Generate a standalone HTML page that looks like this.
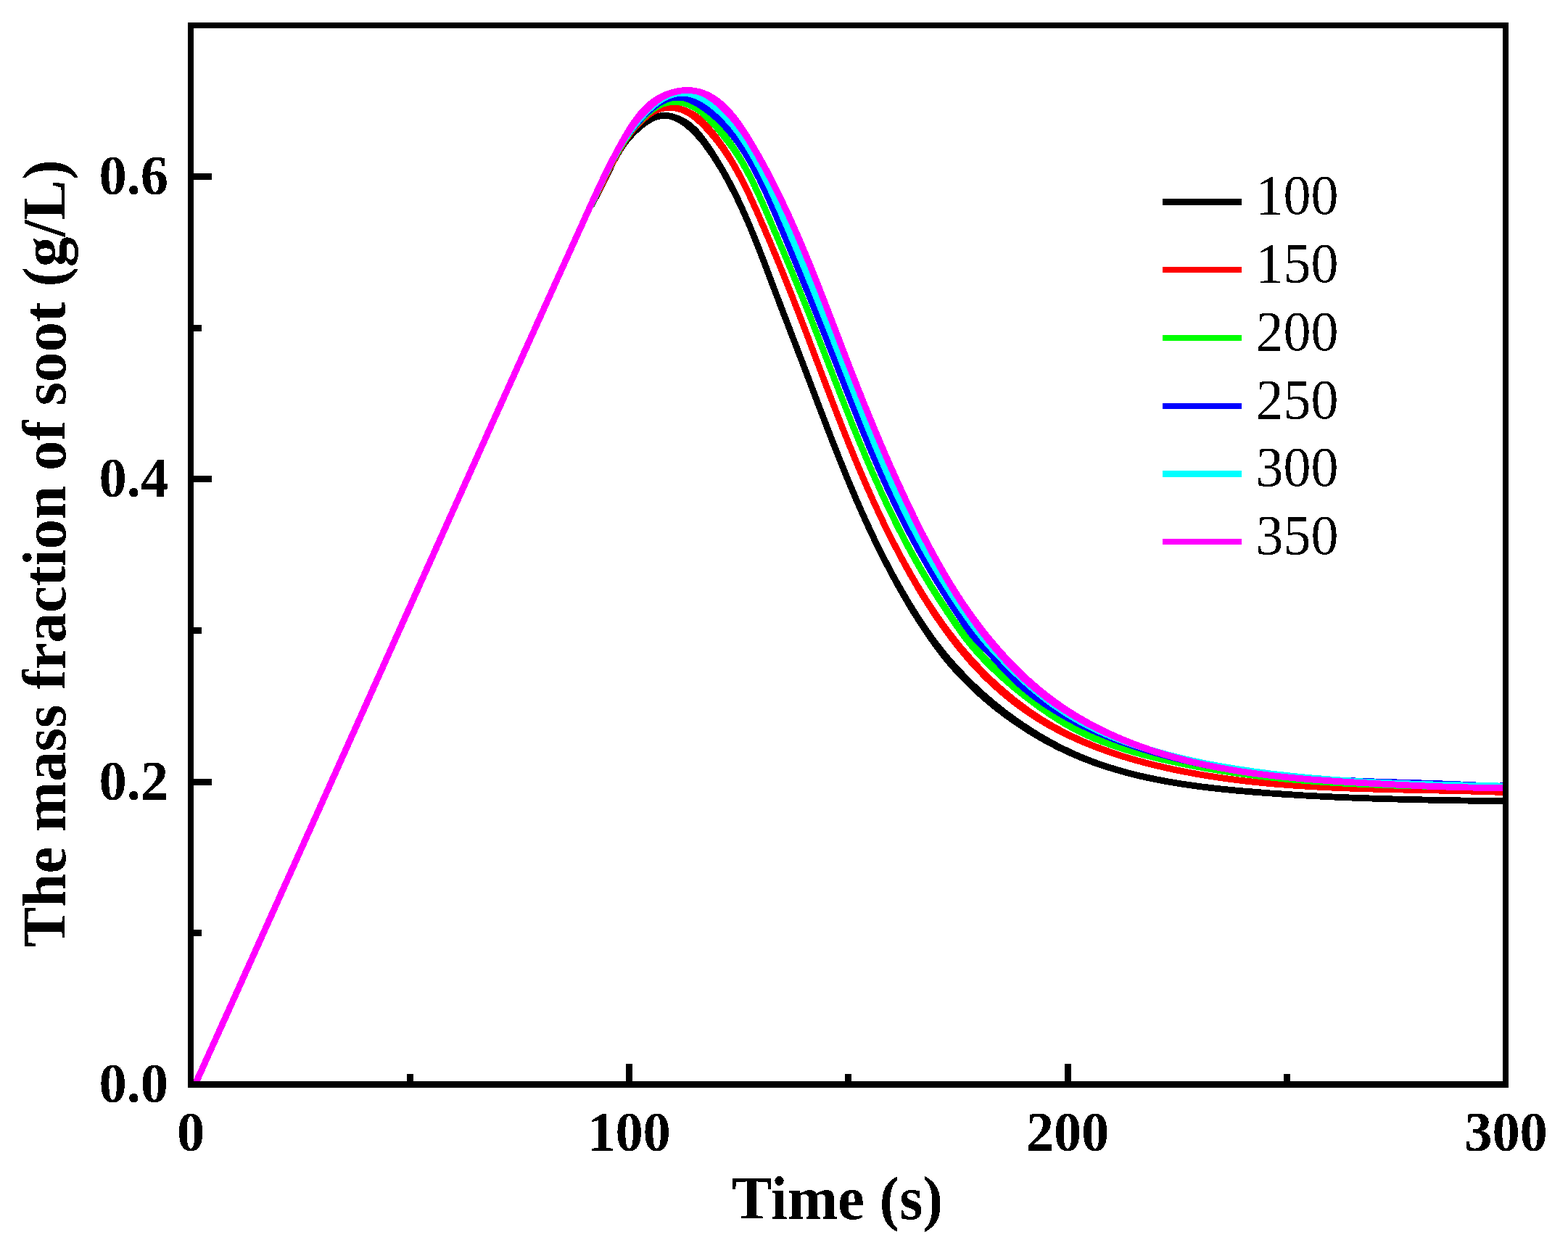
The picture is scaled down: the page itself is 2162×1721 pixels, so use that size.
<!DOCTYPE html>
<html><head><meta charset="utf-8"><title>The mass fraction of soot</title>
<style>
html,body{margin:0;padding:0;background:#fff;}
body{width:2162px;height:1721px;overflow:hidden;}
svg{display:block;}
.b{font-family:"Liberation Serif","Times New Roman",serif;font-weight:bold;fill:#000;}
.r{font-family:"Liberation Serif","Times New Roman",serif;font-weight:normal;fill:#000;}
</style></head>
<body>
<svg width="2162" height="1721" viewBox="0 0 2162 1721">
<rect x="0" y="0" width="2162" height="1721" fill="#fff"/>
<g fill="none" stroke-width="8.80" stroke-linejoin="round" stroke-linecap="butt" shape-rendering="crispEdges">
<path d="M819.4,285.2L820.1,283.9L820.8,282.5L821.5,281.2L822.2,279.8L823.0,278.5L823.7,277.1L824.4,275.7L825.1,274.4L825.8,273.0L826.5,271.7L827.2,270.3L828.0,268.9L828.7,267.6L829.4,266.2L830.1,264.8L830.8,263.4L831.5,262.0L832.2,260.7L832.9,259.3L833.6,257.9L834.3,256.5L835.0,255.1L835.7,253.7L836.4,252.3L837.1,250.9L837.8,249.5L838.4,248.1L839.1,246.7L839.8,245.2L840.5,243.8L841.2,242.4L841.8,241.0L842.5,239.6L843.2,238.2L843.9,236.8L844.6,235.4L845.3,234.0L845.9,232.6L846.6,231.2L847.3,229.8L848.0,228.4L848.7,227.0L849.4,225.6L850.1,224.2L850.8,222.9L851.6,221.5L852.3,220.2L853.0,218.8L853.7,217.5L854.5,216.1L855.2,214.8L856.0,213.5L856.8,212.2L857.6,210.9L858.3,209.6L859.1,208.3L859.9,207.0L860.8,205.8L861.6,204.5L862.4,203.3L863.3,202.1L864.2,200.9L865.0,199.7L865.9,198.5L866.8,197.3L867.7,196.2L868.7,195.1L869.6,193.9L870.6,192.8L871.5,191.7L872.5,190.7L873.5,189.6L874.4,188.6L875.4,187.5L876.4,186.5L877.4,185.5L878.5,184.4L879.5,183.4L880.5,182.5L881.6,181.5L882.6,180.5L883.7,179.6L884.8,178.6L885.9,177.7L887.0,176.8L888.2,175.9L889.3,175.0L890.5,174.1L891.7,173.3L892.9,172.4L894.1,171.6L895.4,170.8L896.6,170.1L897.9,169.3L899.1,168.6L900.4,168.0L901.7,167.3L903.0,166.7L904.3,166.2L905.6,165.7L907.0,165.3L908.3,164.9L909.6,164.6L910.9,164.3L912.3,164.1L913.6,163.9L914.9,163.8L916.2,163.8L917.5,163.8L918.9,163.9L920.2,164.1L921.5,164.3L922.8,164.5L924.2,164.8L925.5,165.2L926.8,165.6L928.1,166.1L929.4,166.6L930.7,167.2L932.0,167.8L933.3,168.5L934.6,169.2L935.9,169.9L937.1,170.7L938.3,171.5L939.6,172.3L940.8,173.2L942.0,174.1L943.2,175.0L944.3,175.9L945.5,176.8L946.6,177.8L947.8,178.8L948.9,179.7L949.9,180.7L951.0,181.7L952.1,182.8L953.1,183.8L954.2,184.8L955.2,185.9L956.2,186.9L957.2,188.0L958.2,189.1L959.2,190.2L960.2,191.3L961.2,192.4L962.2,193.5L963.2,194.6L964.1,195.8L965.1,197.0L966.0,198.1L966.9,199.3L967.8,200.5L968.7,201.7L969.6,202.9L970.5,204.2L971.4,205.4L972.3,206.6L973.2,207.8L974.1,209.1L974.9,210.3L975.8,211.6L976.7,212.8L977.5,214.1L978.4,215.3L979.2,216.6L980.1,217.8L980.9,219.1L981.7,220.4L982.5,221.7L983.4,222.9L984.2,224.2L985.0,225.5L985.8,226.8L986.6,228.1L987.4,229.4L988.2,230.6L989.0,231.9L989.8,233.2L990.6,234.5L991.3,235.8L992.1,237.2L992.9,238.5L993.7,239.8L994.4,241.1L995.2,242.4L995.9,243.7L996.7,245.1L997.4,246.4L998.2,247.7L998.9,249.1L999.6,250.4L1000.4,251.7L1001.1,253.1L1001.8,254.4L1002.5,255.8L1003.2,257.1L1003.9,258.4L1004.6,259.8L1005.3,261.2L1006.0,262.5L1006.7,263.9L1007.4,265.2L1008.1,266.6L1008.8,268.0L1009.5,269.3L1010.2,270.7L1010.9,272.1L1011.5,273.4L1012.2,274.8L1012.9,276.2L1013.5,277.6L1014.2,278.9L1014.8,280.3L1015.5,281.7L1016.2,283.1L1016.8,284.5L1017.5,285.9L1018.1,287.3L1018.7,288.7L1019.4,290.1L1020.0,291.5L1020.6,292.9L1021.3,294.3L1021.9,295.7L1022.5,297.1L1023.2,298.5L1023.8,299.9L1024.4,301.3L1025.0,302.7L1025.6,304.1L1026.2,305.5L1026.8,306.9L1027.5,308.3L1028.1,309.8L1028.7,311.2L1029.3,312.6L1029.9,314.0L1030.5,315.4L1031.1,316.9L1031.6,318.3L1032.2,319.7L1032.8,321.1L1033.4,322.5L1034.0,324.0L1034.6,325.4L1035.2,326.8L1035.7,328.3L1036.3,329.7L1036.9,331.1L1037.5,332.6L1038.1,334.0L1038.6,335.4L1039.2,336.9L1039.8,338.3L1040.3,339.7L1040.9,341.2L1041.5,342.6L1042.0,344.1L1042.6,345.5L1043.2,346.9L1043.7,348.4L1044.3,349.8L1044.8,351.3L1045.4,352.7L1046.0,354.1L1046.5,355.6L1047.1,357.0L1047.6,358.5L1048.2,359.9L1048.7,361.4L1049.3,362.8L1049.8,364.3L1050.4,365.7L1050.9,367.2L1051.5,368.6L1052.0,370.0L1052.6,371.5L1053.1,372.9L1053.7,374.4L1054.2,375.8L1054.8,377.3L1055.3,378.7L1055.9,380.2L1056.4,381.6L1057.0,383.1L1057.5,384.5L1058.1,386.0L1058.6,387.4L1059.2,388.9L1059.7,390.3L1060.2,391.8L1060.8,393.2L1061.3,394.6L1061.9,396.1L1062.4,397.5L1063.0,399.0L1063.5,400.4L1064.1,401.9L1064.6,403.3L1065.2,404.8L1065.7,406.2L1066.3,407.6L1066.8,409.1L1067.4,410.5L1067.9,412.0L1068.5,413.4L1069.0,414.9L1069.6,416.3L1070.1,417.7L1070.6,419.2L1071.2,420.6L1071.7,422.1L1072.3,423.5L1072.8,424.9L1073.4,426.4L1073.9,427.8L1074.5,429.2L1075.0,430.7L1075.6,432.1L1076.1,433.5L1076.7,435.0L1077.3,436.4L1077.8,437.9L1078.4,439.3L1078.9,440.7L1079.5,442.2L1080.0,443.6L1080.6,445.0L1081.1,446.5L1081.7,447.9L1082.2,449.3L1082.8,450.8L1083.3,452.2L1083.9,453.6L1084.4,455.1L1085.0,456.5L1085.5,457.9L1086.1,459.4L1086.6,460.8L1087.2,462.2L1087.7,463.6L1088.3,465.1L1088.8,466.5L1089.4,467.9L1089.9,469.4L1090.5,470.8L1091.0,472.2L1091.6,473.7L1092.1,475.1L1092.7,476.5L1093.2,478.0L1093.8,479.4L1094.3,480.8L1094.9,482.3L1095.4,483.7L1096.0,485.1L1096.5,486.6L1097.1,488.0L1097.6,489.4L1098.2,490.9L1098.7,492.3L1099.3,493.7L1099.8,495.2L1100.4,496.6L1100.9,498.0L1101.5,499.5L1102.0,500.9L1102.6,502.3L1103.1,503.8L1103.7,505.2L1104.2,506.6L1104.8,508.1L1105.3,509.5L1105.9,510.9L1106.4,512.4L1106.9,513.8L1107.5,515.3L1108.0,516.7L1108.6,518.1L1109.1,519.6L1109.7,521.0L1110.2,522.4L1110.8,523.9L1111.3,525.3L1111.9,526.8L1112.4,528.2L1112.9,529.6L1113.5,531.1L1114.0,532.5L1114.6,534.0L1115.1,535.4L1115.7,536.8L1116.2,538.3L1116.8,539.7L1117.3,541.2L1117.9,542.6L1118.4,544.0L1119.0,545.5L1119.5,546.9L1120.0,548.4L1120.6,549.8L1121.1,551.3L1121.7,552.7L1122.2,554.1L1122.8,555.6L1123.3,557.0L1123.9,558.5L1124.4,559.9L1125.0,561.3L1125.5,562.8L1126.1,564.2L1126.6,565.7L1127.2,567.1L1127.7,568.6L1128.3,570.0L1128.8,571.4L1129.4,572.9L1129.9,574.3L1130.5,575.8L1131.0,577.2L1131.6,578.6L1132.1,580.1L1132.7,581.5L1133.2,583.0L1133.8,584.4L1134.3,585.9L1134.9,587.3L1135.4,588.7L1136.0,590.2L1136.5,591.6L1137.1,593.1L1137.7,594.5L1138.2,595.9L1138.8,597.4L1139.3,598.8L1139.9,600.3L1140.4,601.7L1141.0,603.1L1141.6,604.6L1142.1,606.0L1142.7,607.5L1143.2,608.9L1143.8,610.3L1144.4,611.8L1144.9,613.2L1145.5,614.7L1146.1,616.1L1146.6,617.5L1147.2,619.0L1147.8,620.4L1148.3,621.9L1148.9,623.3L1149.5,624.7L1150.0,626.2L1150.6,627.6L1151.2,629.0L1151.7,630.5L1152.3,631.9L1152.9,633.4L1153.5,634.8L1154.0,636.2L1154.6,637.7L1155.2,639.1L1155.8,640.5L1156.3,642.0L1156.9,643.4L1157.5,644.8L1158.1,646.3L1158.7,647.7L1159.2,649.1L1159.8,650.6L1160.4,652.0L1161.0,653.4L1161.6,654.9L1162.2,656.3L1162.8,657.7L1163.3,659.1L1163.9,660.6L1164.5,662.0L1165.1,663.4L1165.7,664.9L1166.3,666.3L1166.9,667.7L1167.5,669.1L1168.1,670.6L1168.7,672.0L1169.3,673.4L1169.9,674.8L1170.5,676.3L1171.1,677.7L1171.7,679.1L1172.3,680.5L1172.9,682.0L1173.5,683.4L1174.1,684.8L1174.7,686.2L1175.3,687.7L1175.9,689.1L1176.5,690.5L1177.2,691.9L1177.8,693.3L1178.4,694.7L1179.0,696.2L1179.6,697.6L1180.2,699.0L1180.9,700.4L1181.5,701.8L1182.1,703.2L1182.7,704.7L1183.4,706.1L1184.0,707.5L1184.6,708.9L1185.2,710.3L1185.9,711.7L1186.5,713.1L1187.1,714.5L1187.8,715.9L1188.4,717.4L1189.0,718.8L1189.7,720.2L1190.3,721.6L1191.0,723.0L1191.6,724.4L1192.3,725.8L1192.9,727.2L1193.5,728.6L1194.2,730.0L1194.8,731.4L1195.5,732.8L1196.2,734.2L1196.8,735.6L1197.5,737.0L1198.1,738.4L1198.8,739.8L1199.4,741.2L1200.1,742.6L1200.8,744.0L1201.4,745.4L1202.1,746.8L1202.8,748.2L1203.4,749.6L1204.1,750.9L1204.8,752.3L1205.5,753.7L1206.1,755.1L1206.8,756.5L1207.5,757.9L1208.2,759.3L1208.9,760.7L1209.6,762.0L1210.2,763.4L1210.9,764.8L1211.6,766.2L1212.3,767.6L1213.0,769.0L1213.7,770.3L1214.4,771.7L1215.1,773.1L1215.8,774.5L1216.5,775.8L1217.2,777.2L1217.9,778.6L1218.6,780.0L1219.3,781.3L1220.1,782.7L1220.8,784.1L1221.5,785.4L1222.2,786.8L1222.9,788.2L1223.6,789.5L1224.4,790.9L1225.1,792.3L1225.8,793.6L1226.6,795.0L1227.3,796.4L1228.0,797.7L1228.8,799.1L1229.5,800.4L1230.2,801.8L1231.0,803.1L1231.7,804.5L1232.5,805.9L1233.2,807.2L1234.0,808.6L1234.7,809.9L1235.5,811.3L1236.2,812.6L1237.0,814.0L1237.7,815.3L1238.5,816.7L1239.3,818.0L1240.0,819.3L1240.8,820.7L1241.6,822.0L1242.4,823.4L1243.1,824.7L1243.9,826.0L1244.7,827.4L1245.5,828.7L1246.3,830.0L1247.0,831.4L1247.8,832.7L1248.6,834.0L1249.4,835.4L1250.2,836.7L1251.0,838.0L1251.8,839.4L1252.6,840.7L1253.4,842.0L1254.2,843.3L1255.0,844.7L1255.8,846.0L1256.7,847.3L1257.5,848.6L1258.3,849.9L1259.1,851.2L1259.9,852.6L1260.8,853.9L1261.6,855.2L1262.4,856.5L1263.3,857.8L1264.1,859.1L1264.9,860.4L1265.8,861.7L1266.6,863.0L1267.5,864.3L1268.3,865.6L1269.2,866.9L1270.0,868.2L1270.9,869.5L1271.7,870.8L1272.6,872.1L1273.5,873.4L1274.3,874.7L1275.2,876.0L1276.1,877.3L1277.0,878.6L1277.8,879.8L1278.7,881.1L1279.6,882.4L1280.5,883.7L1281.4,884.9L1282.3,886.2L1283.2,887.5L1284.1,888.8L1285.0,890.0L1285.9,891.3L1286.9,892.5L1287.8,893.8L1288.7,895.0L1289.6,896.3L1290.6,897.5L1291.5,898.8L1292.5,900.0L1293.4,901.3L1294.4,902.5L1295.3,903.7L1296.3,905.0L1297.2,906.2L1298.2,907.4L1299.2,908.6L1300.1,909.9L1301.1,911.1L1302.1,912.3L1303.1,913.5L1304.1,914.7L1305.1,915.9L1306.1,917.1L1307.1,918.3L1308.1,919.4L1309.1,920.6L1310.2,921.8L1311.2,923.0L1312.2,924.1L1313.3,925.3L1314.3,926.5L1315.3,927.6L1316.4,928.8L1317.4,929.9L1318.5,931.1L1319.5,932.2L1320.6,933.4L1321.7,934.5L1322.8,935.6L1323.8,936.8L1324.9,937.9L1326.0,939.0L1327.1,940.1L1328.2,941.2L1329.3,942.3L1330.4,943.4L1331.5,944.5L1332.6,945.6L1333.7,946.7L1334.8,947.8L1335.9,948.9L1337.1,950.0L1338.2,951.0L1339.3,952.1L1340.5,953.2L1341.6,954.3L1342.7,955.3L1343.9,956.4L1345.0,957.4L1346.2,958.5L1347.3,959.5L1348.5,960.6L1349.7,961.6L1350.8,962.6L1352.0,963.7L1353.2,964.7L1354.4,965.7L1355.5,966.7L1356.7,967.8L1357.9,968.8L1359.1,969.8L1360.3,970.8L1361.5,971.8L1362.7,972.8L1363.9,973.8L1365.1,974.8L1366.3,975.7L1367.5,976.7L1368.7,977.7L1370.0,978.7L1371.2,979.6L1372.4,980.6L1373.6,981.6L1374.9,982.5L1376.1,983.5L1377.4,984.4L1378.6,985.4L1379.8,986.3L1381.1,987.3L1382.3,988.2L1383.6,989.1L1384.9,990.1L1386.1,991.0L1387.4,991.9L1388.6,992.8L1389.9,993.7L1391.2,994.6L1392.5,995.5L1393.7,996.4L1395.0,997.3L1396.3,998.2L1397.6,999.1L1398.9,1000.0L1400.2,1000.9L1401.5,1001.8L1402.8,1002.6L1404.1,1003.5L1405.4,1004.4L1406.7,1005.2L1408.0,1006.1L1409.3,1007.0L1410.6,1007.8L1411.9,1008.7L1413.2,1009.5L1414.6,1010.3L1415.9,1011.2L1417.2,1012.0L1418.5,1012.8L1419.9,1013.6L1421.2,1014.5L1422.5,1015.3L1423.9,1016.1L1425.2,1016.9L1426.6,1017.7L1427.9,1018.5L1429.3,1019.3L1430.6,1020.1L1432.0,1020.8L1433.3,1021.6L1434.7,1022.4L1436.0,1023.2L1437.4,1023.9L1438.8,1024.7L1440.1,1025.4L1441.5,1026.2L1442.9,1026.9L1444.3,1027.7L1445.6,1028.4L1447.0,1029.2L1448.4,1029.9L1449.8,1030.6L1451.2,1031.3L1452.6,1032.0L1453.9,1032.8L1455.3,1033.5L1456.7,1034.2L1458.1,1034.9L1459.5,1035.5L1460.9,1036.2L1462.3,1036.9L1463.7,1037.6L1465.1,1038.3L1466.6,1038.9L1468.0,1039.6L1469.4,1040.2L1470.8,1040.9L1472.2,1041.5L1473.6,1042.2L1475.1,1042.8L1476.5,1043.5L1477.9,1044.1L1479.3,1044.7L1480.8,1045.3L1482.2,1045.9L1483.6,1046.5L1485.0,1047.1L1486.5,1047.7L1487.9,1048.3L1489.4,1048.9L1490.8,1049.5L1492.2,1050.1L1493.7,1050.6L1495.1,1051.2L1496.6,1051.8L1498.0,1052.3L1499.5,1052.9L1500.9,1053.4L1502.4,1054.0L1503.8,1054.5L1505.3,1055.0L1506.7,1055.6L1508.2,1056.1L1509.6,1056.6L1511.1,1057.1L1512.6,1057.6L1514.0,1058.1L1515.5,1058.6L1517.0,1059.1L1518.4,1059.6L1519.9,1060.1L1521.4,1060.6L1522.8,1061.1L1524.3,1061.6L1525.8,1062.0L1527.3,1062.5L1528.7,1063.0L1530.2,1063.4L1531.7,1063.9L1533.2,1064.3L1534.7,1064.8L1536.1,1065.2L1537.6,1065.7L1539.1,1066.1L1540.6,1066.5L1542.1,1066.9L1543.6,1067.4L1545.1,1067.8L1546.6,1068.2L1548.0,1068.6L1549.5,1069.0L1551.0,1069.4L1552.5,1069.8L1554.0,1070.2L1555.5,1070.6L1557.0,1071.0L1558.5,1071.4L1560.0,1071.8L1561.5,1072.1L1563.0,1072.5L1564.5,1072.9L1566.0,1073.2L1567.6,1073.6L1569.1,1074.0L1570.6,1074.3L1572.1,1074.7L1573.6,1075.0L1575.1,1075.4L1576.6,1075.7L1578.1,1076.0L1579.6,1076.4L1581.2,1076.7L1582.7,1077.0L1584.2,1077.3L1585.7,1077.7L1587.2,1078.0L1588.7,1078.3L1590.3,1078.6L1591.8,1078.9L1593.3,1079.2L1594.8,1079.5L1596.4,1079.8L1597.9,1080.1L1599.4,1080.4L1600.9,1080.7L1602.5,1081.0L1604.0,1081.3L1605.5,1081.5L1607.0,1081.8L1608.6,1082.1L1610.1,1082.4L1611.6,1082.6L1613.2,1082.9L1614.7,1083.2L1616.2,1083.4L1617.8,1083.7L1619.3,1083.9L1620.8,1084.2L1622.4,1084.4L1623.9,1084.7L1625.4,1084.9L1627.0,1085.2L1628.5,1085.4L1630.1,1085.6L1631.6,1085.9L1633.1,1086.1L1634.7,1086.3L1636.2,1086.6L1637.7,1086.8L1639.3,1087.0L1640.8,1087.2L1642.4,1087.4L1643.9,1087.7L1645.5,1087.9L1647.0,1088.1L1648.5,1088.3L1650.1,1088.5L1651.6,1088.7L1653.2,1088.9L1654.7,1089.1L1656.3,1089.3L1657.8,1089.5L1659.3,1089.7L1660.9,1089.9L1662.4,1090.1L1664.0,1090.2L1665.5,1090.4L1667.1,1090.6L1668.6,1090.8L1670.2,1091.0L1671.7,1091.1L1673.3,1091.3L1674.8,1091.5L1676.4,1091.7L1677.9,1091.8L1679.5,1092.0L1681.0,1092.2L1682.5,1092.3L1684.1,1092.5L1685.6,1092.7L1687.2,1092.8L1688.7,1093.0L1690.3,1093.1L1691.8,1093.3L1693.4,1093.4L1694.9,1093.6L1696.5,1093.7L1698.0,1093.9L1699.6,1094.0L1701.1,1094.2L1702.7,1094.3L1704.2,1094.5L1705.8,1094.6L1707.3,1094.8L1708.9,1094.9L1710.4,1095.0L1712.0,1095.2L1713.5,1095.3L1715.0,1095.4L1716.6,1095.6L1718.1,1095.7L1719.7,1095.8L1721.2,1096.0L1722.8,1096.1L1724.3,1096.2L1725.9,1096.4L1727.4,1096.5L1729.0,1096.6L1730.5,1096.7L1732.0,1096.9L1733.6,1097.0L1735.1,1097.1L1736.7,1097.2L1738.2,1097.3L1739.8,1097.5L1741.3,1097.6L1742.9,1097.7L1744.4,1097.8L1745.9,1097.9L1747.5,1098.0L1749.0,1098.2L1750.6,1098.3L1752.1,1098.4L1753.7,1098.5L1755.2,1098.6L1756.7,1098.7L1758.3,1098.8L1759.8,1098.9L1761.4,1099.0L1762.9,1099.1L1764.4,1099.2L1766.0,1099.4L1767.5,1099.5L1769.1,1099.6L1770.6,1099.7L1772.1,1099.8L1773.7,1099.9L1775.2,1100.0L1776.8,1100.1L1778.3,1100.2L1779.8,1100.3L1781.4,1100.3L1782.9,1100.4L1784.5,1100.5L1786.0,1100.6L1787.5,1100.7L1789.1,1100.8L1790.6,1100.9L1792.2,1101.0L1793.7,1101.1L1795.2,1101.2L1796.8,1101.3L1798.3,1101.4L1799.9,1101.4L1801.4,1101.5L1802.9,1101.6L1804.5,1101.7L1806.0,1101.8L1807.5,1101.9L1809.1,1101.9L1810.6,1102.0L1812.2,1102.1L1813.7,1102.2L1815.2,1102.3L1816.8,1102.3L1818.3,1102.4L1819.8,1102.5L1821.4,1102.6L1822.9,1102.7L1824.5,1102.7L1826.0,1102.8L1827.5,1102.9L1829.1,1103.0L1830.6,1103.0L1832.1,1103.1L1833.7,1103.2L1835.2,1103.2L1836.7,1103.3L1838.3,1103.4L1839.8,1103.5L1841.4,1103.5L1842.9,1103.6L1844.4,1103.7L1846.0,1103.7L1847.5,1103.8L1849.0,1103.9L1850.6,1103.9L1852.1,1104.0L1853.6,1104.0L1855.2,1104.1L1856.7,1104.2L1858.3,1104.2L1859.8,1104.3L1861.3,1104.4L1862.9,1104.4L1864.4,1104.5L1865.9,1104.5L1867.5,1104.6L1869.0,1104.7L1870.5,1104.7L1872.1,1104.8L1873.6,1104.8L1875.1,1104.9L1876.7,1104.9L1878.2,1105.0L1879.8,1105.0L1881.3,1105.1L1882.8,1105.1L1884.4,1105.2L1885.9,1105.3L1887.4,1105.3L1889.0,1105.4L1890.5,1105.4L1892.0,1105.5L1893.6,1105.5L1895.1,1105.6L1896.6,1105.6L1898.2,1105.7L1899.7,1105.7L1901.3,1105.7L1902.8,1105.8L1904.3,1105.8L1905.9,1105.9L1907.4,1105.9L1908.9,1106.0L1910.5,1106.0L1912.0,1106.1L1913.5,1106.1L1915.1,1106.2L1916.6,1106.2L1918.1,1106.2L1919.7,1106.3L1921.2,1106.3L1922.8,1106.4L1924.3,1106.4L1925.8,1106.4L1927.4,1106.5L1928.9,1106.5L1930.4,1106.6L1932.0,1106.6L1933.5,1106.6L1935.1,1106.7L1936.6,1106.7L1938.1,1106.8L1939.7,1106.8L1941.2,1106.8L1942.7,1106.9L1944.3,1106.9L1945.8,1106.9L1947.3,1107.0L1948.9,1107.0L1950.4,1107.1L1952.0,1107.1L1953.5,1107.1L1955.0,1107.2L1956.6,1107.2L1958.1,1107.2L1959.7,1107.3L1961.2,1107.3L1962.7,1107.3L1964.3,1107.4L1965.8,1107.4L1967.3,1107.4L1968.9,1107.5L1970.4,1107.5L1972.0,1107.5L1973.5,1107.5L1975.0,1107.6L1976.6,1107.6L1978.1,1107.6L1979.7,1107.7L1981.2,1107.7L1982.7,1107.7L1984.3,1107.8L1985.8,1107.8L1987.4,1107.8L1988.9,1107.8L1990.4,1107.9L1992.0,1107.9L1993.5,1107.9L1995.1,1108.0L1996.6,1108.0L1998.2,1108.0L1999.7,1108.0L2001.2,1108.1L2002.8,1108.1L2004.3,1108.1L2005.9,1108.1L2007.4,1108.2L2008.9,1108.2L2010.5,1108.2L2012.0,1108.3L2013.6,1108.3L2015.1,1108.3L2016.7,1108.3L2018.2,1108.4L2019.7,1108.4L2021.3,1108.4L2022.8,1108.4L2024.4,1108.5L2025.9,1108.5L2027.5,1108.5L2029.0,1108.5L2030.6,1108.6L2032.1,1108.6L2033.7,1108.6L2035.2,1108.6L2036.7,1108.7L2038.3,1108.7L2039.8,1108.7L2041.4,1108.7L2042.9,1108.8L2044.5,1108.8L2046.0,1108.8L2047.6,1108.8L2049.1,1108.9L2050.7,1108.9L2052.2,1108.9L2053.8,1108.9L2055.3,1109.0L2056.9,1109.0L2058.4,1109.0L2060.0,1109.0L2061.5,1109.1L2063.1,1109.1L2064.6,1109.1L2066.2,1109.1L2067.7,1109.2L2069.3,1109.2L2070.8,1109.2L2072.4,1109.2L2073.9,1109.3L2075.5,1109.3L2077.0,1109.3L2077.2,1100.5L2075.6,1100.5L2074.1,1100.4L2072.5,1100.4L2070.9,1100.4L2069.4,1100.4L2067.8,1100.3L2066.3,1100.3L2064.7,1100.3L2063.2,1100.3L2061.6,1100.2L2060.1,1100.2L2058.5,1100.2L2057.0,1100.2L2055.5,1100.1L2053.9,1100.1L2052.4,1100.1L2050.8,1100.1L2049.3,1100.0L2047.7,1100.0L2046.2,1100.0L2044.6,1100.0L2043.1,1099.9L2041.5,1099.9L2040.0,1099.9L2038.4,1099.9L2036.9,1099.8L2035.3,1099.8L2033.8,1099.8L2032.2,1099.8L2030.7,1099.7L2029.2,1099.7L2027.6,1099.7L2026.1,1099.7L2024.5,1099.6L2023.0,1099.6L2021.4,1099.6L2019.9,1099.6L2018.4,1099.5L2016.8,1099.5L2015.3,1099.5L2013.7,1099.5L2012.2,1099.4L2010.6,1099.4L2009.1,1099.4L2007.6,1099.4L2006.0,1099.3L2004.5,1099.3L2002.9,1099.3L2001.4,1099.3L1999.8,1099.2L1998.3,1099.2L1996.8,1099.2L1995.2,1099.1L1993.7,1099.1L1992.1,1099.1L1990.6,1099.1L1989.1,1099.0L1987.5,1099.0L1986.0,1099.0L1984.5,1098.9L1982.9,1098.9L1981.4,1098.9L1979.8,1098.8L1978.3,1098.8L1976.8,1098.8L1975.2,1098.8L1973.7,1098.7L1972.1,1098.7L1970.6,1098.7L1969.1,1098.6L1967.5,1098.6L1966.0,1098.6L1964.5,1098.5L1962.9,1098.5L1961.4,1098.5L1959.8,1098.4L1958.3,1098.4L1956.8,1098.4L1955.2,1098.3L1953.7,1098.3L1952.2,1098.3L1950.6,1098.2L1949.1,1098.2L1947.6,1098.2L1946.0,1098.1L1944.5,1098.1L1942.9,1098.1L1941.4,1098.0L1939.9,1098.0L1938.3,1097.9L1936.8,1097.9L1935.3,1097.9L1933.7,1097.8L1932.2,1097.8L1930.7,1097.7L1929.1,1097.7L1927.6,1097.7L1926.1,1097.6L1924.5,1097.6L1923.0,1097.5L1921.5,1097.5L1919.9,1097.5L1918.4,1097.4L1916.9,1097.4L1915.3,1097.3L1913.8,1097.3L1912.3,1097.2L1910.7,1097.2L1909.2,1097.2L1907.7,1097.1L1906.1,1097.1L1904.6,1097.0L1903.1,1097.0L1901.5,1096.9L1900.0,1096.9L1898.5,1096.8L1896.9,1096.8L1895.4,1096.7L1893.9,1096.7L1892.3,1096.6L1890.8,1096.6L1889.3,1096.5L1887.7,1096.5L1886.2,1096.4L1884.7,1096.4L1883.1,1096.3L1881.6,1096.3L1880.1,1096.2L1878.5,1096.2L1877.0,1096.1L1875.5,1096.1L1873.9,1096.0L1872.4,1095.9L1870.9,1095.9L1869.3,1095.8L1867.8,1095.8L1866.3,1095.7L1864.7,1095.7L1863.2,1095.6L1861.7,1095.5L1860.1,1095.5L1858.6,1095.4L1857.1,1095.4L1855.5,1095.3L1854.0,1095.2L1852.5,1095.2L1850.9,1095.1L1849.4,1095.0L1847.9,1095.0L1846.3,1094.9L1844.8,1094.8L1843.3,1094.8L1841.7,1094.7L1840.2,1094.6L1838.7,1094.6L1837.1,1094.5L1835.6,1094.4L1834.1,1094.4L1832.5,1094.3L1831.0,1094.2L1829.5,1094.1L1828.0,1094.1L1826.4,1094.0L1824.9,1093.9L1823.4,1093.8L1821.8,1093.8L1820.3,1093.7L1818.8,1093.6L1817.2,1093.5L1815.7,1093.5L1814.2,1093.4L1812.6,1093.3L1811.1,1093.2L1809.6,1093.1L1808.0,1093.0L1806.5,1093.0L1805.0,1092.9L1803.4,1092.8L1801.9,1092.7L1800.4,1092.6L1798.8,1092.5L1797.3,1092.5L1795.7,1092.4L1794.2,1092.3L1792.7,1092.2L1791.1,1092.1L1789.6,1092.0L1788.1,1091.9L1786.5,1091.8L1785.0,1091.7L1783.5,1091.6L1781.9,1091.5L1780.4,1091.4L1778.9,1091.3L1777.3,1091.2L1775.8,1091.1L1774.3,1091.0L1772.7,1090.9L1771.2,1090.8L1769.7,1090.7L1768.1,1090.6L1766.6,1090.5L1765.0,1090.4L1763.5,1090.3L1762.0,1090.2L1760.4,1090.1L1758.9,1090.0L1757.4,1089.9L1755.8,1089.8L1754.3,1089.7L1752.8,1089.6L1751.2,1089.5L1749.7,1089.3L1748.1,1089.2L1746.6,1089.1L1745.1,1089.0L1743.5,1088.9L1742.0,1088.8L1740.4,1088.6L1738.9,1088.5L1737.4,1088.4L1735.8,1088.3L1734.3,1088.2L1732.8,1088.0L1731.2,1087.9L1729.7,1087.8L1728.1,1087.7L1726.6,1087.5L1725.1,1087.4L1723.5,1087.3L1722.0,1087.2L1720.4,1087.0L1718.9,1086.9L1717.4,1086.8L1715.8,1086.6L1714.3,1086.5L1712.7,1086.4L1711.2,1086.2L1709.7,1086.1L1708.1,1085.9L1706.6,1085.8L1705.0,1085.7L1703.5,1085.5L1702.0,1085.4L1700.4,1085.2L1698.9,1085.1L1697.3,1084.9L1695.8,1084.8L1694.3,1084.6L1692.7,1084.5L1691.2,1084.3L1689.6,1084.2L1688.1,1084.0L1686.6,1083.8L1685.0,1083.7L1683.5,1083.5L1681.9,1083.4L1680.4,1083.2L1678.9,1083.0L1677.3,1082.9L1675.8,1082.7L1674.3,1082.5L1672.7,1082.3L1671.2,1082.2L1669.6,1082.0L1668.1,1081.8L1666.6,1081.6L1665.0,1081.4L1663.5,1081.3L1662.0,1081.1L1660.4,1080.9L1658.9,1080.7L1657.4,1080.5L1655.8,1080.3L1654.3,1080.1L1652.8,1079.9L1651.2,1079.7L1649.7,1079.5L1648.2,1079.3L1646.7,1079.1L1645.1,1078.9L1643.6,1078.6L1642.1,1078.4L1640.5,1078.2L1639.0,1078.0L1637.5,1077.8L1636.0,1077.5L1634.4,1077.3L1632.9,1077.1L1631.4,1076.9L1629.9,1076.6L1628.4,1076.4L1626.8,1076.1L1625.3,1075.9L1623.8,1075.7L1622.3,1075.4L1620.8,1075.2L1619.2,1074.9L1617.7,1074.6L1616.2,1074.4L1614.7,1074.1L1613.2,1073.9L1611.7,1073.6L1610.1,1073.3L1608.6,1073.0L1607.1,1072.8L1605.6,1072.5L1604.1,1072.2L1602.6,1071.9L1601.1,1071.6L1599.6,1071.3L1598.1,1071.0L1596.6,1070.8L1595.1,1070.5L1593.6,1070.1L1592.1,1069.8L1590.6,1069.5L1589.1,1069.2L1587.6,1068.9L1586.1,1068.6L1584.6,1068.3L1583.1,1067.9L1581.6,1067.6L1580.1,1067.3L1578.6,1066.9L1577.1,1066.6L1575.6,1066.3L1574.1,1065.9L1572.6,1065.6L1571.1,1065.2L1569.7,1064.8L1568.2,1064.5L1566.7,1064.1L1565.2,1063.8L1563.7,1063.4L1562.2,1063.0L1560.8,1062.6L1559.3,1062.2L1557.8,1061.9L1556.3,1061.5L1554.9,1061.1L1553.4,1060.7L1551.9,1060.3L1550.5,1059.9L1549.0,1059.5L1547.5,1059.0L1546.1,1058.6L1544.6,1058.2L1543.1,1057.8L1541.7,1057.4L1540.2,1056.9L1538.8,1056.5L1537.3,1056.0L1535.8,1055.6L1534.4,1055.1L1532.9,1054.7L1531.5,1054.2L1530.0,1053.8L1528.6,1053.3L1527.1,1052.8L1525.7,1052.4L1524.3,1051.9L1522.8,1051.4L1521.4,1050.9L1519.9,1050.4L1518.5,1049.9L1517.1,1049.4L1515.6,1048.9L1514.2,1048.4L1512.8,1047.9L1511.4,1047.3L1509.9,1046.8L1508.5,1046.3L1507.1,1045.8L1505.7,1045.2L1504.2,1044.7L1502.8,1044.1L1501.4,1043.6L1500.0,1043.0L1498.6,1042.5L1497.2,1041.9L1495.8,1041.3L1494.4,1040.7L1493.0,1040.2L1491.6,1039.6L1490.2,1039.0L1488.8,1038.4L1487.4,1037.8L1486.0,1037.2L1484.6,1036.6L1483.2,1035.9L1481.8,1035.3L1480.4,1034.7L1479.0,1034.1L1477.6,1033.4L1476.3,1032.8L1474.9,1032.1L1473.5,1031.5L1472.1,1030.8L1470.8,1030.1L1469.4,1029.5L1468.0,1028.8L1466.6,1028.1L1465.3,1027.4L1463.9,1026.8L1462.6,1026.1L1461.2,1025.4L1459.8,1024.7L1458.5,1024.0L1457.1,1023.3L1455.8,1022.5L1454.4,1021.8L1453.1,1021.1L1451.7,1020.4L1450.4,1019.6L1449.1,1018.9L1447.7,1018.1L1446.4,1017.4L1445.1,1016.6L1443.7,1015.9L1442.4,1015.1L1441.1,1014.4L1439.7,1013.6L1438.4,1012.8L1437.1,1012.0L1435.8,1011.3L1434.5,1010.5L1433.2,1009.7L1431.9,1008.9L1430.5,1008.1L1429.2,1007.3L1427.9,1006.5L1426.6,1005.7L1425.3,1004.8L1424.0,1004.0L1422.8,1003.2L1421.5,1002.4L1420.2,1001.5L1418.9,1000.7L1417.6,999.9L1416.3,999.0L1415.1,998.2L1413.8,997.3L1412.5,996.5L1411.2,995.6L1410.0,994.8L1408.7,993.9L1407.4,993.0L1406.2,992.1L1404.9,991.3L1403.7,990.4L1402.4,989.5L1401.2,988.6L1399.9,987.7L1398.7,986.8L1397.5,985.9L1396.2,985.0L1395.0,984.1L1393.8,983.2L1392.5,982.3L1391.3,981.4L1390.1,980.5L1388.9,979.5L1387.6,978.6L1386.4,977.7L1385.2,976.7L1384.0,975.8L1382.8,974.9L1381.6,973.9L1380.4,973.0L1379.2,972.0L1378.0,971.1L1376.8,970.1L1375.6,969.2L1374.5,968.2L1373.3,967.2L1372.1,966.2L1370.9,965.3L1369.8,964.3L1368.6,963.3L1367.4,962.3L1366.3,961.3L1365.1,960.3L1364.0,959.3L1362.8,958.3L1361.7,957.3L1360.5,956.3L1359.4,955.3L1358.2,954.3L1357.1,953.3L1356.0,952.3L1354.8,951.3L1353.7,950.2L1352.6,949.2L1351.5,948.2L1350.3,947.1L1349.2,946.1L1348.1,945.0L1347.0,944.0L1345.9,942.9L1344.8,941.9L1343.7,940.8L1342.6,939.8L1341.5,938.7L1340.4,937.6L1339.4,936.6L1338.3,935.5L1337.2,934.4L1336.1,933.3L1335.1,932.3L1334.0,931.2L1332.9,930.1L1331.9,929.0L1330.8,927.9L1329.8,926.8L1328.7,925.7L1327.7,924.6L1326.6,923.5L1325.6,922.4L1324.6,921.3L1323.5,920.2L1322.5,919.0L1321.5,917.9L1320.4,916.8L1319.4,915.7L1318.4,914.5L1317.4,913.4L1316.4,912.3L1315.4,911.1L1314.4,910.0L1313.4,908.8L1312.4,907.7L1311.4,906.5L1310.4,905.4L1309.4,904.2L1308.4,903.0L1307.5,901.9L1306.5,900.7L1305.5,899.5L1304.6,898.3L1303.6,897.2L1302.6,896.0L1301.7,894.8L1300.7,893.6L1299.8,892.4L1298.8,891.2L1297.9,890.0L1297.0,888.8L1296.0,887.6L1295.1,886.4L1294.2,885.2L1293.3,883.9L1292.4,882.7L1291.4,881.5L1290.5,880.3L1289.6,879.0L1288.7,877.8L1287.8,876.6L1286.9,875.3L1286.0,874.1L1285.2,872.8L1284.3,871.6L1283.4,870.3L1282.5,869.1L1281.6,867.8L1280.8,866.6L1279.9,865.3L1279.0,864.0L1278.2,862.8L1277.3,861.5L1276.4,860.2L1275.6,859.0L1274.7,857.7L1273.9,856.4L1273.1,855.1L1272.2,853.9L1271.4,852.6L1270.5,851.3L1269.7,850.0L1268.9,848.7L1268.0,847.4L1267.2,846.1L1266.4,844.8L1265.6,843.5L1264.7,842.2L1263.9,840.9L1263.1,839.6L1262.3,838.3L1261.5,837.0L1260.7,835.7L1259.9,834.4L1259.1,833.1L1258.3,831.8L1257.5,830.5L1256.7,829.2L1255.9,827.9L1255.1,826.6L1254.3,825.3L1253.5,823.9L1252.7,822.6L1252.0,821.3L1251.2,820.0L1250.4,818.7L1249.6,817.3L1248.9,816.0L1248.1,814.7L1247.3,813.4L1246.6,812.0L1245.8,810.7L1245.0,809.4L1244.3,808.1L1243.5,806.7L1242.8,805.4L1242.0,804.1L1241.3,802.7L1240.5,801.4L1239.8,800.1L1239.0,798.7L1238.3,797.4L1237.5,796.0L1236.8,794.7L1236.1,793.3L1235.3,792.0L1234.6,790.7L1233.9,789.3L1233.2,788.0L1232.4,786.6L1231.7,785.3L1231.0,783.9L1230.3,782.6L1229.5,781.2L1228.8,779.8L1228.1,778.5L1227.4,777.1L1226.7,775.8L1226.0,774.4L1225.3,773.1L1224.6,771.7L1223.9,770.3L1223.2,769.0L1222.5,767.6L1221.8,766.2L1221.1,764.9L1220.4,763.5L1219.7,762.1L1219.0,760.8L1218.3,759.4L1217.6,758.0L1216.9,756.7L1216.3,755.3L1215.6,753.9L1214.9,752.5L1214.2,751.2L1213.6,749.8L1212.9,748.4L1212.2,747.0L1211.5,745.6L1210.9,744.3L1210.2,742.9L1209.5,741.5L1208.9,740.1L1208.2,738.7L1207.5,737.3L1206.9,736.0L1206.2,734.6L1205.6,733.2L1204.9,731.8L1204.3,730.4L1203.6,729.0L1203.0,727.6L1202.3,726.2L1201.7,724.8L1201.0,723.4L1200.4,722.1L1199.7,720.7L1199.1,719.3L1198.4,717.9L1197.8,716.5L1197.2,715.1L1196.5,713.7L1195.9,712.3L1195.3,710.9L1194.6,709.5L1194.0,708.1L1193.4,706.7L1192.7,705.3L1192.1,703.9L1191.5,702.5L1190.9,701.1L1190.3,699.6L1189.6,698.2L1189.0,696.8L1188.4,695.4L1187.8,694.0L1187.2,692.6L1186.5,691.2L1185.9,689.8L1185.3,688.4L1184.7,687.0L1184.1,685.6L1183.5,684.1L1182.9,682.7L1182.3,681.3L1181.7,679.9L1181.1,678.5L1180.5,677.1L1179.9,675.7L1179.3,674.2L1178.7,672.8L1178.1,671.4L1177.5,670.0L1176.9,668.6L1176.3,667.1L1175.7,665.7L1175.1,664.3L1174.5,662.9L1173.9,661.5L1173.3,660.0L1172.7,658.6L1172.1,657.2L1171.5,655.8L1171.0,654.3L1170.4,652.9L1169.8,651.5L1169.2,650.1L1168.6,648.6L1168.0,647.2L1167.5,645.8L1166.9,644.4L1166.3,642.9L1165.7,641.5L1165.1,640.1L1164.6,638.7L1164.0,637.2L1163.4,635.8L1162.8,634.4L1162.3,632.9L1161.7,631.5L1161.1,630.1L1160.5,628.6L1160.0,627.2L1159.4,625.8L1158.8,624.3L1158.3,622.9L1157.7,621.5L1157.1,620.0L1156.6,618.6L1156.0,617.2L1155.4,615.7L1154.9,614.3L1154.3,612.9L1153.7,611.4L1153.2,610.0L1152.6,608.6L1152.1,607.1L1151.5,605.7L1150.9,604.3L1150.4,602.8L1149.8,601.4L1149.3,599.9L1148.7,598.5L1148.1,597.1L1147.6,595.6L1147.0,594.2L1146.5,592.8L1145.9,591.3L1145.4,589.9L1144.8,588.4L1144.2,587.0L1143.7,585.6L1143.1,584.1L1142.6,582.7L1142.0,581.2L1141.5,579.8L1140.9,578.4L1140.4,576.9L1139.8,575.5L1139.3,574.0L1138.7,572.6L1138.2,571.2L1137.6,569.7L1137.1,568.3L1136.5,566.8L1136.0,565.4L1135.4,564.0L1134.9,562.5L1134.3,561.1L1133.8,559.6L1133.2,558.2L1132.7,556.8L1132.1,555.3L1131.6,553.9L1131.0,552.4L1130.5,551.0L1130.0,549.6L1129.4,548.1L1128.9,546.7L1128.3,545.2L1127.8,543.8L1127.2,542.4L1126.7,540.9L1126.1,539.5L1125.6,538.0L1125.0,536.6L1124.5,535.2L1123.9,533.7L1123.4,532.3L1122.9,530.8L1122.3,529.4L1121.8,527.9L1121.2,526.5L1120.7,525.1L1120.1,523.6L1119.6,522.2L1119.0,520.8L1118.5,519.3L1117.9,517.9L1117.4,516.4L1116.8,515.0L1116.3,513.6L1115.8,512.1L1115.2,510.7L1114.7,509.2L1114.1,507.8L1113.6,506.4L1113.0,504.9L1112.5,503.5L1111.9,502.1L1111.4,500.6L1110.8,499.2L1110.3,497.7L1109.7,496.3L1109.2,494.9L1108.6,493.4L1108.1,492.0L1107.5,490.6L1107.0,489.1L1106.4,487.7L1105.9,486.3L1105.3,484.8L1104.8,483.4L1104.2,482.0L1103.7,480.5L1103.1,479.1L1102.6,477.7L1102.0,476.2L1101.5,474.8L1100.9,473.4L1100.4,471.9L1099.8,470.5L1099.3,469.1L1098.7,467.6L1098.2,466.2L1097.6,464.8L1097.1,463.3L1096.5,461.9L1096.0,460.5L1095.4,459.0L1094.9,457.6L1094.3,456.2L1093.8,454.7L1093.2,453.3L1092.7,451.9L1092.1,450.4L1091.6,449.0L1091.0,447.6L1090.5,446.1L1089.9,444.7L1089.4,443.3L1088.8,441.8L1088.3,440.4L1087.7,439.0L1087.2,437.5L1086.6,436.1L1086.1,434.7L1085.5,433.2L1085.0,431.8L1084.4,430.4L1083.9,428.9L1083.3,427.5L1082.8,426.1L1082.2,424.6L1081.7,423.2L1081.1,421.8L1080.6,420.3L1080.0,418.9L1079.5,417.5L1078.9,416.0L1078.4,414.6L1077.8,413.1L1077.3,411.7L1076.7,410.3L1076.2,408.8L1075.6,407.4L1075.1,405.9L1074.5,404.5L1074.0,403.1L1073.4,401.6L1072.9,400.2L1072.3,398.7L1071.8,397.3L1071.2,395.9L1070.7,394.4L1070.2,393.0L1069.6,391.5L1069.1,390.1L1068.5,388.6L1068.0,387.2L1067.4,385.7L1066.9,384.3L1066.3,382.8L1065.8,381.4L1065.2,379.9L1064.7,378.5L1064.2,377.1L1063.6,375.6L1063.1,374.2L1062.5,372.7L1062.0,371.3L1061.4,369.8L1060.9,368.4L1060.3,366.9L1059.8,365.5L1059.2,364.0L1058.7,362.6L1058.1,361.1L1057.6,359.7L1057.0,358.2L1056.4,356.8L1055.9,355.3L1055.3,353.9L1054.8,352.4L1054.2,351.0L1053.7,349.5L1053.1,348.1L1052.5,346.6L1052.0,345.2L1051.4,343.7L1050.8,342.3L1050.3,340.8L1049.7,339.4L1049.1,337.9L1048.6,336.5L1048.0,335.0L1047.4,333.6L1046.9,332.2L1046.3,330.7L1045.7,329.3L1045.1,327.8L1044.5,326.4L1044.0,324.9L1043.4,323.5L1042.8,322.1L1042.2,320.6L1041.6,319.2L1041.0,317.7L1040.4,316.3L1039.8,314.9L1039.2,313.4L1038.6,312.0L1038.0,310.6L1037.4,309.1L1036.8,307.7L1036.2,306.3L1035.6,304.8L1035.0,303.4L1034.4,302.0L1033.8,300.6L1033.2,299.1L1032.5,297.7L1031.9,296.3L1031.3,294.9L1030.7,293.4L1030.0,292.0L1029.4,290.6L1028.8,289.2L1028.1,287.8L1027.5,286.4L1026.9,285.0L1026.2,283.5L1025.6,282.1L1024.9,280.7L1024.3,279.3L1023.6,277.9L1022.9,276.5L1022.3,275.1L1021.6,273.7L1021.0,272.3L1020.3,270.9L1019.6,269.5L1018.9,268.1L1018.3,266.7L1017.6,265.3L1016.9,263.9L1016.2,262.5L1015.5,261.2L1014.8,259.8L1014.1,258.4L1013.4,257.0L1012.7,255.6L1012.0,254.3L1011.3,252.9L1010.6,251.5L1009.9,250.1L1009.1,248.8L1008.4,247.4L1007.7,246.0L1006.9,244.7L1006.2,243.3L1005.5,241.9L1004.7,240.6L1004.0,239.2L1003.2,237.9L1002.5,236.5L1001.7,235.2L1000.9,233.8L1000.2,232.5L999.4,231.1L998.6,229.8L997.8,228.5L997.1,227.1L996.3,225.8L995.5,224.5L994.7,223.1L993.9,221.8L993.1,220.5L992.3,219.2L991.5,217.8L990.7,216.5L989.8,215.2L989.0,213.9L988.2,212.6L987.3,211.3L986.5,210.0L985.7,208.7L984.8,207.4L984.0,206.1L983.1,204.8L982.2,203.5L981.4,202.2L980.5,200.9L979.6,199.6L978.7,198.3L977.9,197.1L977.0,195.8L976.1,194.5L975.2,193.2L974.2,191.9L973.3,190.6L972.4,189.4L971.4,188.1L970.5,186.8L969.5,185.6L968.5,184.3L967.5,183.1L966.5,181.8L965.5,180.6L964.4,179.4L963.3,178.2L962.2,177.0L961.0,175.8L959.8,174.7L958.6,173.6L957.4,172.5L956.2,171.4L954.9,170.3L953.6,169.3L952.2,168.2L950.8,167.2L949.5,166.3L948.0,165.3L946.6,164.4L945.1,163.6L943.6,162.7L942.1,161.9L940.6,161.1L939.1,160.4L937.5,159.7L935.9,159.1L934.3,158.5L932.7,157.9L931.1,157.4L929.5,156.9L927.9,156.5L926.2,156.1L924.6,155.7L922.9,155.5L921.3,155.3L919.6,155.1L917.9,155.0L916.2,155.0L914.5,155.0L912.8,155.1L911.1,155.3L909.5,155.5L907.8,155.8L906.2,156.1L904.5,156.5L902.9,157.0L901.3,157.5L899.7,158.0L898.1,158.6L896.5,159.2L894.9,159.8L893.4,160.5L891.9,161.3L890.4,162.0L888.9,162.8L887.4,163.6L886.0,164.5L884.6,165.3L883.2,166.2L881.8,167.2L880.5,168.1L879.1,169.1L877.8,170.1L876.6,171.1L875.3,172.1L874.1,173.2L872.9,174.3L871.7,175.4L870.6,176.5L869.4,177.6L868.3,178.8L867.3,180.0L866.2,181.2L865.2,182.4L864.2,183.7L863.2,184.9L862.3,186.2L861.3,187.5L860.4,188.7L859.5,190.0L858.6,191.3L857.7,192.7L856.8,194.0L856.0,195.3L855.1,196.7L854.3,198.0L853.5,199.3L852.7,200.7L851.9,202.1L851.1,203.4L850.3,204.8L849.5,206.2L848.7,207.5L848.0,208.9L847.2,210.3L846.4,211.7L845.7,213.1L845.0,214.5L844.2,215.9L843.5,217.3L842.8,218.7L842.1,220.1L841.4,221.5L840.6,223.0L839.9,224.4L839.2,225.8L838.6,227.2L837.9,228.6L837.2,230.0L836.5,231.4L835.8,232.9L835.1,234.3L834.4,235.7L833.8,237.1L833.1,238.5L832.4,239.9L831.7,241.3L831.0,242.7L830.4,244.1L829.7,245.5L829.0,246.9L828.3,248.3L827.6,249.7L826.9,251.1L826.2,252.4L825.5,253.8L824.8,255.2L824.1,256.5L823.4,257.9L822.7,259.3L822.0,260.6L821.3,262.0L820.6,263.4L819.9,264.7L819.2,266.1L818.5,267.4L817.8,268.8L817.0,270.1L816.3,271.5L815.6,272.8L814.9,274.2L814.2,275.5L813.5,276.9L812.8,278.2L812.0,279.6L811.3,280.9Z" fill="#000000" stroke="none"/>
<path d="M818.0,287.0L818.7,285.7L819.4,284.3L820.2,282.9L820.9,281.5L821.6,280.2L822.3,278.8L823.0,277.4L823.7,276.0L824.4,274.7L825.1,273.3L825.8,271.9L826.5,270.5L827.2,269.1L827.9,267.8L828.6,266.4L829.3,265.0L830.0,263.6L830.7,262.3L831.4,260.9L832.1,259.5L832.7,258.1L833.4,256.8L834.1,255.4L834.8,254.0L835.5,252.6L836.2,251.2L836.9,249.9L837.6,248.5L838.2,247.1L838.9,245.7L839.6,244.3L840.3,243.0L841.0,241.6L841.6,240.2L842.3,238.8L843.0,237.5L843.7,236.1L844.4,234.7L845.0,233.4L845.7,232.0L846.4,230.6L847.1,229.3L847.8,227.9L848.5,226.6L849.2,225.2L849.9,223.8L850.6,222.5L851.3,221.1L852.0,219.8L852.7,218.4L853.4,217.1L854.2,215.8L854.9,214.4L855.6,213.1L856.4,211.7L857.1,210.4L857.9,209.1L858.6,207.7L859.4,206.4L860.2,205.1L861.0,203.8L861.8,202.4L862.6,201.1L863.4,199.8L864.2,198.5L865.0,197.2L865.8,195.9L866.7,194.6L867.5,193.4L868.4,192.1L869.3,190.8L870.2,189.6L871.1,188.4L872.0,187.1L872.9,185.9L873.9,184.7L874.8,183.6L875.8,182.4L876.7,181.2L877.7,180.1L878.7,179.0L879.7,177.9L880.7,176.8L881.7,175.7L882.8,174.6L883.8,173.6L884.8,172.5L885.9,171.5L886.9,170.5L888.0,169.5L889.0,168.5L890.1,167.5L891.2,166.6L892.3,165.7L893.4,164.7L894.5,163.8L895.7,163.0L896.8,162.1L898.0,161.3L899.2,160.5L900.3,159.7L901.6,159.0L902.8,158.3L904.0,157.6L905.3,157.0L906.5,156.4L907.8,155.8L909.1,155.3L910.4,154.9L911.8,154.4L913.1,154.1L914.4,153.7L915.8,153.5L917.2,153.2L918.5,153.1L919.9,152.9L921.3,152.8L922.7,152.8L924.0,152.8L925.4,152.9L926.8,153.0L928.2,153.1L929.6,153.3L931.0,153.5L932.4,153.8L933.8,154.1L935.1,154.4L936.5,154.8L937.9,155.2L939.2,155.7L940.5,156.2L941.8,156.8L943.1,157.4L944.4,158.0L945.7,158.7L946.9,159.4L948.1,160.1L949.3,160.9L950.5,161.7L951.7,162.5L952.9,163.4L954.0,164.3L955.2,165.2L956.3,166.1L957.4,167.0L958.6,168.0L959.7,168.9L960.8,169.9L961.9,170.9L963.0,172.0L964.0,173.0L965.1,174.0L966.2,175.1L967.2,176.2L968.3,177.3L969.3,178.3L970.4,179.4L971.4,180.5L972.4,181.7L973.4,182.8L974.5,183.9L975.5,185.0L976.5,186.2L977.4,187.3L978.4,188.5L979.4,189.7L980.4,190.8L981.3,192.0L982.3,193.1L983.3,194.3L984.2,195.5L985.1,196.7L986.1,197.9L987.0,199.1L987.9,200.3L988.8,201.5L989.7,202.7L990.6,203.9L991.5,205.1L992.4,206.3L993.3,207.5L994.1,208.8L995.0,210.0L995.9,211.2L996.7,212.5L997.6,213.7L998.4,215.0L999.3,216.2L1000.1,217.5L1000.9,218.8L1001.7,220.1L1002.5,221.3L1003.4,222.6L1004.2,223.9L1005.0,225.2L1005.7,226.5L1006.5,227.8L1007.3,229.1L1008.1,230.4L1008.9,231.7L1009.6,233.0L1010.4,234.4L1011.1,235.7L1011.9,237.0L1012.6,238.4L1013.4,239.7L1014.1,241.0L1014.9,242.4L1015.6,243.7L1016.3,245.1L1017.0,246.4L1017.7,247.8L1018.5,249.1L1019.2,250.5L1019.9,251.8L1020.6,253.2L1021.3,254.6L1022.0,256.0L1022.7,257.3L1023.3,258.7L1024.0,260.1L1024.7,261.5L1025.4,262.8L1026.1,264.2L1026.7,265.6L1027.4,267.0L1028.1,268.4L1028.7,269.8L1029.4,271.2L1030.0,272.6L1030.7,274.0L1031.3,275.4L1032.0,276.8L1032.6,278.2L1033.3,279.6L1033.9,281.0L1034.6,282.4L1035.2,283.8L1035.8,285.2L1036.5,286.6L1037.1,288.1L1037.7,289.5L1038.4,290.9L1039.0,292.3L1039.6,293.7L1040.3,295.1L1040.9,296.5L1041.5,298.0L1042.1,299.4L1042.7,300.8L1043.4,302.2L1044.0,303.6L1044.6,305.1L1045.2,306.5L1045.8,307.9L1046.4,309.3L1047.1,310.7L1047.7,312.2L1048.3,313.6L1048.9,315.0L1049.5,316.4L1050.1,317.8L1050.7,319.3L1051.3,320.7L1051.9,322.1L1052.5,323.5L1053.1,324.9L1053.8,326.4L1054.4,327.8L1055.0,329.2L1055.6,330.6L1056.2,332.0L1056.8,333.5L1057.4,334.9L1058.0,336.3L1058.6,337.7L1059.2,339.1L1059.8,340.6L1060.4,342.0L1061.0,343.4L1061.5,344.8L1062.1,346.2L1062.7,347.7L1063.3,349.1L1063.9,350.5L1064.5,351.9L1065.1,353.3L1065.7,354.8L1066.3,356.2L1066.9,357.6L1067.5,359.0L1068.0,360.4L1068.6,361.9L1069.2,363.3L1069.8,364.7L1070.4,366.1L1071.0,367.5L1071.5,369.0L1072.1,370.4L1072.7,371.8L1073.3,373.2L1073.9,374.7L1074.4,376.1L1075.0,377.5L1075.6,378.9L1076.2,380.4L1076.8,381.8L1077.3,383.2L1077.9,384.6L1078.5,386.1L1079.1,387.5L1079.6,388.9L1080.2,390.3L1080.8,391.8L1081.3,393.2L1081.9,394.6L1082.5,396.0L1083.0,397.5L1083.6,398.9L1084.2,400.3L1084.7,401.8L1085.3,403.2L1085.9,404.6L1086.4,406.0L1087.0,407.5L1087.6,408.9L1088.1,410.3L1088.7,411.8L1089.3,413.2L1089.8,414.6L1090.4,416.1L1090.9,417.5L1091.5,418.9L1092.1,420.4L1092.6,421.8L1093.2,423.2L1093.7,424.7L1094.3,426.1L1094.9,427.5L1095.4,429.0L1096.0,430.4L1096.5,431.9L1097.1,433.3L1097.6,434.7L1098.2,436.2L1098.7,437.6L1099.3,439.0L1099.8,440.5L1100.4,441.9L1100.9,443.4L1101.5,444.8L1102.1,446.2L1102.6,447.7L1103.2,449.1L1103.7,450.6L1104.3,452.0L1104.8,453.4L1105.4,454.9L1105.9,456.3L1106.5,457.8L1107.0,459.2L1107.6,460.6L1108.1,462.1L1108.6,463.5L1109.2,465.0L1109.7,466.4L1110.3,467.9L1110.8,469.3L1111.4,470.7L1111.9,472.2L1112.5,473.6L1113.0,475.1L1113.6,476.5L1114.1,478.0L1114.7,479.4L1115.2,480.9L1115.8,482.3L1116.3,483.7L1116.9,485.2L1117.4,486.6L1117.9,488.1L1118.5,489.5L1119.0,491.0L1119.6,492.4L1120.1,493.9L1120.7,495.3L1121.2,496.8L1121.8,498.2L1122.3,499.6L1122.9,501.1L1123.4,502.5L1123.9,504.0L1124.5,505.4L1125.0,506.9L1125.6,508.3L1126.1,509.8L1126.7,511.2L1127.2,512.7L1127.8,514.1L1128.3,515.6L1128.9,517.0L1129.4,518.4L1130.0,519.9L1130.5,521.3L1131.1,522.8L1131.6,524.2L1132.2,525.7L1132.7,527.1L1133.2,528.6L1133.8,530.0L1134.3,531.5L1134.9,532.9L1135.4,534.4L1136.0,535.8L1136.5,537.2L1137.1,538.7L1137.6,540.1L1138.2,541.6L1138.7,543.0L1139.3,544.5L1139.9,545.9L1140.4,547.4L1141.0,548.8L1141.5,550.3L1142.1,551.7L1142.6,553.1L1143.2,554.6L1143.7,556.0L1144.3,557.5L1144.8,558.9L1145.4,560.4L1145.9,561.8L1146.5,563.3L1147.1,564.7L1147.6,566.1L1148.2,567.6L1148.7,569.0L1149.3,570.5L1149.9,571.9L1150.4,573.4L1151.0,574.8L1151.5,576.2L1152.1,577.7L1152.7,579.1L1153.2,580.6L1153.8,582.0L1154.3,583.4L1154.9,584.9L1155.5,586.3L1156.0,587.8L1156.6,589.2L1157.2,590.6L1157.7,592.1L1158.3,593.5L1158.9,595.0L1159.5,596.4L1160.0,597.8L1160.6,599.3L1161.2,600.7L1161.7,602.2L1162.3,603.6L1162.9,605.0L1163.5,606.5L1164.0,607.9L1164.6,609.3L1165.2,610.8L1165.8,612.2L1166.3,613.6L1166.9,615.1L1167.5,616.5L1168.1,617.9L1168.7,619.4L1169.3,620.8L1169.8,622.2L1170.4,623.7L1171.0,625.1L1171.6,626.5L1172.2,628.0L1172.8,629.4L1173.4,630.8L1173.9,632.3L1174.5,633.7L1175.1,635.1L1175.7,636.5L1176.3,638.0L1176.9,639.4L1177.5,640.8L1178.1,642.3L1178.7,643.7L1179.3,645.1L1179.9,646.5L1180.5,648.0L1181.1,649.4L1181.7,650.8L1182.3,652.2L1182.9,653.7L1183.5,655.1L1184.1,656.5L1184.7,657.9L1185.3,659.3L1186.0,660.8L1186.6,662.2L1187.2,663.6L1187.8,665.0L1188.4,666.4L1189.0,667.9L1189.6,669.3L1190.3,670.7L1190.9,672.1L1191.5,673.5L1192.1,674.9L1192.8,676.4L1193.4,677.8L1194.0,679.2L1194.6,680.6L1195.3,682.0L1195.9,683.4L1196.5,684.8L1197.2,686.3L1197.8,687.7L1198.4,689.1L1199.1,690.5L1199.7,691.9L1200.3,693.3L1201.0,694.7L1201.6,696.1L1202.3,697.5L1202.9,698.9L1203.5,700.3L1204.2,701.7L1204.8,703.1L1205.5,704.5L1206.1,705.9L1206.8,707.3L1207.5,708.7L1208.1,710.1L1208.8,711.5L1209.4,712.9L1210.1,714.3L1210.7,715.7L1211.4,717.1L1212.1,718.5L1212.7,719.9L1213.4,721.3L1214.1,722.7L1214.7,724.1L1215.4,725.5L1216.1,726.9L1216.8,728.3L1217.4,729.7L1218.1,731.1L1218.8,732.4L1219.5,733.8L1220.2,735.2L1220.9,736.6L1221.5,738.0L1222.2,739.4L1222.9,740.8L1223.6,742.1L1224.3,743.5L1225.0,744.9L1225.7,746.3L1226.4,747.7L1227.1,749.0L1227.8,750.4L1228.5,751.8L1229.2,753.2L1229.9,754.5L1230.6,755.9L1231.3,757.3L1232.1,758.7L1232.8,760.0L1233.5,761.4L1234.2,762.8L1234.9,764.2L1235.6,765.5L1236.4,766.9L1237.1,768.3L1237.8,769.6L1238.5,771.0L1239.3,772.3L1240.0,773.7L1240.7,775.1L1241.5,776.4L1242.2,777.8L1243.0,779.2L1243.7,780.5L1244.5,781.9L1245.2,783.2L1245.9,784.6L1246.7,785.9L1247.4,787.3L1248.2,788.6L1249.0,790.0L1249.7,791.3L1250.5,792.7L1251.2,794.0L1252.0,795.4L1252.8,796.7L1253.5,798.1L1254.3,799.4L1255.1,800.8L1255.9,802.1L1256.6,803.5L1257.4,804.8L1258.2,806.1L1259.0,807.5L1259.8,808.8L1260.5,810.2L1261.3,811.5L1262.1,812.8L1262.9,814.2L1263.7,815.5L1264.5,816.8L1265.3,818.2L1266.1,819.5L1266.9,820.8L1267.7,822.1L1268.5,823.5L1269.4,824.8L1270.2,826.1L1271.0,827.4L1271.8,828.8L1272.6,830.1L1273.5,831.4L1274.3,832.7L1275.1,834.0L1275.9,835.3L1276.8,836.6L1277.6,838.0L1278.5,839.3L1279.3,840.6L1280.1,841.9L1281.0,843.2L1281.8,844.5L1282.7,845.8L1283.5,847.1L1284.4,848.4L1285.3,849.7L1286.1,851.0L1287.0,852.3L1287.9,853.6L1288.7,854.8L1289.6,856.1L1290.5,857.4L1291.4,858.7L1292.2,860.0L1293.1,861.3L1294.0,862.5L1294.9,863.8L1295.8,865.1L1296.7,866.4L1297.6,867.6L1298.5,868.9L1299.4,870.2L1300.3,871.4L1301.2,872.7L1302.1,873.9L1303.1,875.2L1304.0,876.4L1304.9,877.7L1305.8,878.9L1306.8,880.2L1307.7,881.4L1308.6,882.7L1309.6,883.9L1310.5,885.2L1311.5,886.4L1312.4,887.6L1313.4,888.9L1314.3,890.1L1315.3,891.3L1316.2,892.5L1317.2,893.8L1318.2,895.0L1319.2,896.2L1320.1,897.4L1321.1,898.6L1322.1,899.8L1323.1,901.0L1324.1,902.2L1325.1,903.4L1326.1,904.6L1327.1,905.8L1328.1,907.0L1329.1,908.2L1330.1,909.4L1331.1,910.6L1332.2,911.7L1333.2,912.9L1334.2,914.1L1335.2,915.2L1336.3,916.4L1337.3,917.6L1338.4,918.7L1339.4,919.9L1340.5,921.0L1341.5,922.2L1342.6,923.3L1343.7,924.5L1344.7,925.6L1345.8,926.7L1346.9,927.9L1348.0,929.0L1349.1,930.1L1350.2,931.2L1351.3,932.3L1352.4,933.5L1353.5,934.6L1354.6,935.7L1355.7,936.8L1356.8,937.9L1357.9,939.0L1359.1,940.0L1360.2,941.1L1361.3,942.2L1362.5,943.3L1363.6,944.4L1364.7,945.4L1365.9,946.5L1367.1,947.6L1368.2,948.6L1369.4,949.7L1370.5,950.7L1371.7,951.8L1372.9,952.8L1374.0,953.8L1375.2,954.9L1376.4,955.9L1377.6,956.9L1378.8,957.9L1380.0,959.0L1381.2,960.0L1382.4,961.0L1383.6,962.0L1384.8,963.0L1386.0,964.0L1387.2,965.0L1388.4,965.9L1389.7,966.9L1390.9,967.9L1392.1,968.9L1393.3,969.8L1394.6,970.8L1395.8,971.8L1397.1,972.7L1398.3,973.7L1399.6,974.6L1400.8,975.5L1402.1,976.5L1403.3,977.4L1404.6,978.3L1405.9,979.2L1407.1,980.2L1408.4,981.1L1409.7,982.0L1411.0,982.9L1412.2,983.8L1413.5,984.7L1414.8,985.6L1416.1,986.4L1417.4,987.3L1418.7,988.2L1420.0,989.0L1421.3,989.9L1422.6,990.8L1423.9,991.6L1425.3,992.5L1426.6,993.3L1427.9,994.1L1429.2,995.0L1430.5,995.8L1431.9,996.6L1433.2,997.4L1434.5,998.2L1435.9,999.0L1437.2,999.8L1438.6,1000.6L1439.9,1001.4L1441.3,1002.2L1442.6,1003.0L1444.0,1003.8L1445.3,1004.5L1446.7,1005.3L1448.1,1006.0L1449.4,1006.8L1450.8,1007.5L1452.2,1008.3L1453.5,1009.0L1454.9,1009.8L1456.3,1010.5L1457.7,1011.2L1459.0,1011.9L1460.4,1012.6L1461.8,1013.3L1463.2,1014.0L1464.6,1014.7L1466.0,1015.4L1467.4,1016.1L1468.8,1016.8L1470.2,1017.5L1471.6,1018.2L1473.0,1018.8L1474.4,1019.5L1475.8,1020.2L1477.2,1020.8L1478.6,1021.5L1480.1,1022.1L1481.5,1022.8L1482.9,1023.4L1484.3,1024.0L1485.7,1024.7L1487.2,1025.3L1488.6,1025.9L1490.0,1026.5L1491.5,1027.1L1492.9,1027.7L1494.3,1028.3L1495.8,1028.9L1497.2,1029.5L1498.7,1030.1L1500.1,1030.7L1501.5,1031.3L1503.0,1031.9L1504.4,1032.4L1505.9,1033.0L1507.3,1033.6L1508.8,1034.1L1510.2,1034.7L1511.7,1035.3L1513.2,1035.8L1514.6,1036.4L1516.1,1036.9L1517.5,1037.4L1519.0,1038.0L1520.5,1038.5L1521.9,1039.0L1523.4,1039.5L1524.9,1040.1L1526.3,1040.6L1527.8,1041.1L1529.3,1041.6L1530.8,1042.1L1532.2,1042.6L1533.7,1043.1L1535.2,1043.6L1536.7,1044.1L1538.2,1044.6L1539.6,1045.0L1541.1,1045.5L1542.6,1046.0L1544.1,1046.5L1545.6,1046.9L1547.1,1047.4L1548.6,1047.8L1550.1,1048.3L1551.5,1048.8L1553.0,1049.2L1554.5,1049.6L1556.0,1050.1L1557.5,1050.5L1559.0,1051.0L1560.5,1051.4L1562.0,1051.8L1563.5,1052.3L1565.0,1052.7L1566.5,1053.1L1568.0,1053.5L1569.5,1053.9L1571.0,1054.3L1572.5,1054.7L1574.0,1055.1L1575.5,1055.5L1577.0,1055.9L1578.5,1056.3L1580.1,1056.7L1581.6,1057.1L1583.1,1057.5L1584.6,1057.9L1586.1,1058.3L1587.6,1058.6L1589.1,1059.0L1590.6,1059.4L1592.1,1059.8L1593.6,1060.1L1595.2,1060.5L1596.7,1060.8L1598.2,1061.2L1599.7,1061.5L1601.2,1061.9L1602.7,1062.2L1604.2,1062.6L1605.7,1062.9L1607.3,1063.3L1608.8,1063.6L1610.3,1064.0L1611.8,1064.3L1613.3,1064.6L1614.8,1064.9L1616.4,1065.3L1617.9,1065.6L1619.4,1065.9L1620.9,1066.2L1622.4,1066.5L1624.0,1066.8L1625.5,1067.2L1627.0,1067.5L1628.5,1067.8L1630.0,1068.1L1631.6,1068.4L1633.1,1068.7L1634.6,1069.0L1636.1,1069.3L1637.6,1069.5L1639.2,1069.8L1640.7,1070.1L1642.2,1070.4L1643.7,1070.7L1645.3,1071.0L1646.8,1071.2L1648.3,1071.5L1649.8,1071.8L1651.4,1072.0L1652.9,1072.3L1654.4,1072.6L1655.9,1072.8L1657.5,1073.1L1659.0,1073.3L1660.5,1073.6L1662.0,1073.8L1663.6,1074.1L1665.1,1074.3L1666.6,1074.6L1668.2,1074.8L1669.7,1075.1L1671.2,1075.3L1672.7,1075.5L1674.3,1075.8L1675.8,1076.0L1677.3,1076.2L1678.9,1076.5L1680.4,1076.7L1681.9,1076.9L1683.5,1077.1L1685.0,1077.3L1686.5,1077.6L1688.1,1077.8L1689.6,1078.0L1691.1,1078.2L1692.7,1078.4L1694.2,1078.6L1695.7,1078.8L1697.3,1079.0L1698.8,1079.2L1700.3,1079.4L1701.9,1079.6L1703.4,1079.8L1704.9,1080.0L1706.5,1080.2L1708.0,1080.4L1709.5,1080.6L1711.1,1080.8L1712.6,1080.9L1714.1,1081.1L1715.7,1081.3L1717.2,1081.5L1718.7,1081.7L1720.3,1081.8L1721.8,1082.0L1723.4,1082.2L1724.9,1082.3L1726.4,1082.5L1728.0,1082.7L1729.5,1082.8L1731.1,1083.0L1732.6,1083.2L1734.1,1083.3L1735.7,1083.5L1737.2,1083.6L1738.7,1083.8L1740.3,1083.9L1741.8,1084.1L1743.4,1084.2L1744.9,1084.4L1746.4,1084.5L1748.0,1084.7L1749.5,1084.8L1751.1,1084.9L1752.6,1085.1L1754.2,1085.2L1755.7,1085.3L1757.2,1085.5L1758.8,1085.6L1760.3,1085.7L1761.9,1085.9L1763.4,1086.0L1764.9,1086.1L1766.5,1086.2L1768.0,1086.4L1769.6,1086.5L1771.1,1086.6L1772.7,1086.7L1774.2,1086.8L1775.7,1087.0L1777.3,1087.1L1778.8,1087.2L1780.4,1087.3L1781.9,1087.4L1783.5,1087.5L1785.0,1087.6L1786.6,1087.7L1788.1,1087.8L1789.6,1087.9L1791.2,1088.0L1792.7,1088.1L1794.3,1088.2L1795.8,1088.3L1797.4,1088.4L1798.9,1088.5L1800.5,1088.6L1802.0,1088.7L1803.6,1088.8L1805.1,1088.9L1806.6,1089.0L1808.2,1089.1L1809.7,1089.2L1811.3,1089.2L1812.8,1089.3L1814.4,1089.4L1815.9,1089.5L1817.5,1089.6L1819.0,1089.7L1820.6,1089.7L1822.1,1089.8L1823.7,1089.9L1825.2,1090.0L1826.7,1090.1L1828.3,1090.1L1829.8,1090.2L1831.4,1090.3L1832.9,1090.3L1834.5,1090.4L1836.0,1090.5L1837.6,1090.6L1839.1,1090.6L1840.7,1090.7L1842.2,1090.8L1843.8,1090.8L1845.3,1090.9L1846.9,1090.9L1848.4,1091.0L1850.0,1091.1L1851.5,1091.1L1853.1,1091.2L1854.6,1091.2L1856.2,1091.3L1857.7,1091.4L1859.2,1091.4L1860.8,1091.5L1862.3,1091.5L1863.9,1091.6L1865.4,1091.6L1867.0,1091.7L1868.5,1091.7L1870.1,1091.8L1871.6,1091.8L1873.2,1091.9L1874.7,1091.9L1876.3,1092.0L1877.8,1092.0L1879.4,1092.1L1880.9,1092.1L1882.5,1092.2L1884.0,1092.2L1885.6,1092.3L1887.1,1092.3L1888.7,1092.4L1890.2,1092.4L1891.8,1092.4L1893.3,1092.5L1894.9,1092.5L1896.4,1092.6L1897.9,1092.6L1899.5,1092.6L1901.0,1092.7L1902.6,1092.7L1904.1,1092.8L1905.7,1092.8L1907.2,1092.8L1908.8,1092.9L1910.3,1092.9L1911.9,1093.0L1913.4,1093.0L1915.0,1093.0L1916.5,1093.1L1918.1,1093.1L1919.6,1093.1L1921.2,1093.2L1922.7,1093.2L1924.3,1093.2L1925.8,1093.3L1927.3,1093.3L1928.9,1093.3L1930.4,1093.4L1932.0,1093.4L1933.5,1093.4L1935.1,1093.5L1936.6,1093.5L1938.2,1093.5L1939.7,1093.6L1941.3,1093.6L1942.8,1093.6L1944.4,1093.7L1945.9,1093.7L1947.5,1093.7L1949.0,1093.8L1950.5,1093.8L1952.1,1093.8L1953.6,1093.8L1955.2,1093.9L1956.7,1093.9L1958.3,1093.9L1959.8,1094.0L1961.4,1094.0L1962.9,1094.0L1964.5,1094.1L1966.0,1094.1L1967.5,1094.1L1969.1,1094.1L1970.6,1094.2L1972.2,1094.2L1973.7,1094.2L1975.3,1094.3L1976.8,1094.3L1978.3,1094.3L1979.9,1094.4L1981.4,1094.4L1983.0,1094.4L1984.5,1094.5L1986.1,1094.5L1987.6,1094.5L1989.1,1094.6L1990.7,1094.6L1992.2,1094.6L1993.8,1094.7L1995.3,1094.7L1996.9,1094.7L1998.4,1094.8L1999.9,1094.8L2001.5,1094.8L2003.0,1094.9L2004.6,1094.9L2006.1,1094.9L2007.6,1095.0L2009.2,1095.0L2010.7,1095.0L2012.3,1095.1L2013.8,1095.1L2015.3,1095.1L2016.9,1095.2L2018.4,1095.2L2020.0,1095.3L2021.5,1095.3L2023.0,1095.3L2024.6,1095.4L2026.1,1095.4L2027.6,1095.5L2029.2,1095.5L2030.7,1095.5L2032.3,1095.6L2033.8,1095.6L2035.3,1095.7L2036.9,1095.7L2038.4,1095.8L2039.9,1095.8L2041.5,1095.8L2043.0,1095.9L2044.6,1095.9L2046.1,1096.0L2047.6,1096.0L2049.2,1096.1L2050.7,1096.1L2052.2,1096.2L2053.8,1096.2L2055.3,1096.3L2056.8,1096.3L2058.4,1096.4L2059.9,1096.4L2061.4,1096.5L2063.0,1096.6L2064.5,1096.6L2066.0,1096.7L2067.6,1096.7L2069.1,1096.8L2070.6,1096.8L2072.1,1096.9L2073.7,1097.0L2075.2,1097.0L2076.7,1097.1L2077.1,1088.3L2075.6,1088.2L2074.0,1088.1L2072.5,1088.1L2071.0,1088.0L2069.4,1088.0L2067.9,1087.9L2066.3,1087.9L2064.8,1087.8L2063.3,1087.7L2061.7,1087.7L2060.2,1087.6L2058.7,1087.6L2057.1,1087.5L2055.6,1087.5L2054.1,1087.4L2052.5,1087.4L2051.0,1087.3L2049.4,1087.3L2047.9,1087.2L2046.4,1087.2L2044.8,1087.1L2043.3,1087.1L2041.7,1087.0L2040.2,1087.0L2038.7,1086.9L2037.1,1086.9L2035.6,1086.9L2034.0,1086.8L2032.5,1086.8L2031.0,1086.7L2029.4,1086.7L2027.9,1086.6L2026.3,1086.6L2024.8,1086.6L2023.3,1086.5L2021.7,1086.5L2020.2,1086.4L2018.6,1086.4L2017.1,1086.4L2015.6,1086.3L2014.0,1086.3L2012.5,1086.3L2010.9,1086.2L2009.4,1086.2L2007.8,1086.1L2006.3,1086.1L2004.8,1086.1L2003.2,1086.0L2001.7,1086.0L2000.1,1086.0L1998.6,1085.9L1997.0,1085.9L1995.5,1085.9L1994.0,1085.8L1992.4,1085.8L1990.9,1085.8L1989.3,1085.7L1987.8,1085.7L1986.2,1085.7L1984.7,1085.6L1983.2,1085.6L1981.6,1085.6L1980.1,1085.5L1978.5,1085.5L1977.0,1085.5L1975.4,1085.5L1973.9,1085.4L1972.3,1085.4L1970.8,1085.4L1969.3,1085.3L1967.7,1085.3L1966.2,1085.3L1964.6,1085.2L1963.1,1085.2L1961.5,1085.2L1960.0,1085.1L1958.4,1085.1L1956.9,1085.1L1955.4,1085.1L1953.8,1085.0L1952.3,1085.0L1950.7,1085.0L1949.2,1084.9L1947.6,1084.9L1946.1,1084.9L1944.5,1084.8L1943.0,1084.8L1941.4,1084.8L1939.9,1084.7L1938.4,1084.7L1936.8,1084.7L1935.3,1084.6L1933.7,1084.6L1932.2,1084.6L1930.6,1084.6L1929.1,1084.5L1927.5,1084.5L1926.0,1084.5L1924.4,1084.4L1922.9,1084.4L1921.4,1084.3L1919.8,1084.3L1918.3,1084.3L1916.7,1084.2L1915.2,1084.2L1913.6,1084.2L1912.1,1084.1L1910.5,1084.1L1909.0,1084.1L1907.5,1084.0L1905.9,1084.0L1904.4,1083.9L1902.8,1083.9L1901.3,1083.9L1899.7,1083.8L1898.2,1083.8L1896.6,1083.7L1895.1,1083.7L1893.5,1083.7L1892.0,1083.6L1890.5,1083.6L1888.9,1083.5L1887.4,1083.5L1885.8,1083.4L1884.3,1083.4L1882.7,1083.4L1881.2,1083.3L1879.6,1083.3L1878.1,1083.2L1876.6,1083.2L1875.0,1083.1L1873.5,1083.1L1871.9,1083.0L1870.4,1083.0L1868.8,1082.9L1867.3,1082.9L1865.7,1082.8L1864.2,1082.8L1862.7,1082.7L1861.1,1082.7L1859.6,1082.6L1858.0,1082.5L1856.5,1082.5L1854.9,1082.4L1853.4,1082.4L1851.9,1082.3L1850.3,1082.2L1848.8,1082.2L1847.2,1082.1L1845.7,1082.1L1844.1,1082.0L1842.6,1081.9L1841.1,1081.9L1839.5,1081.8L1838.0,1081.7L1836.4,1081.7L1834.9,1081.6L1833.3,1081.5L1831.8,1081.5L1830.3,1081.4L1828.7,1081.3L1827.2,1081.2L1825.6,1081.2L1824.1,1081.1L1822.6,1081.0L1821.0,1080.9L1819.5,1080.8L1817.9,1080.8L1816.4,1080.7L1814.9,1080.6L1813.3,1080.5L1811.8,1080.4L1810.2,1080.3L1808.7,1080.3L1807.2,1080.2L1805.6,1080.1L1804.1,1080.0L1802.5,1079.9L1801.0,1079.8L1799.5,1079.7L1797.9,1079.6L1796.4,1079.5L1794.8,1079.4L1793.3,1079.3L1791.8,1079.2L1790.2,1079.1L1788.7,1079.0L1787.2,1078.9L1785.6,1078.8L1784.1,1078.7L1782.5,1078.6L1781.0,1078.5L1779.5,1078.4L1777.9,1078.3L1776.4,1078.1L1774.9,1078.0L1773.3,1077.9L1771.8,1077.8L1770.3,1077.7L1768.7,1077.6L1767.2,1077.4L1765.7,1077.3L1764.1,1077.2L1762.6,1077.1L1761.1,1076.9L1759.5,1076.8L1758.0,1076.7L1756.5,1076.5L1754.9,1076.4L1753.4,1076.3L1751.9,1076.1L1750.3,1076.0L1748.8,1075.8L1747.3,1075.7L1745.7,1075.6L1744.2,1075.4L1742.7,1075.3L1741.1,1075.1L1739.6,1075.0L1738.1,1074.8L1736.6,1074.7L1735.0,1074.5L1733.5,1074.3L1732.0,1074.2L1730.4,1074.0L1728.9,1073.9L1727.4,1073.7L1725.9,1073.5L1724.3,1073.4L1722.8,1073.2L1721.3,1073.0L1719.7,1072.9L1718.2,1072.7L1716.7,1072.5L1715.2,1072.3L1713.6,1072.1L1712.1,1072.0L1710.6,1071.8L1709.1,1071.6L1707.5,1071.4L1706.0,1071.2L1704.5,1071.0L1703.0,1070.8L1701.5,1070.6L1699.9,1070.4L1698.4,1070.2L1696.9,1070.0L1695.4,1069.8L1693.8,1069.6L1692.3,1069.4L1690.8,1069.2L1689.3,1069.0L1687.8,1068.8L1686.2,1068.6L1684.7,1068.3L1683.2,1068.1L1681.7,1067.9L1680.2,1067.7L1678.6,1067.4L1677.1,1067.2L1675.6,1067.0L1674.1,1066.8L1672.6,1066.5L1671.1,1066.3L1669.5,1066.0L1668.0,1065.8L1666.5,1065.6L1665.0,1065.3L1663.5,1065.1L1662.0,1064.8L1660.5,1064.6L1658.9,1064.3L1657.4,1064.0L1655.9,1063.8L1654.4,1063.5L1652.9,1063.3L1651.4,1063.0L1649.9,1062.7L1648.4,1062.4L1646.9,1062.2L1645.3,1061.9L1643.8,1061.6L1642.3,1061.3L1640.8,1061.1L1639.3,1060.8L1637.8,1060.5L1636.3,1060.2L1634.8,1059.9L1633.3,1059.6L1631.8,1059.3L1630.3,1059.0L1628.8,1058.7L1627.3,1058.4L1625.8,1058.1L1624.2,1057.8L1622.7,1057.5L1621.2,1057.1L1619.7,1056.8L1618.2,1056.5L1616.7,1056.2L1615.2,1055.9L1613.7,1055.5L1612.2,1055.2L1610.7,1054.9L1609.2,1054.5L1607.7,1054.2L1606.2,1053.8L1604.7,1053.5L1603.2,1053.1L1601.7,1052.8L1600.2,1052.4L1598.7,1052.1L1597.3,1051.7L1595.8,1051.4L1594.3,1051.0L1592.8,1050.6L1591.3,1050.3L1589.8,1049.9L1588.3,1049.5L1586.8,1049.1L1585.3,1048.8L1583.8,1048.4L1582.3,1048.0L1580.8,1047.6L1579.3,1047.2L1577.9,1046.8L1576.4,1046.4L1574.9,1046.0L1573.4,1045.6L1571.9,1045.2L1570.4,1044.8L1569.0,1044.4L1567.5,1043.9L1566.0,1043.5L1564.5,1043.1L1563.0,1042.7L1561.6,1042.2L1560.1,1041.8L1558.6,1041.3L1557.1,1040.9L1555.7,1040.5L1554.2,1040.0L1552.7,1039.6L1551.3,1039.1L1549.8,1038.6L1548.3,1038.2L1546.9,1037.7L1545.4,1037.2L1543.9,1036.8L1542.5,1036.3L1541.0,1035.8L1539.6,1035.3L1538.1,1034.8L1536.7,1034.3L1535.2,1033.9L1533.8,1033.4L1532.3,1032.8L1530.9,1032.3L1529.4,1031.8L1528.0,1031.3L1526.5,1030.8L1525.1,1030.3L1523.6,1029.8L1522.2,1029.2L1520.8,1028.7L1519.3,1028.1L1517.9,1027.6L1516.5,1027.1L1515.0,1026.5L1513.6,1026.0L1512.2,1025.4L1510.8,1024.8L1509.3,1024.3L1507.9,1023.7L1506.5,1023.1L1505.1,1022.5L1503.7,1022.0L1502.3,1021.4L1500.9,1020.8L1499.4,1020.2L1498.0,1019.6L1496.6,1019.0L1495.2,1018.4L1493.8,1017.8L1492.4,1017.1L1491.0,1016.5L1489.7,1015.9L1488.3,1015.3L1486.9,1014.6L1485.5,1014.0L1484.1,1013.3L1482.7,1012.7L1481.4,1012.0L1480.0,1011.4L1478.6,1010.7L1477.2,1010.1L1475.9,1009.4L1474.5,1008.7L1473.1,1008.0L1471.8,1007.3L1470.4,1006.7L1469.1,1006.0L1467.7,1005.3L1466.4,1004.6L1465.0,1003.8L1463.7,1003.1L1462.3,1002.4L1461.0,1001.7L1459.6,1001.0L1458.3,1000.2L1457.0,999.5L1455.7,998.7L1454.3,998.0L1453.0,997.2L1451.7,996.5L1450.4,995.7L1449.1,995.0L1447.7,994.2L1446.4,993.4L1445.1,992.6L1443.8,991.8L1442.5,991.0L1441.2,990.2L1439.9,989.4L1438.6,988.6L1437.4,987.8L1436.1,987.0L1434.8,986.2L1433.5,985.3L1432.2,984.5L1431.0,983.7L1429.7,982.8L1428.4,982.0L1427.2,981.1L1425.9,980.3L1424.6,979.4L1423.4,978.5L1422.1,977.7L1420.9,976.8L1419.6,975.9L1418.4,975.0L1417.2,974.1L1415.9,973.3L1414.7,972.4L1413.5,971.5L1412.2,970.5L1411.0,969.6L1409.8,968.7L1408.6,967.8L1407.3,966.9L1406.1,965.9L1404.9,965.0L1403.7,964.1L1402.5,963.1L1401.3,962.2L1400.1,961.2L1398.9,960.3L1397.7,959.3L1396.6,958.4L1395.4,957.4L1394.2,956.4L1393.0,955.5L1391.8,954.5L1390.7,953.5L1389.5,952.5L1388.3,951.5L1387.2,950.5L1386.0,949.5L1384.9,948.5L1383.7,947.5L1382.6,946.5L1381.4,945.5L1380.3,944.5L1379.1,943.5L1378.0,942.4L1376.9,941.4L1375.7,940.4L1374.6,939.3L1373.5,938.3L1372.4,937.3L1371.3,936.2L1370.1,935.2L1369.0,934.1L1367.9,933.0L1366.8,932.0L1365.7,930.9L1364.6,929.9L1363.6,928.8L1362.5,927.7L1361.4,926.6L1360.3,925.6L1359.2,924.5L1358.1,923.4L1357.1,922.3L1356.0,921.2L1354.9,920.1L1353.9,919.0L1352.8,917.9L1351.8,916.8L1350.7,915.7L1349.7,914.6L1348.6,913.5L1347.6,912.4L1346.6,911.2L1345.5,910.1L1344.5,909.0L1343.5,907.9L1342.4,906.7L1341.4,905.6L1340.4,904.5L1339.4,903.3L1338.4,902.2L1337.4,901.0L1336.4,899.9L1335.4,898.7L1334.4,897.6L1333.4,896.4L1332.4,895.3L1331.4,894.1L1330.4,892.9L1329.4,891.8L1328.4,890.6L1327.4,889.4L1326.5,888.2L1325.5,887.1L1324.5,885.9L1323.6,884.7L1322.6,883.5L1321.6,882.3L1320.7,881.1L1319.7,879.9L1318.8,878.7L1317.8,877.5L1316.9,876.3L1316.0,875.1L1315.0,873.9L1314.1,872.7L1313.2,871.5L1312.2,870.3L1311.3,869.1L1310.4,867.8L1309.5,866.6L1308.5,865.4L1307.6,864.2L1306.7,862.9L1305.8,861.7L1304.9,860.5L1304.0,859.2L1303.1,858.0L1302.2,856.7L1301.3,855.5L1300.4,854.2L1299.5,853.0L1298.7,851.7L1297.8,850.5L1296.9,849.2L1296.0,848.0L1295.2,846.7L1294.3,845.4L1293.4,844.2L1292.6,842.9L1291.7,841.6L1290.8,840.4L1290.0,839.1L1289.1,837.8L1288.3,836.5L1287.4,835.3L1286.6,834.0L1285.7,832.7L1284.9,831.4L1284.1,830.1L1283.2,828.8L1282.4,827.5L1281.6,826.3L1280.7,825.0L1279.9,823.7L1279.1,822.4L1278.3,821.1L1277.4,819.8L1276.6,818.5L1275.8,817.2L1275.0,815.9L1274.2,814.6L1273.4,813.2L1272.6,811.9L1271.8,810.6L1271.0,809.3L1270.2,808.0L1269.4,806.7L1268.6,805.4L1267.8,804.0L1267.0,802.7L1266.3,801.4L1265.5,800.1L1264.7,798.8L1263.9,797.4L1263.1,796.1L1262.4,794.8L1261.6,793.5L1260.8,792.1L1260.1,790.8L1259.3,789.5L1258.5,788.1L1257.8,786.8L1257.0,785.5L1256.3,784.1L1255.5,782.8L1254.7,781.4L1254.0,780.1L1253.2,778.8L1252.5,777.4L1251.8,776.1L1251.0,774.7L1250.3,773.4L1249.5,772.0L1248.8,770.7L1248.1,769.4L1247.3,768.0L1246.6,766.7L1245.9,765.3L1245.1,764.0L1244.4,762.6L1243.7,761.2L1243.0,759.9L1242.3,758.5L1241.5,757.2L1240.8,755.8L1240.1,754.5L1239.4,753.1L1238.7,751.7L1238.0,750.4L1237.3,749.0L1236.6,747.7L1235.9,746.3L1235.2,744.9L1234.5,743.6L1233.8,742.2L1233.1,740.8L1232.4,739.4L1231.7,738.1L1231.0,736.7L1230.3,735.3L1229.6,734.0L1228.9,732.6L1228.3,731.2L1227.6,729.8L1226.9,728.5L1226.2,727.1L1225.5,725.7L1224.9,724.3L1224.2,722.9L1223.5,721.6L1222.8,720.2L1222.2,718.8L1221.5,717.4L1220.8,716.0L1220.2,714.7L1219.5,713.3L1218.8,711.9L1218.2,710.5L1217.5,709.1L1216.9,707.7L1216.2,706.3L1215.6,704.9L1214.9,703.5L1214.3,702.2L1213.6,700.8L1213.0,699.4L1212.3,698.0L1211.7,696.6L1211.0,695.2L1210.4,693.8L1209.7,692.4L1209.1,691.0L1208.5,689.6L1207.8,688.2L1207.2,686.8L1206.6,685.4L1205.9,684.0L1205.3,682.6L1204.7,681.2L1204.0,679.8L1203.4,678.4L1202.8,677.0L1202.1,675.6L1201.5,674.2L1200.9,672.8L1200.3,671.4L1199.7,670.0L1199.0,668.5L1198.4,667.1L1197.8,665.7L1197.2,664.3L1196.6,662.9L1196.0,661.5L1195.3,660.1L1194.7,658.7L1194.1,657.3L1193.5,655.8L1192.9,654.4L1192.3,653.0L1191.7,651.6L1191.1,650.2L1190.5,648.8L1189.9,647.3L1189.3,645.9L1188.7,644.5L1188.1,643.1L1187.5,641.7L1186.9,640.3L1186.3,638.8L1185.7,637.4L1185.1,636.0L1184.5,634.6L1183.9,633.1L1183.3,631.7L1182.7,630.3L1182.1,628.9L1181.6,627.4L1181.0,626.0L1180.4,624.6L1179.8,623.2L1179.2,621.7L1178.6,620.3L1178.0,618.9L1177.5,617.5L1176.9,616.0L1176.3,614.6L1175.7,613.2L1175.1,611.8L1174.6,610.3L1174.0,608.9L1173.4,607.5L1172.8,606.0L1172.3,604.6L1171.7,603.2L1171.1,601.7L1170.5,600.3L1170.0,598.9L1169.4,597.4L1168.8,596.0L1168.3,594.6L1167.7,593.1L1167.1,591.7L1166.5,590.3L1166.0,588.8L1165.4,587.4L1164.8,586.0L1164.3,584.5L1163.7,583.1L1163.2,581.7L1162.6,580.2L1162.0,578.8L1161.5,577.3L1160.9,575.9L1160.3,574.5L1159.8,573.0L1159.2,571.6L1158.7,570.1L1158.1,568.7L1157.5,567.3L1157.0,565.8L1156.4,564.4L1155.9,562.9L1155.3,561.5L1154.8,560.1L1154.2,558.6L1153.6,557.2L1153.1,555.7L1152.5,554.3L1152.0,552.9L1151.4,551.4L1150.9,550.0L1150.3,548.5L1149.8,547.1L1149.2,545.6L1148.7,544.2L1148.1,542.8L1147.6,541.3L1147.0,539.9L1146.5,538.4L1145.9,537.0L1145.4,535.5L1144.8,534.1L1144.3,532.7L1143.7,531.2L1143.2,529.8L1142.6,528.3L1142.1,526.9L1141.5,525.4L1141.0,524.0L1140.4,522.5L1139.9,521.1L1139.3,519.7L1138.8,518.2L1138.2,516.8L1137.7,515.3L1137.1,513.9L1136.6,512.4L1136.0,511.0L1135.5,509.5L1135.0,508.1L1134.4,506.6L1133.9,505.2L1133.3,503.8L1132.8,502.3L1132.2,500.9L1131.7,499.4L1131.1,498.0L1130.6,496.5L1130.0,495.1L1129.5,493.6L1128.9,492.2L1128.4,490.7L1127.9,489.3L1127.3,487.8L1126.8,486.4L1126.2,485.0L1125.7,483.5L1125.1,482.1L1124.6,480.6L1124.0,479.2L1123.5,477.7L1122.9,476.3L1122.4,474.8L1121.8,473.4L1121.3,471.9L1120.7,470.5L1120.2,469.1L1119.7,467.6L1119.1,466.2L1118.6,464.7L1118.0,463.3L1117.5,461.8L1116.9,460.4L1116.4,458.9L1115.8,457.5L1115.3,456.1L1114.7,454.6L1114.2,453.2L1113.6,451.7L1113.1,450.3L1112.5,448.8L1112.0,447.4L1111.4,446.0L1110.9,444.5L1110.3,443.1L1109.8,441.6L1109.2,440.2L1108.7,438.8L1108.1,437.3L1107.5,435.9L1107.0,434.4L1106.4,433.0L1105.9,431.5L1105.3,430.1L1104.8,428.7L1104.2,427.2L1103.7,425.8L1103.1,424.3L1102.5,422.9L1102.0,421.5L1101.4,420.0L1100.9,418.6L1100.3,417.2L1099.7,415.7L1099.2,414.3L1098.6,412.8L1098.1,411.4L1097.5,410.0L1096.9,408.5L1096.4,407.1L1095.8,405.7L1095.2,404.2L1094.7,402.8L1094.1,401.4L1093.5,399.9L1093.0,398.5L1092.4,397.1L1091.8,395.6L1091.3,394.2L1090.7,392.8L1090.1,391.3L1089.6,389.9L1089.0,388.5L1088.4,387.0L1087.8,385.6L1087.3,384.2L1086.7,382.7L1086.1,381.3L1085.5,379.9L1085.0,378.5L1084.4,377.0L1083.8,375.6L1083.2,374.2L1082.7,372.7L1082.1,371.3L1081.5,369.9L1080.9,368.5L1080.3,367.0L1079.8,365.6L1079.2,364.2L1078.6,362.8L1078.0,361.3L1077.4,359.9L1076.8,358.5L1076.2,357.1L1075.7,355.6L1075.1,354.2L1074.5,352.8L1073.9,351.4L1073.3,349.9L1072.7,348.5L1072.1,347.1L1071.5,345.7L1070.9,344.2L1070.3,342.8L1069.7,341.4L1069.1,340.0L1068.5,338.5L1067.9,337.1L1067.3,335.7L1066.7,334.3L1066.1,332.8L1065.5,331.4L1064.9,330.0L1064.3,328.6L1063.7,327.1L1063.1,325.7L1062.5,324.3L1061.9,322.9L1061.3,321.5L1060.7,320.0L1060.1,318.6L1059.5,317.2L1058.9,315.8L1058.3,314.3L1057.7,312.9L1057.1,311.5L1056.4,310.1L1055.8,308.6L1055.2,307.2L1054.6,305.8L1054.0,304.4L1053.4,302.9L1052.8,301.5L1052.1,300.1L1051.5,298.7L1050.9,297.2L1050.3,295.8L1049.7,294.4L1049.0,293.0L1048.4,291.5L1047.8,290.1L1047.1,288.7L1046.5,287.3L1045.9,285.8L1045.3,284.4L1044.6,283.0L1044.0,281.6L1043.3,280.2L1042.7,278.7L1042.1,277.3L1041.4,275.9L1040.8,274.5L1040.1,273.0L1039.5,271.6L1038.8,270.2L1038.1,268.8L1037.5,267.4L1036.8,266.0L1036.2,264.6L1035.5,263.1L1034.8,261.7L1034.1,260.3L1033.5,258.9L1032.8,257.5L1032.1,256.1L1031.4,254.7L1030.7,253.3L1030.0,251.9L1029.3,250.5L1028.6,249.1L1027.9,247.7L1027.2,246.3L1026.5,244.9L1025.8,243.6L1025.1,242.2L1024.4,240.8L1023.6,239.4L1022.9,238.0L1022.2,236.7L1021.4,235.3L1020.7,233.9L1019.9,232.5L1019.2,231.2L1018.4,229.8L1017.7,228.5L1016.9,227.1L1016.1,225.7L1015.4,224.4L1014.6,223.0L1013.8,221.7L1013.0,220.4L1012.2,219.0L1011.4,217.7L1010.6,216.3L1009.8,215.0L1009.0,213.7L1008.2,212.4L1007.4,211.0L1006.5,209.7L1005.7,208.4L1004.9,207.1L1004.0,205.8L1003.2,204.5L1002.3,203.2L1001.5,201.9L1000.6,200.6L999.7,199.3L998.8,198.0L997.9,196.7L997.0,195.5L996.1,194.2L995.2,192.9L994.3,191.7L993.4,190.4L992.5,189.1L991.5,187.9L990.6,186.6L989.6,185.4L988.7,184.1L987.7,182.9L986.7,181.7L985.7,180.4L984.7,179.2L983.7,178.0L982.7,176.8L981.7,175.6L980.7,174.4L979.6,173.1L978.5,171.9L977.5,170.7L976.4,169.6L975.3,168.4L974.1,167.2L973.0,166.1L971.8,164.9L970.6,163.8L969.4,162.7L968.1,161.6L966.9,160.5L965.6,159.5L964.3,158.5L963.0,157.5L961.6,156.5L960.3,155.5L958.9,154.6L957.4,153.8L956.0,152.9L954.5,152.1L953.0,151.3L951.5,150.6L950.0,149.9L948.5,149.2L946.9,148.6L945.3,148.0L943.8,147.5L942.2,147.0L940.6,146.5L939.0,146.1L937.3,145.7L935.7,145.3L934.1,145.0L932.5,144.7L930.8,144.5L929.2,144.3L927.5,144.1L925.9,144.0L924.2,144.0L922.5,144.0L920.9,144.0L919.2,144.1L917.6,144.3L915.9,144.5L914.3,144.7L912.6,145.0L911.0,145.3L909.4,145.7L907.8,146.1L906.2,146.6L904.6,147.1L903.1,147.6L901.5,148.2L899.9,148.8L898.4,149.5L896.9,150.2L895.4,150.9L893.9,151.7L892.5,152.5L891.0,153.3L889.6,154.2L888.2,155.1L886.9,156.1L885.5,157.1L884.2,158.1L882.9,159.1L881.7,160.2L880.4,161.3L879.2,162.4L878.0,163.5L876.9,164.7L875.7,165.8L874.6,167.1L873.5,168.3L872.5,169.5L871.4,170.8L870.4,172.1L869.4,173.4L868.5,174.7L867.5,176.0L866.6,177.3L865.6,178.6L864.7,180.0L863.8,181.3L862.9,182.7L862.0,184.0L861.1,185.4L860.3,186.7L859.4,188.1L858.6,189.5L857.7,190.8L856.9,192.2L856.1,193.6L855.3,194.9L854.5,196.3L853.7,197.7L852.9,199.1L852.1,200.4L851.4,201.8L850.6,203.2L849.8,204.6L849.1,205.9L848.3,207.3L847.6,208.7L846.8,210.1L846.1,211.4L845.4,212.8L844.7,214.2L843.9,215.6L843.2,216.9L842.5,218.3L841.8,219.7L841.1,221.1L840.4,222.5L839.7,223.8L839.0,225.2L838.3,226.6L837.6,228.0L837.0,229.3L836.3,230.7L835.6,232.1L834.9,233.5L834.2,234.9L833.6,236.2L832.9,237.6L832.2,239.0L831.5,240.4L830.8,241.7L830.2,243.1L829.5,244.5L828.8,245.8L828.1,247.2L827.4,248.6L826.7,250.0L826.1,251.3L825.4,252.7L824.7,254.1L824.0,255.4L823.3,256.8L822.6,258.2L821.9,259.6L821.2,260.9L820.5,262.3L819.8,263.7L819.1,265.0L818.4,266.4L817.7,267.8L817.0,269.2L816.3,270.5L815.6,271.9L814.9,273.3L814.2,274.7L813.5,276.0L812.8,277.4L812.1,278.8L811.4,280.2L810.7,281.5L810.0,282.9Z" fill="#ff0000" stroke="none"/>
<path d="M818.4,286.4L819.0,285.0L819.6,283.6L820.3,282.2L820.9,280.8L821.6,279.4L822.2,278.0L822.9,276.6L823.5,275.3L824.2,273.9L824.8,272.5L825.5,271.1L826.1,269.7L826.8,268.3L827.4,266.9L828.1,265.5L828.8,264.1L829.4,262.7L830.1,261.3L830.7,260.0L831.4,258.6L832.0,257.2L832.7,255.8L833.4,254.4L834.0,253.1L834.7,251.7L835.4,250.3L836.0,248.9L836.7,247.5L837.4,246.2L838.0,244.8L838.7,243.4L839.4,242.1L840.1,240.7L840.7,239.3L841.4,238.0L842.1,236.6L842.8,235.3L843.5,233.9L844.2,232.6L844.9,231.2L845.6,229.8L846.3,228.5L847.0,227.1L847.7,225.8L848.4,224.5L849.1,223.1L849.9,221.8L850.6,220.4L851.3,219.1L852.0,217.7L852.8,216.4L853.5,215.1L854.3,213.7L855.0,212.4L855.8,211.1L856.6,209.7L857.3,208.4L858.1,207.1L858.9,205.8L859.7,204.4L860.5,203.1L861.3,201.8L862.1,200.5L862.9,199.2L863.7,197.9L864.6,196.6L865.4,195.3L866.2,194.0L867.1,192.7L867.9,191.4L868.8,190.1L869.7,188.9L870.6,187.6L871.5,186.4L872.4,185.1L873.3,183.9L874.2,182.7L875.2,181.5L876.1,180.3L877.1,179.1L878.0,177.9L879.0,176.8L880.0,175.6L881.0,174.5L882.0,173.4L883.0,172.3L884.0,171.2L885.0,170.1L886.1,169.1L887.1,168.0L888.1,167.0L889.2,165.9L890.2,164.9L891.3,163.9L892.4,162.9L893.5,161.9L894.5,161.0L895.6,160.0L896.8,159.1L897.9,158.2L899.0,157.3L900.2,156.4L901.3,155.6L902.5,154.7L903.7,153.9L904.9,153.1L906.1,152.3L907.4,151.5L908.6,150.8L909.9,150.1L911.1,149.5L912.4,148.8L913.7,148.2L915.0,147.7L916.3,147.2L917.6,146.8L918.9,146.4L920.2,146.0L921.6,145.7L922.9,145.5L924.3,145.3L925.6,145.1L927.0,145.0L928.4,144.9L929.8,144.9L931.1,144.9L932.5,145.0L933.9,145.1L935.3,145.2L936.7,145.4L938.1,145.7L939.5,145.9L940.9,146.3L942.3,146.6L943.6,147.0L945.0,147.4L946.4,147.9L947.7,148.4L949.0,148.9L950.4,149.5L951.7,150.1L953.0,150.8L954.3,151.5L955.5,152.2L956.8,152.9L958.0,153.7L959.2,154.5L960.4,155.3L961.6,156.2L962.8,157.1L963.9,158.0L965.0,158.9L966.2,159.8L967.3,160.8L968.4,161.7L969.5,162.7L970.6,163.7L971.7,164.7L972.7,165.8L973.8,166.8L974.9,167.9L975.9,169.0L977.0,170.1L978.0,171.2L979.1,172.3L980.1,173.4L981.1,174.5L982.1,175.7L983.1,176.8L984.1,178.0L985.1,179.1L986.1,180.3L987.1,181.5L988.1,182.6L989.1,183.8L990.0,185.0L991.0,186.2L991.9,187.3L992.9,188.5L993.8,189.7L994.8,190.9L995.7,192.1L996.6,193.3L997.5,194.5L998.5,195.7L999.4,196.9L1000.3,198.1L1001.2,199.3L1002.1,200.6L1003.0,201.8L1003.9,203.0L1004.8,204.2L1005.7,205.4L1006.6,206.6L1007.4,207.8L1008.3,209.1L1009.1,210.3L1010.0,211.5L1010.8,212.8L1011.7,214.0L1012.5,215.3L1013.3,216.5L1014.1,217.8L1015.0,219.1L1015.8,220.3L1016.6,221.6L1017.4,222.9L1018.1,224.2L1018.9,225.5L1019.7,226.8L1020.5,228.1L1021.2,229.4L1022.0,230.7L1022.7,232.1L1023.5,233.4L1024.2,234.7L1025.0,236.0L1025.7,237.4L1026.4,238.7L1027.2,240.1L1027.9,241.4L1028.6,242.8L1029.3,244.1L1030.0,245.5L1030.7,246.8L1031.4,248.2L1032.1,249.6L1032.8,250.9L1033.5,252.3L1034.2,253.7L1034.9,255.1L1035.5,256.5L1036.2,257.8L1036.9,259.2L1037.5,260.6L1038.2,262.0L1038.9,263.4L1039.5,264.8L1040.2,266.2L1040.8,267.6L1041.5,269.0L1042.1,270.4L1042.8,271.8L1043.4,273.2L1044.0,274.6L1044.7,276.0L1045.3,277.5L1045.9,278.9L1046.6,280.3L1047.2,281.7L1047.8,283.1L1048.5,284.6L1049.1,286.0L1049.7,287.4L1050.3,288.8L1051.0,290.2L1051.6,291.7L1052.2,293.1L1052.8,294.5L1053.4,295.9L1054.0,297.4L1054.7,298.8L1055.3,300.2L1055.9,301.7L1056.5,303.1L1057.1,304.5L1057.7,305.9L1058.3,307.4L1058.9,308.8L1059.6,310.2L1060.2,311.6L1060.8,313.1L1061.4,314.5L1062.0,315.9L1062.6,317.4L1063.2,318.8L1063.8,320.2L1064.5,321.6L1065.1,323.0L1065.7,324.5L1066.3,325.9L1066.9,327.3L1067.5,328.7L1068.1,330.2L1068.7,331.6L1069.3,333.0L1069.9,334.4L1070.5,335.8L1071.1,337.3L1071.8,338.7L1072.4,340.1L1073.0,341.5L1073.6,342.9L1074.2,344.4L1074.8,345.8L1075.4,347.2L1076.0,348.6L1076.6,350.0L1077.2,351.5L1077.8,352.9L1078.4,354.3L1079.0,355.7L1079.6,357.1L1080.2,358.5L1080.8,360.0L1081.4,361.4L1082.0,362.8L1082.6,364.2L1083.2,365.6L1083.8,367.1L1084.4,368.5L1085.0,369.9L1085.6,371.3L1086.2,372.7L1086.8,374.1L1087.4,375.6L1088.0,377.0L1088.6,378.4L1089.2,379.8L1089.7,381.2L1090.3,382.7L1090.9,384.1L1091.5,385.5L1092.1,386.9L1092.7,388.3L1093.3,389.8L1093.9,391.2L1094.5,392.6L1095.0,394.0L1095.6,395.5L1096.2,396.9L1096.8,398.3L1097.4,399.7L1098.0,401.1L1098.5,402.6L1099.1,404.0L1099.7,405.4L1100.3,406.8L1100.9,408.3L1101.4,409.7L1102.0,411.1L1102.6,412.5L1103.2,414.0L1103.8,415.4L1104.3,416.8L1104.9,418.3L1105.5,419.7L1106.0,421.1L1106.6,422.5L1107.2,424.0L1107.8,425.4L1108.3,426.8L1108.9,428.3L1109.5,429.7L1110.0,431.1L1110.6,432.6L1111.2,434.0L1111.8,435.4L1112.3,436.8L1112.9,438.3L1113.5,439.7L1114.0,441.1L1114.6,442.6L1115.2,444.0L1115.7,445.4L1116.3,446.9L1116.9,448.3L1117.4,449.8L1118.0,451.2L1118.5,452.6L1119.1,454.1L1119.7,455.5L1120.2,456.9L1120.8,458.4L1121.4,459.8L1121.9,461.2L1122.5,462.7L1123.0,464.1L1123.6,465.6L1124.2,467.0L1124.7,468.4L1125.3,469.9L1125.8,471.3L1126.4,472.7L1127.0,474.2L1127.5,475.6L1128.1,477.1L1128.6,478.5L1129.2,479.9L1129.8,481.4L1130.3,482.8L1130.9,484.3L1131.4,485.7L1132.0,487.1L1132.6,488.6L1133.1,490.0L1133.7,491.5L1134.2,492.9L1134.8,494.3L1135.3,495.8L1135.9,497.2L1136.5,498.7L1137.0,500.1L1137.6,501.5L1138.1,503.0L1138.7,504.4L1139.2,505.9L1139.8,507.3L1140.4,508.7L1140.9,510.2L1141.5,511.6L1142.0,513.1L1142.6,514.5L1143.2,516.0L1143.7,517.4L1144.3,518.8L1144.8,520.3L1145.4,521.7L1146.0,523.2L1146.5,524.6L1147.1,526.0L1147.6,527.5L1148.2,528.9L1148.8,530.4L1149.3,531.8L1149.9,533.2L1150.4,534.7L1151.0,536.1L1151.6,537.6L1152.1,539.0L1152.7,540.4L1153.2,541.9L1153.8,543.3L1154.4,544.8L1154.9,546.2L1155.5,547.6L1156.1,549.1L1156.6,550.5L1157.2,552.0L1157.8,553.4L1158.3,554.8L1158.9,556.3L1159.5,557.7L1160.0,559.2L1160.6,560.6L1161.2,562.0L1161.7,563.5L1162.3,564.9L1162.9,566.4L1163.4,567.8L1164.0,569.2L1164.6,570.7L1165.2,572.1L1165.7,573.5L1166.3,575.0L1166.9,576.4L1167.4,577.9L1168.0,579.3L1168.6,580.7L1169.2,582.2L1169.7,583.6L1170.3,585.0L1170.9,586.5L1171.5,587.9L1172.1,589.3L1172.6,590.8L1173.2,592.2L1173.8,593.6L1174.4,595.1L1175.0,596.5L1175.5,597.9L1176.1,599.4L1176.7,600.8L1177.3,602.2L1177.9,603.7L1178.5,605.1L1179.1,606.5L1179.6,608.0L1180.2,609.4L1180.8,610.8L1181.4,612.3L1182.0,613.7L1182.6,615.1L1183.2,616.5L1183.8,618.0L1184.4,619.4L1185.0,620.8L1185.6,622.3L1186.2,623.7L1186.8,625.1L1187.4,626.5L1188.0,628.0L1188.6,629.4L1189.2,630.8L1189.8,632.2L1190.4,633.7L1191.0,635.1L1191.6,636.5L1192.2,637.9L1192.8,639.3L1193.4,640.8L1194.0,642.2L1194.6,643.6L1195.3,645.0L1195.9,646.5L1196.5,647.9L1197.1,649.3L1197.7,650.7L1198.3,652.1L1198.9,653.5L1199.6,655.0L1200.2,656.4L1200.8,657.8L1201.4,659.2L1202.1,660.6L1202.7,662.0L1203.3,663.5L1203.9,664.9L1204.6,666.3L1205.2,667.7L1205.8,669.1L1206.5,670.5L1207.1,671.9L1207.7,673.3L1208.4,674.7L1209.0,676.1L1209.7,677.6L1210.3,679.0L1210.9,680.4L1211.6,681.8L1212.2,683.2L1212.9,684.6L1213.5,686.0L1214.2,687.4L1214.8,688.8L1215.5,690.2L1216.1,691.6L1216.8,693.0L1217.4,694.4L1218.1,695.8L1218.8,697.2L1219.4,698.6L1220.1,700.0L1220.7,701.4L1221.4,702.8L1222.1,704.2L1222.7,705.6L1223.4,707.0L1224.1,708.4L1224.7,709.8L1225.4,711.2L1226.1,712.6L1226.8,713.9L1227.5,715.3L1228.1,716.7L1228.8,718.1L1229.5,719.5L1230.2,720.9L1230.9,722.3L1231.6,723.7L1232.2,725.0L1232.9,726.4L1233.6,727.8L1234.3,729.2L1235.0,730.6L1235.7,732.0L1236.4,733.3L1237.1,734.7L1237.8,736.1L1238.5,737.5L1239.2,738.9L1239.9,740.2L1240.7,741.6L1241.4,743.0L1242.1,744.4L1242.8,745.7L1243.5,747.1L1244.2,748.5L1245.0,749.8L1245.7,751.2L1246.4,752.6L1247.1,753.9L1247.9,755.3L1248.6,756.7L1249.3,758.0L1250.1,759.4L1250.8,760.8L1251.5,762.1L1252.3,763.5L1253.0,764.9L1253.8,766.2L1254.5,767.6L1255.3,768.9L1256.0,770.3L1256.8,771.6L1257.5,773.0L1258.3,774.4L1259.0,775.7L1259.8,777.1L1260.5,778.4L1261.3,779.8L1262.1,781.1L1262.8,782.5L1263.6,783.8L1264.4,785.2L1265.2,786.5L1265.9,787.8L1266.7,789.2L1267.5,790.5L1268.3,791.9L1269.1,793.2L1269.8,794.6L1270.6,795.9L1271.4,797.2L1272.2,798.6L1273.0,799.9L1273.8,801.2L1274.6,802.6L1275.4,803.9L1276.2,805.2L1277.0,806.6L1277.8,807.9L1278.6,809.2L1279.5,810.6L1280.3,811.9L1281.1,813.2L1281.9,814.5L1282.7,815.8L1283.6,817.2L1284.4,818.5L1285.2,819.8L1286.0,821.1L1286.9,822.4L1287.7,823.8L1288.5,825.1L1289.4,826.4L1290.2,827.7L1291.0,829.0L1291.9,830.3L1292.7,831.6L1293.6,832.9L1294.4,834.2L1295.3,835.5L1296.1,836.8L1297.0,838.1L1297.8,839.4L1298.7,840.7L1299.5,842.0L1300.4,843.3L1301.2,844.6L1302.1,845.9L1302.9,847.2L1303.8,848.5L1304.7,849.7L1305.5,851.0L1306.4,852.3L1307.2,853.6L1308.1,854.9L1309.0,856.2L1309.8,857.4L1310.7,858.7L1311.6,860.0L1312.5,861.3L1313.3,862.6L1314.2,863.8L1315.1,865.1L1316.0,866.4L1316.9,867.7L1317.8,868.9L1318.7,870.2L1319.6,871.5L1320.5,872.7L1321.4,874.0L1322.3,875.3L1323.2,876.5L1324.1,877.8L1325.0,879.0L1326.0,880.3L1326.9,881.5L1327.9,882.8L1328.8,884.0L1329.8,885.3L1330.8,886.5L1331.7,887.7L1332.7,888.9L1333.7,890.2L1334.7,891.4L1335.7,892.6L1336.7,893.8L1337.7,895.0L1338.7,896.2L1339.7,897.4L1340.7,898.6L1341.8,899.7L1342.8,900.9L1343.8,902.1L1344.9,903.3L1345.9,904.4L1347.0,905.6L1348.0,906.8L1349.1,907.9L1350.2,909.1L1351.2,910.2L1352.3,911.3L1353.4,912.5L1354.5,913.6L1355.6,914.7L1356.7,915.9L1357.8,917.0L1358.9,918.1L1360.0,919.2L1361.1,920.3L1362.2,921.4L1363.3,922.5L1364.4,923.6L1365.6,924.7L1366.7,925.8L1367.8,926.8L1368.9,927.9L1370.1,929.0L1371.2,930.1L1372.4,931.1L1373.5,932.2L1374.6,933.3L1375.8,934.3L1376.9,935.4L1378.1,936.4L1379.3,937.5L1380.4,938.5L1381.6,939.5L1382.7,940.6L1383.9,941.6L1385.1,942.6L1386.3,943.6L1387.4,944.7L1388.6,945.7L1389.8,946.7L1391.0,947.7L1392.2,948.7L1393.4,949.7L1394.5,950.7L1395.7,951.7L1396.9,952.7L1398.1,953.7L1399.3,954.7L1400.5,955.6L1401.8,956.6L1403.0,957.6L1404.2,958.6L1405.4,959.5L1406.6,960.5L1407.8,961.5L1409.1,962.4L1410.3,963.4L1411.5,964.3L1412.7,965.3L1414.0,966.2L1415.2,967.2L1416.5,968.1L1417.7,969.0L1418.9,970.0L1420.2,970.9L1421.4,971.8L1422.7,972.8L1423.9,973.7L1425.2,974.6L1426.5,975.5L1427.7,976.4L1429.0,977.3L1430.2,978.3L1431.5,979.2L1432.8,980.1L1434.1,981.0L1435.3,981.9L1436.6,982.7L1437.9,983.6L1439.2,984.5L1440.5,985.4L1441.8,986.3L1443.0,987.2L1444.3,988.0L1445.6,988.9L1446.9,989.8L1448.2,990.7L1449.6,991.5L1450.9,992.4L1452.2,993.2L1453.5,994.1L1454.8,994.9L1456.1,995.7L1457.5,996.6L1458.8,997.4L1460.1,998.2L1461.5,999.1L1462.8,999.9L1464.2,1000.7L1465.5,1001.5L1466.9,1002.3L1468.2,1003.1L1469.6,1003.8L1471.0,1004.6L1472.3,1005.4L1473.7,1006.1L1475.1,1006.9L1476.5,1007.7L1477.8,1008.4L1479.2,1009.1L1480.6,1009.9L1482.0,1010.6L1483.4,1011.3L1484.8,1012.0L1486.2,1012.7L1487.6,1013.4L1489.0,1014.1L1490.4,1014.8L1491.8,1015.4L1493.2,1016.1L1494.7,1016.8L1496.1,1017.4L1497.5,1018.1L1498.9,1018.7L1500.4,1019.4L1501.8,1020.0L1503.2,1020.6L1504.7,1021.2L1506.1,1021.9L1507.5,1022.5L1509.0,1023.1L1510.4,1023.7L1511.9,1024.2L1513.3,1024.8L1514.8,1025.4L1516.2,1026.0L1517.7,1026.6L1519.1,1027.1L1520.6,1027.7L1522.1,1028.2L1523.5,1028.8L1525.0,1029.3L1526.4,1029.8L1527.9,1030.4L1529.4,1030.9L1530.9,1031.4L1532.3,1031.9L1533.8,1032.5L1535.3,1033.0L1536.8,1033.5L1538.2,1034.0L1539.7,1034.5L1541.2,1035.0L1542.7,1035.4L1544.2,1035.9L1545.7,1036.4L1547.2,1036.9L1548.6,1037.3L1550.1,1037.8L1551.6,1038.3L1553.1,1038.7L1554.6,1039.2L1556.1,1039.6L1557.6,1040.0L1559.1,1040.5L1560.6,1040.9L1562.1,1041.4L1563.6,1041.8L1565.1,1042.2L1566.6,1042.6L1568.1,1043.0L1569.6,1043.5L1571.1,1043.9L1572.7,1044.3L1574.2,1044.7L1575.7,1045.1L1577.2,1045.5L1578.7,1045.9L1580.2,1046.3L1581.7,1046.7L1583.2,1047.0L1584.7,1047.4L1586.3,1047.8L1587.8,1048.2L1589.3,1048.6L1590.8,1048.9L1592.3,1049.3L1593.8,1049.7L1595.3,1050.0L1596.9,1050.4L1598.4,1050.7L1599.9,1051.1L1601.4,1051.5L1602.9,1051.8L1604.4,1052.2L1606.0,1052.5L1607.5,1052.9L1609.0,1053.2L1610.5,1053.5L1612.0,1053.9L1613.5,1054.2L1615.1,1054.5L1616.6,1054.9L1618.1,1055.2L1619.6,1055.5L1621.1,1055.9L1622.7,1056.2L1624.2,1056.5L1625.7,1056.8L1627.2,1057.1L1628.7,1057.5L1630.3,1057.8L1631.8,1058.1L1633.3,1058.4L1634.8,1058.7L1636.4,1059.0L1637.9,1059.3L1639.4,1059.6L1640.9,1059.9L1642.4,1060.2L1644.0,1060.5L1645.5,1060.8L1647.0,1061.1L1648.5,1061.4L1650.1,1061.6L1651.6,1061.9L1653.1,1062.2L1654.6,1062.5L1656.2,1062.8L1657.7,1063.0L1659.2,1063.3L1660.7,1063.6L1662.3,1063.9L1663.8,1064.1L1665.3,1064.4L1666.9,1064.7L1668.4,1064.9L1669.9,1065.2L1671.4,1065.4L1673.0,1065.7L1674.5,1065.9L1676.0,1066.2L1677.6,1066.5L1679.1,1066.7L1680.6,1066.9L1682.1,1067.2L1683.7,1067.4L1685.2,1067.7L1686.7,1067.9L1688.3,1068.2L1689.8,1068.4L1691.3,1068.6L1692.9,1068.9L1694.4,1069.1L1695.9,1069.3L1697.4,1069.5L1699.0,1069.8L1700.5,1070.0L1702.0,1070.2L1703.6,1070.4L1705.1,1070.6L1706.6,1070.9L1708.2,1071.1L1709.7,1071.3L1711.2,1071.5L1712.8,1071.7L1714.3,1071.9L1715.8,1072.1L1717.4,1072.3L1718.9,1072.5L1720.4,1072.7L1722.0,1072.9L1723.5,1073.1L1725.0,1073.3L1726.6,1073.5L1728.1,1073.7L1729.7,1073.9L1731.2,1074.1L1732.7,1074.3L1734.3,1074.5L1735.8,1074.6L1737.3,1074.8L1738.9,1075.0L1740.4,1075.2L1741.9,1075.4L1743.5,1075.5L1745.0,1075.7L1746.6,1075.9L1748.1,1076.1L1749.6,1076.2L1751.2,1076.4L1752.7,1076.6L1754.2,1076.7L1755.8,1076.9L1757.3,1077.1L1758.9,1077.2L1760.4,1077.4L1761.9,1077.5L1763.5,1077.7L1765.0,1077.8L1766.6,1078.0L1768.1,1078.2L1769.6,1078.3L1771.2,1078.5L1772.7,1078.6L1774.3,1078.7L1775.8,1078.9L1777.3,1079.0L1778.9,1079.2L1780.4,1079.3L1782.0,1079.5L1783.5,1079.6L1785.0,1079.7L1786.6,1079.9L1788.1,1080.0L1789.7,1080.1L1791.2,1080.3L1792.7,1080.4L1794.3,1080.5L1795.8,1080.7L1797.4,1080.8L1798.9,1080.9L1800.5,1081.0L1802.0,1081.2L1803.5,1081.3L1805.1,1081.4L1806.6,1081.5L1808.2,1081.6L1809.7,1081.8L1811.3,1081.9L1812.8,1082.0L1814.3,1082.1L1815.9,1082.2L1817.4,1082.3L1819.0,1082.4L1820.5,1082.5L1822.1,1082.6L1823.6,1082.7L1825.1,1082.9L1826.7,1083.0L1828.2,1083.1L1829.8,1083.2L1831.3,1083.3L1832.9,1083.4L1834.4,1083.5L1836.0,1083.6L1837.5,1083.6L1839.0,1083.7L1840.6,1083.8L1842.1,1083.9L1843.7,1084.0L1845.2,1084.1L1846.8,1084.2L1848.3,1084.3L1849.9,1084.4L1851.4,1084.5L1852.9,1084.5L1854.5,1084.6L1856.0,1084.7L1857.6,1084.8L1859.1,1084.9L1860.7,1085.0L1862.2,1085.0L1863.8,1085.1L1865.3,1085.2L1866.9,1085.3L1868.4,1085.3L1869.9,1085.4L1871.5,1085.5L1873.0,1085.6L1874.6,1085.6L1876.1,1085.7L1877.7,1085.8L1879.2,1085.8L1880.8,1085.9L1882.3,1086.0L1883.9,1086.0L1885.4,1086.1L1886.9,1086.2L1888.5,1086.2L1890.0,1086.3L1891.6,1086.4L1893.1,1086.4L1894.7,1086.5L1896.2,1086.5L1897.8,1086.6L1899.3,1086.7L1900.9,1086.7L1902.4,1086.8L1904.0,1086.8L1905.5,1086.9L1907.0,1086.9L1908.6,1087.0L1910.1,1087.1L1911.7,1087.1L1913.2,1087.2L1914.8,1087.2L1916.3,1087.3L1917.9,1087.3L1919.4,1087.4L1921.0,1087.4L1922.5,1087.5L1924.1,1087.5L1925.6,1087.5L1927.2,1087.6L1928.7,1087.6L1930.2,1087.7L1931.8,1087.7L1933.3,1087.8L1934.9,1087.8L1936.4,1087.9L1938.0,1087.9L1939.5,1087.9L1941.1,1088.0L1942.6,1088.0L1944.2,1088.1L1945.7,1088.1L1947.3,1088.1L1948.8,1088.2L1950.3,1088.2L1951.9,1088.2L1953.4,1088.3L1955.0,1088.3L1956.5,1088.4L1958.1,1088.4L1959.6,1088.4L1961.2,1088.5L1962.7,1088.5L1964.3,1088.5L1965.8,1088.6L1967.4,1088.6L1968.9,1088.6L1970.4,1088.6L1972.0,1088.7L1973.5,1088.7L1975.1,1088.7L1976.6,1088.8L1978.2,1088.8L1979.7,1088.8L1981.3,1088.9L1982.8,1088.9L1984.4,1088.9L1985.9,1088.9L1987.4,1089.0L1989.0,1089.0L1990.5,1089.0L1992.1,1089.0L1993.6,1089.1L1995.2,1089.1L1996.7,1089.1L1998.3,1089.1L1999.8,1089.2L2001.3,1089.2L2002.9,1089.2L2004.4,1089.2L2006.0,1089.3L2007.5,1089.3L2009.1,1089.3L2010.6,1089.3L2012.2,1089.3L2013.7,1089.4L2015.2,1089.4L2016.8,1089.4L2018.3,1089.4L2019.9,1089.5L2021.4,1089.5L2023.0,1089.5L2024.5,1089.5L2026.1,1089.5L2027.6,1089.6L2029.1,1089.6L2030.7,1089.6L2032.2,1089.6L2033.8,1089.6L2035.3,1089.7L2036.9,1089.7L2038.4,1089.7L2039.9,1089.7L2041.5,1089.7L2043.0,1089.8L2044.6,1089.8L2046.1,1089.8L2047.6,1089.8L2049.2,1089.8L2050.7,1089.9L2052.3,1089.9L2053.8,1089.9L2055.4,1089.9L2056.9,1089.9L2058.4,1090.0L2060.0,1090.0L2061.5,1090.0L2063.1,1090.0L2064.6,1090.0L2066.1,1090.1L2067.7,1090.1L2069.2,1090.1L2070.8,1090.1L2072.3,1090.1L2073.8,1090.2L2075.4,1090.2L2076.9,1090.2L2077.0,1081.4L2075.5,1081.4L2074.0,1081.3L2072.4,1081.3L2070.9,1081.3L2069.3,1081.3L2067.8,1081.3L2066.3,1081.2L2064.7,1081.2L2063.2,1081.2L2061.6,1081.2L2060.1,1081.2L2058.5,1081.1L2057.0,1081.1L2055.5,1081.1L2053.9,1081.1L2052.4,1081.1L2050.8,1081.0L2049.3,1081.0L2047.8,1081.0L2046.2,1081.0L2044.7,1081.0L2043.1,1080.9L2041.6,1080.9L2040.1,1080.9L2038.5,1080.9L2037.0,1080.9L2035.4,1080.8L2033.9,1080.8L2032.3,1080.8L2030.8,1080.8L2029.3,1080.8L2027.7,1080.7L2026.2,1080.7L2024.6,1080.7L2023.1,1080.7L2021.5,1080.7L2020.0,1080.6L2018.5,1080.6L2016.9,1080.6L2015.4,1080.6L2013.8,1080.6L2012.3,1080.5L2010.7,1080.5L2009.2,1080.5L2007.7,1080.5L2006.1,1080.4L2004.6,1080.4L2003.0,1080.4L2001.5,1080.4L1999.9,1080.3L1998.4,1080.3L1996.9,1080.3L1995.3,1080.3L1993.8,1080.2L1992.2,1080.2L1990.7,1080.2L1989.1,1080.2L1987.6,1080.1L1986.1,1080.1L1984.5,1080.1L1983.0,1080.1L1981.4,1080.0L1979.9,1080.0L1978.3,1080.0L1976.8,1079.9L1975.3,1079.9L1973.7,1079.9L1972.2,1079.9L1970.6,1079.8L1969.1,1079.8L1967.5,1079.8L1966.0,1079.7L1964.4,1079.7L1962.9,1079.7L1961.4,1079.6L1959.8,1079.6L1958.3,1079.6L1956.7,1079.5L1955.2,1079.5L1953.6,1079.5L1952.1,1079.4L1950.6,1079.4L1949.0,1079.4L1947.5,1079.3L1945.9,1079.3L1944.4,1079.2L1942.8,1079.2L1941.3,1079.2L1939.8,1079.1L1938.2,1079.1L1936.7,1079.0L1935.1,1079.0L1933.6,1079.0L1932.0,1078.9L1930.5,1078.9L1929.0,1078.8L1927.4,1078.8L1925.9,1078.7L1924.3,1078.7L1922.8,1078.6L1921.2,1078.6L1919.7,1078.5L1918.2,1078.5L1916.6,1078.4L1915.1,1078.4L1913.5,1078.3L1912.0,1078.3L1910.4,1078.2L1908.9,1078.2L1907.4,1078.1L1905.8,1078.1L1904.3,1078.0L1902.7,1078.0L1901.2,1077.9L1899.6,1077.8L1898.1,1077.8L1896.6,1077.7L1895.0,1077.7L1893.5,1077.6L1891.9,1077.5L1890.4,1077.5L1888.9,1077.4L1887.3,1077.4L1885.8,1077.3L1884.2,1077.2L1882.7,1077.2L1881.2,1077.1L1879.6,1077.0L1878.1,1077.0L1876.5,1076.9L1875.0,1076.8L1873.4,1076.7L1871.9,1076.7L1870.4,1076.6L1868.8,1076.5L1867.3,1076.4L1865.7,1076.4L1864.2,1076.3L1862.7,1076.2L1861.1,1076.1L1859.6,1076.1L1858.0,1076.0L1856.5,1075.9L1855.0,1075.8L1853.4,1075.7L1851.9,1075.6L1850.3,1075.6L1848.8,1075.5L1847.3,1075.4L1845.7,1075.3L1844.2,1075.2L1842.7,1075.1L1841.1,1075.0L1839.6,1074.9L1838.0,1074.8L1836.5,1074.7L1835.0,1074.6L1833.4,1074.5L1831.9,1074.4L1830.4,1074.3L1828.8,1074.2L1827.3,1074.1L1825.7,1074.0L1824.2,1073.9L1822.7,1073.8L1821.1,1073.7L1819.6,1073.6L1818.1,1073.5L1816.5,1073.4L1815.0,1073.3L1813.4,1073.2L1811.9,1073.1L1810.4,1072.9L1808.8,1072.8L1807.3,1072.7L1805.8,1072.6L1804.2,1072.5L1802.7,1072.3L1801.2,1072.2L1799.6,1072.1L1798.1,1072.0L1796.6,1071.8L1795.0,1071.7L1793.5,1071.6L1792.0,1071.5L1790.4,1071.3L1788.9,1071.2L1787.4,1071.1L1785.8,1070.9L1784.3,1070.8L1782.8,1070.7L1781.2,1070.5L1779.7,1070.4L1778.2,1070.2L1776.6,1070.1L1775.1,1069.9L1773.6,1069.8L1772.0,1069.6L1770.5,1069.5L1769.0,1069.3L1767.4,1069.2L1765.9,1069.0L1764.4,1068.9L1762.8,1068.7L1761.3,1068.6L1759.8,1068.4L1758.3,1068.3L1756.7,1068.1L1755.2,1067.9L1753.7,1067.8L1752.1,1067.6L1750.6,1067.4L1749.1,1067.3L1747.5,1067.1L1746.0,1066.9L1744.5,1066.7L1743.0,1066.6L1741.4,1066.4L1739.9,1066.2L1738.4,1066.0L1736.9,1065.8L1735.3,1065.7L1733.8,1065.5L1732.3,1065.3L1730.7,1065.1L1729.2,1064.9L1727.7,1064.7L1726.2,1064.5L1724.6,1064.3L1723.1,1064.1L1721.6,1063.9L1720.1,1063.7L1718.5,1063.5L1717.0,1063.3L1715.5,1063.1L1714.0,1062.9L1712.4,1062.7L1710.9,1062.5L1709.4,1062.3L1707.9,1062.1L1706.4,1061.9L1704.8,1061.6L1703.3,1061.4L1701.8,1061.2L1700.3,1061.0L1698.7,1060.8L1697.2,1060.5L1695.7,1060.3L1694.2,1060.1L1692.7,1059.8L1691.1,1059.6L1689.6,1059.4L1688.1,1059.1L1686.6,1058.9L1685.1,1058.7L1683.5,1058.4L1682.0,1058.2L1680.5,1057.9L1679.0,1057.7L1677.5,1057.4L1676.0,1057.2L1674.4,1056.9L1672.9,1056.7L1671.4,1056.4L1669.9,1056.1L1668.4,1055.9L1666.9,1055.6L1665.3,1055.4L1663.8,1055.1L1662.3,1054.8L1660.8,1054.5L1659.3,1054.3L1657.8,1054.0L1656.2,1053.7L1654.7,1053.4L1653.2,1053.2L1651.7,1052.9L1650.2,1052.6L1648.7,1052.3L1647.2,1052.0L1645.7,1051.7L1644.1,1051.4L1642.6,1051.1L1641.1,1050.8L1639.6,1050.5L1638.1,1050.2L1636.6,1049.9L1635.1,1049.6L1633.6,1049.3L1632.1,1049.0L1630.6,1048.7L1629.0,1048.4L1627.5,1048.1L1626.0,1047.7L1624.5,1047.4L1623.0,1047.1L1621.5,1046.8L1620.0,1046.4L1618.5,1046.1L1617.0,1045.8L1615.5,1045.5L1614.0,1045.1L1612.5,1044.8L1611.0,1044.4L1609.5,1044.1L1608.0,1043.8L1606.5,1043.4L1605.0,1043.1L1603.5,1042.7L1602.0,1042.3L1600.4,1042.0L1598.9,1041.6L1597.4,1041.3L1595.9,1040.9L1594.4,1040.5L1592.9,1040.2L1591.4,1039.8L1590.0,1039.4L1588.5,1039.1L1587.0,1038.7L1585.5,1038.3L1584.0,1037.9L1582.5,1037.5L1581.0,1037.1L1579.5,1036.7L1578.0,1036.3L1576.5,1035.9L1575.0,1035.5L1573.5,1035.1L1572.1,1034.7L1570.6,1034.3L1569.1,1033.9L1567.6,1033.5L1566.1,1033.0L1564.6,1032.6L1563.2,1032.2L1561.7,1031.7L1560.2,1031.3L1558.7,1030.9L1557.3,1030.4L1555.8,1030.0L1554.3,1029.5L1552.9,1029.1L1551.4,1028.6L1549.9,1028.1L1548.5,1027.7L1547.0,1027.2L1545.6,1026.7L1544.1,1026.2L1542.7,1025.7L1541.2,1025.2L1539.8,1024.7L1538.3,1024.2L1536.9,1023.7L1535.4,1023.2L1534.0,1022.7L1532.5,1022.2L1531.1,1021.6L1529.7,1021.1L1528.2,1020.6L1526.8,1020.0L1525.4,1019.5L1524.0,1018.9L1522.5,1018.4L1521.1,1017.8L1519.7,1017.2L1518.3,1016.7L1516.9,1016.1L1515.5,1015.5L1514.1,1014.9L1512.7,1014.3L1511.3,1013.7L1509.9,1013.1L1508.5,1012.5L1507.1,1011.9L1505.7,1011.2L1504.3,1010.6L1502.9,1010.0L1501.6,1009.3L1500.2,1008.7L1498.8,1008.0L1497.5,1007.3L1496.1,1006.7L1494.7,1006.0L1493.4,1005.3L1492.0,1004.6L1490.7,1003.9L1489.3,1003.2L1488.0,1002.5L1486.6,1001.8L1485.3,1001.1L1484.0,1000.3L1482.6,999.6L1481.3,998.9L1480.0,998.1L1478.7,997.3L1477.4,996.6L1476.0,995.8L1474.7,995.0L1473.4,994.3L1472.1,993.5L1470.8,992.7L1469.5,991.9L1468.2,991.1L1466.9,990.3L1465.6,989.4L1464.3,988.6L1463.1,987.8L1461.8,987.0L1460.5,986.1L1459.2,985.3L1457.9,984.4L1456.7,983.6L1455.4,982.7L1454.1,981.9L1452.8,981.0L1451.6,980.2L1450.3,979.3L1449.0,978.4L1447.8,977.5L1446.5,976.7L1445.3,975.8L1444.0,974.9L1442.8,974.0L1441.5,973.1L1440.3,972.2L1439.0,971.3L1437.8,970.4L1436.5,969.5L1435.3,968.6L1434.1,967.7L1432.8,966.8L1431.6,965.9L1430.4,965.0L1429.1,964.1L1427.9,963.2L1426.7,962.2L1425.5,961.3L1424.3,960.4L1423.0,959.5L1421.8,958.5L1420.6,957.6L1419.4,956.7L1418.2,955.7L1417.0,954.8L1415.8,953.8L1414.6,952.9L1413.4,951.9L1412.2,951.0L1411.1,950.0L1409.9,949.1L1408.7,948.1L1407.5,947.1L1406.3,946.1L1405.2,945.2L1404.0,944.2L1402.8,943.2L1401.7,942.2L1400.5,941.3L1399.3,940.3L1398.2,939.3L1397.0,938.3L1395.9,937.3L1394.7,936.3L1393.6,935.3L1392.4,934.3L1391.3,933.3L1390.1,932.2L1389.0,931.2L1387.9,930.2L1386.7,929.2L1385.6,928.2L1384.5,927.1L1383.3,926.1L1382.2,925.1L1381.1,924.0L1380.0,923.0L1378.9,921.9L1377.8,920.9L1376.7,919.8L1375.6,918.8L1374.4,917.7L1373.3,916.6L1372.3,915.6L1371.2,914.5L1370.1,913.4L1369.0,912.4L1367.9,911.3L1366.8,910.2L1365.7,909.1L1364.7,908.0L1363.6,906.9L1362.5,905.8L1361.5,904.7L1360.4,903.6L1359.3,902.5L1358.3,901.4L1357.2,900.3L1356.2,899.2L1355.2,898.1L1354.1,897.0L1353.1,895.8L1352.1,894.7L1351.0,893.6L1350.0,892.4L1349.0,891.3L1348.0,890.2L1347.0,889.0L1346.0,887.9L1345.0,886.7L1344.0,885.6L1343.0,884.4L1342.0,883.3L1341.0,882.1L1340.0,881.0L1339.0,879.8L1338.1,878.6L1337.1,877.4L1336.2,876.3L1335.2,875.1L1334.3,873.9L1333.3,872.7L1332.4,871.5L1331.5,870.3L1330.5,869.1L1329.6,867.9L1328.7,866.7L1327.8,865.5L1326.9,864.3L1326.0,863.0L1325.1,861.8L1324.2,860.6L1323.3,859.3L1322.4,858.1L1321.5,856.9L1320.6,855.6L1319.8,854.4L1318.9,853.1L1318.0,851.8L1317.1,850.6L1316.3,849.3L1315.4,848.1L1314.5,846.8L1313.7,845.5L1312.8,844.3L1312.0,843.0L1311.1,841.7L1310.2,840.4L1309.4,839.2L1308.5,837.9L1307.7,836.6L1306.8,835.3L1305.9,834.0L1305.1,832.8L1304.2,831.5L1303.4,830.2L1302.5,828.9L1301.7,827.6L1300.8,826.3L1300.0,825.0L1299.2,823.7L1298.3,822.5L1297.5,821.2L1296.6,819.9L1295.8,818.6L1295.0,817.3L1294.1,816.0L1293.3,814.7L1292.5,813.4L1291.7,812.1L1290.8,810.8L1290.0,809.5L1289.2,808.2L1288.4,806.9L1287.5,805.5L1286.7,804.2L1285.9,802.9L1285.1,801.6L1284.3,800.3L1283.5,799.0L1282.7,797.7L1281.9,796.4L1281.1,795.1L1280.3,793.7L1279.5,792.4L1278.7,791.1L1277.9,789.8L1277.1,788.5L1276.3,787.1L1275.6,785.8L1274.8,784.5L1274.0,783.2L1273.2,781.8L1272.4,780.5L1271.7,779.2L1270.9,777.8L1270.1,776.5L1269.4,775.2L1268.6,773.8L1267.8,772.5L1267.1,771.2L1266.3,769.8L1265.6,768.5L1264.8,767.2L1264.1,765.8L1263.3,764.5L1262.6,763.1L1261.8,761.8L1261.1,760.4L1260.3,759.1L1259.6,757.7L1258.8,756.4L1258.1,755.0L1257.4,753.7L1256.6,752.3L1255.9,751.0L1255.2,749.6L1254.5,748.3L1253.7,746.9L1253.0,745.6L1252.3,744.2L1251.6,742.9L1250.9,741.5L1250.1,740.1L1249.4,738.8L1248.7,737.4L1248.0,736.1L1247.3,734.7L1246.6,733.3L1245.9,732.0L1245.2,730.6L1244.5,729.2L1243.8,727.9L1243.1,726.5L1242.4,725.1L1241.7,723.8L1241.0,722.4L1240.3,721.0L1239.6,719.6L1238.9,718.3L1238.3,716.9L1237.6,715.5L1236.9,714.1L1236.2,712.8L1235.5,711.4L1234.9,710.0L1234.2,708.6L1233.5,707.2L1232.8,705.8L1232.2,704.5L1231.5,703.1L1230.8,701.7L1230.2,700.3L1229.5,698.9L1228.8,697.5L1228.2,696.2L1227.5,694.8L1226.9,693.4L1226.2,692.0L1225.5,690.6L1224.9,689.2L1224.2,687.8L1223.6,686.4L1222.9,685.0L1222.3,683.6L1221.6,682.2L1221.0,680.8L1220.3,679.4L1219.7,678.1L1219.1,676.7L1218.4,675.3L1217.8,673.9L1217.1,672.5L1216.5,671.1L1215.9,669.7L1215.2,668.3L1214.6,666.9L1214.0,665.4L1213.3,664.0L1212.7,662.6L1212.1,661.2L1211.5,659.8L1210.8,658.4L1210.2,657.0L1209.6,655.6L1209.0,654.2L1208.3,652.8L1207.7,651.4L1207.1,650.0L1206.5,648.6L1205.9,647.2L1205.3,645.7L1204.6,644.3L1204.0,642.9L1203.4,641.5L1202.8,640.1L1202.2,638.7L1201.6,637.3L1201.0,635.8L1200.4,634.4L1199.8,633.0L1199.2,631.6L1198.6,630.2L1198.0,628.8L1197.4,627.3L1196.8,625.9L1196.2,624.5L1195.6,623.1L1195.0,621.7L1194.4,620.2L1193.8,618.8L1193.2,617.4L1192.6,616.0L1192.0,614.6L1191.4,613.1L1190.8,611.7L1190.2,610.3L1189.6,608.9L1189.0,607.4L1188.4,606.0L1187.8,604.6L1187.3,603.2L1186.7,601.7L1186.1,600.3L1185.5,598.9L1184.9,597.5L1184.3,596.0L1183.8,594.6L1183.2,593.2L1182.6,591.7L1182.0,590.3L1181.4,588.9L1180.9,587.5L1180.3,586.0L1179.7,584.6L1179.1,583.2L1178.5,581.7L1178.0,580.3L1177.4,578.9L1176.8,577.4L1176.2,576.0L1175.7,574.6L1175.1,573.1L1174.5,571.7L1174.0,570.3L1173.4,568.8L1172.8,567.4L1172.2,566.0L1171.7,564.5L1171.1,563.1L1170.5,561.7L1170.0,560.2L1169.4,558.8L1168.8,557.4L1168.3,555.9L1167.7,554.5L1167.1,553.0L1166.6,551.6L1166.0,550.2L1165.4,548.7L1164.9,547.3L1164.3,545.9L1163.7,544.4L1163.2,543.0L1162.6,541.5L1162.1,540.1L1161.5,538.7L1160.9,537.2L1160.4,535.8L1159.8,534.4L1159.2,532.9L1158.7,531.5L1158.1,530.0L1157.6,528.6L1157.0,527.2L1156.4,525.7L1155.9,524.3L1155.3,522.8L1154.8,521.4L1154.2,520.0L1153.6,518.5L1153.1,517.1L1152.5,515.6L1152.0,514.2L1151.4,512.8L1150.8,511.3L1150.3,509.9L1149.7,508.4L1149.2,507.0L1148.6,505.6L1148.1,504.1L1147.5,502.7L1146.9,501.2L1146.4,499.8L1145.8,498.3L1145.3,496.9L1144.7,495.5L1144.1,494.0L1143.6,492.6L1143.0,491.1L1142.5,489.7L1141.9,488.3L1141.4,486.8L1140.8,485.4L1140.2,483.9L1139.7,482.5L1139.1,481.1L1138.6,479.6L1138.0,478.2L1137.4,476.7L1136.9,475.3L1136.3,473.9L1135.8,472.4L1135.2,471.0L1134.6,469.5L1134.1,468.1L1133.5,466.7L1133.0,465.2L1132.4,463.8L1131.8,462.3L1131.3,460.9L1130.7,459.5L1130.2,458.0L1129.6,456.6L1129.0,455.1L1128.5,453.7L1127.9,452.3L1127.3,450.8L1126.8,449.4L1126.2,448.0L1125.7,446.5L1125.1,445.1L1124.5,443.6L1124.0,442.2L1123.4,440.8L1122.8,439.3L1122.3,437.9L1121.7,436.5L1121.1,435.0L1120.6,433.6L1120.0,432.2L1119.4,430.7L1118.8,429.3L1118.3,427.8L1117.7,426.4L1117.1,425.0L1116.6,423.5L1116.0,422.1L1115.4,420.7L1114.8,419.2L1114.3,417.8L1113.7,416.4L1113.1,414.9L1112.5,413.5L1112.0,412.1L1111.4,410.7L1110.8,409.2L1110.2,407.8L1109.7,406.4L1109.1,404.9L1108.5,403.5L1107.9,402.1L1107.3,400.6L1106.8,399.2L1106.2,397.8L1105.6,396.4L1105.0,394.9L1104.4,393.5L1103.8,392.1L1103.2,390.7L1102.7,389.2L1102.1,387.8L1101.5,386.4L1100.9,385.0L1100.3,383.5L1099.7,382.1L1099.1,380.7L1098.5,379.3L1097.9,377.8L1097.3,376.4L1096.7,375.0L1096.2,373.6L1095.6,372.1L1095.0,370.7L1094.4,369.3L1093.8,367.9L1093.2,366.5L1092.6,365.0L1092.0,363.6L1091.4,362.2L1090.8,360.8L1090.2,359.3L1089.6,357.9L1089.0,356.5L1088.4,355.1L1087.8,353.7L1087.2,352.2L1086.6,350.8L1086.0,349.4L1085.4,348.0L1084.8,346.6L1084.2,345.1L1083.6,343.7L1083.0,342.3L1082.4,340.9L1081.7,339.5L1081.1,338.0L1080.5,336.6L1079.9,335.2L1079.3,333.8L1078.7,332.3L1078.1,330.9L1077.5,329.5L1076.9,328.1L1076.3,326.7L1075.7,325.2L1075.1,323.8L1074.5,322.4L1073.8,321.0L1073.2,319.5L1072.6,318.1L1072.0,316.7L1071.4,315.3L1070.8,313.8L1070.2,312.4L1069.6,311.0L1069.0,309.6L1068.3,308.1L1067.7,306.7L1067.1,305.3L1066.5,303.9L1065.9,302.4L1065.3,301.0L1064.7,299.6L1064.1,298.1L1063.4,296.7L1062.8,295.3L1062.2,293.9L1061.6,292.4L1061.0,291.0L1060.4,289.6L1059.7,288.1L1059.1,286.7L1058.5,285.3L1057.9,283.8L1057.2,282.4L1056.6,281.0L1056.0,279.5L1055.4,278.1L1054.7,276.7L1054.1,275.3L1053.5,273.8L1052.8,272.4L1052.2,271.0L1051.5,269.5L1050.9,268.1L1050.2,266.7L1049.6,265.3L1048.9,263.9L1048.3,262.4L1047.6,261.0L1047.0,259.6L1046.3,258.2L1045.6,256.8L1045.0,255.4L1044.3,253.9L1043.6,252.5L1042.9,251.1L1042.3,249.7L1041.6,248.3L1040.9,246.9L1040.2,245.5L1039.5,244.1L1038.8,242.7L1038.1,241.3L1037.4,239.9L1036.7,238.6L1035.9,237.2L1035.2,235.8L1034.5,234.4L1033.8,233.0L1033.0,231.7L1032.3,230.3L1031.5,228.9L1030.8,227.6L1030.0,226.2L1029.3,224.8L1028.5,223.5L1027.8,222.1L1027.0,220.8L1026.2,219.4L1025.4,218.1L1024.6,216.7L1023.8,215.4L1023.0,214.1L1022.2,212.7L1021.4,211.4L1020.6,210.1L1019.8,208.8L1019.0,207.5L1018.1,206.2L1017.3,204.8L1016.4,203.5L1015.6,202.2L1014.7,201.0L1013.9,199.7L1013.0,198.4L1012.1,197.1L1011.2,195.8L1010.3,194.6L1009.4,193.3L1008.5,192.1L1007.6,190.8L1006.7,189.6L1005.8,188.3L1004.9,187.1L1004.0,185.8L1003.0,184.6L1002.1,183.4L1001.2,182.1L1000.2,180.9L999.3,179.6L998.3,178.4L997.3,177.2L996.4,175.9L995.4,174.7L994.4,173.5L993.4,172.2L992.4,171.0L991.4,169.8L990.4,168.5L989.4,167.3L988.3,166.1L987.3,164.9L986.2,163.7L985.1,162.4L984.0,161.3L982.9,160.1L981.7,158.9L980.5,157.7L979.3,156.6L978.1,155.5L976.9,154.4L975.6,153.3L974.3,152.3L973.0,151.2L971.7,150.2L970.3,149.3L968.9,148.3L967.5,147.4L966.1,146.6L964.6,145.7L963.1,144.9L961.6,144.1L960.1,143.4L958.6,142.7L957.1,142.0L955.5,141.4L954.0,140.8L952.4,140.2L950.8,139.7L949.3,139.2L947.7,138.7L946.1,138.3L944.5,137.9L942.8,137.5L941.2,137.2L939.6,136.9L938.0,136.6L936.3,136.4L934.7,136.3L933.0,136.2L931.4,136.1L929.8,136.1L928.1,136.1L926.5,136.2L924.8,136.3L923.2,136.5L921.5,136.7L919.9,136.9L918.3,137.2L916.6,137.6L915.0,138.0L913.4,138.5L911.8,139.0L910.2,139.5L908.7,140.1L907.1,140.7L905.6,141.3L904.1,142.0L902.6,142.7L901.1,143.5L899.7,144.3L898.2,145.1L896.8,145.9L895.4,146.8L894.0,147.7L892.7,148.6L891.3,149.5L890.0,150.5L888.7,151.5L887.4,152.5L886.2,153.5L885.0,154.6L883.7,155.7L882.5,156.8L881.4,157.9L880.2,159.1L879.1,160.2L878.0,161.4L876.9,162.6L875.8,163.8L874.8,165.1L873.7,166.3L872.7,167.6L871.7,168.8L870.7,170.1L869.8,171.4L868.8,172.7L867.9,174.0L866.9,175.4L866.0,176.7L865.1,178.0L864.2,179.3L863.3,180.7L862.4,182.0L861.5,183.4L860.7,184.7L859.8,186.1L859.0,187.4L858.1,188.8L857.3,190.2L856.5,191.5L855.6,192.9L854.8,194.3L854.0,195.6L853.2,197.0L852.4,198.3L851.6,199.7L850.8,201.1L850.1,202.4L849.3,203.8L848.5,205.2L847.7,206.5L847.0,207.9L846.2,209.2L845.5,210.6L844.7,212.0L844.0,213.4L843.3,214.7L842.5,216.1L841.8,217.5L841.1,218.8L840.4,220.2L839.6,221.6L838.9,222.9L838.2,224.3L837.5,225.7L836.8,227.1L836.1,228.4L835.4,229.8L834.7,231.2L834.0,232.6L833.4,233.9L832.7,235.3L832.0,236.7L831.3,238.1L830.6,239.5L830.0,240.9L829.3,242.2L828.6,243.6L827.9,245.0L827.3,246.4L826.6,247.8L825.9,249.2L825.3,250.5L824.6,251.9L823.9,253.3L823.3,254.7L822.6,256.1L822.0,257.5L821.3,258.9L820.6,260.3L820.0,261.7L819.3,263.1L818.7,264.5L818.0,265.9L817.4,267.3L816.7,268.7L816.1,270.1L815.4,271.5L814.8,272.9L814.1,274.3L813.5,275.7L812.8,277.1L812.2,278.5L811.5,279.9L810.9,281.3L810.2,282.7Z" fill="#00ff00" stroke="none"/>
<path d="M818.6,285.3L819.3,283.9L819.9,282.5L820.6,281.1L821.2,279.7L821.9,278.3L822.5,276.9L823.2,275.5L823.9,274.1L824.5,272.7L825.2,271.3L825.8,269.9L826.5,268.5L827.1,267.1L827.8,265.7L828.5,264.3L829.1,262.9L829.8,261.5L830.4,260.1L831.1,258.7L831.8,257.3L832.4,255.9L833.1,254.5L833.7,253.1L834.4,251.7L835.1,250.3L835.7,248.9L836.4,247.5L837.1,246.1L837.7,244.7L838.4,243.3L839.0,241.9L839.7,240.6L840.4,239.2L841.1,237.8L841.7,236.4L842.4,235.0L843.1,233.6L843.8,232.3L844.5,230.9L845.1,229.5L845.8,228.1L846.5,226.8L847.2,225.4L847.9,224.0L848.6,222.7L849.3,221.3L850.0,220.0L850.8,218.6L851.5,217.3L852.2,215.9L852.9,214.6L853.7,213.3L854.4,211.9L855.2,210.6L855.9,209.3L856.7,208.0L857.4,206.6L858.2,205.3L859.0,204.0L859.8,202.7L860.6,201.5L861.4,200.2L862.2,198.9L863.0,197.6L863.8,196.3L864.6,195.1L865.5,193.8L866.3,192.6L867.2,191.3L868.0,190.1L868.9,188.9L869.8,187.6L870.7,186.4L871.6,185.2L872.5,184.0L873.4,182.8L874.3,181.6L875.2,180.5L876.2,179.3L877.1,178.1L878.1,177.0L879.1,175.8L880.0,174.7L881.0,173.5L882.0,172.4L883.0,171.3L884.0,170.2L885.0,169.1L886.1,168.0L887.1,166.9L888.1,165.8L889.2,164.7L890.3,163.6L891.3,162.5L892.4,161.4L893.5,160.4L894.6,159.3L895.6,158.3L896.7,157.3L897.9,156.3L899.0,155.3L900.1,154.3L901.2,153.4L902.4,152.4L903.5,151.5L904.7,150.6L905.9,149.7L907.0,148.9L908.2,148.0L909.4,147.2L910.6,146.4L911.8,145.6L913.1,144.9L914.3,144.2L915.6,143.5L916.8,142.9L918.1,142.3L919.4,141.7L920.7,141.2L922.0,140.7L923.4,140.2L924.7,139.8L926.0,139.5L927.4,139.2L928.7,138.9L930.0,138.7L931.4,138.6L932.7,138.5L934.0,138.5L935.4,138.5L936.7,138.5L938.0,138.7L939.4,138.9L940.7,139.1L942.0,139.4L943.4,139.7L944.7,140.1L946.1,140.5L947.4,141.0L948.7,141.5L950.1,142.0L951.4,142.6L952.7,143.2L954.1,143.9L955.4,144.6L956.7,145.3L958.0,146.0L959.3,146.8L960.6,147.5L961.9,148.3L963.2,149.1L964.5,150.0L965.8,150.8L967.1,151.6L968.3,152.5L969.6,153.4L970.8,154.3L972.0,155.2L973.2,156.1L974.4,157.0L975.6,157.9L976.8,158.9L978.0,159.8L979.1,160.8L980.3,161.7L981.4,162.7L982.5,163.7L983.7,164.7L984.8,165.7L985.9,166.7L986.9,167.8L988.0,168.8L989.1,169.8L990.1,170.9L991.2,171.9L992.2,173.0L993.3,174.1L994.3,175.2L995.3,176.2L996.4,177.3L997.4,178.4L998.4,179.5L999.4,180.7L1000.4,181.8L1001.3,182.9L1002.3,184.0L1003.3,185.2L1004.3,186.3L1005.2,187.5L1006.2,188.7L1007.1,189.8L1008.0,191.0L1008.9,192.2L1009.9,193.4L1010.8,194.6L1011.7,195.8L1012.6,197.0L1013.4,198.3L1014.3,199.5L1015.2,200.7L1016.1,202.0L1016.9,203.2L1017.8,204.5L1018.6,205.7L1019.5,207.0L1020.3,208.3L1021.1,209.5L1021.9,210.8L1022.7,212.1L1023.6,213.4L1024.4,214.7L1025.2,216.0L1025.9,217.3L1026.7,218.6L1027.5,219.9L1028.3,221.2L1029.1,222.5L1029.8,223.8L1030.6,225.2L1031.3,226.5L1032.1,227.8L1032.8,229.1L1033.6,230.5L1034.3,231.8L1035.0,233.1L1035.8,234.5L1036.5,235.8L1037.2,237.2L1037.9,238.5L1038.6,239.9L1039.3,241.3L1040.0,242.6L1040.7,244.0L1041.4,245.3L1042.1,246.7L1042.8,248.1L1043.5,249.5L1044.2,250.8L1044.8,252.2L1045.5,253.6L1046.2,255.0L1046.8,256.4L1047.5,257.8L1048.2,259.1L1048.8,260.5L1049.5,261.9L1050.1,263.3L1050.8,264.7L1051.4,266.1L1052.1,267.5L1052.7,268.9L1053.3,270.3L1054.0,271.7L1054.6,273.1L1055.3,274.6L1055.9,276.0L1056.5,277.4L1057.1,278.8L1057.8,280.2L1058.4,281.6L1059.0,283.0L1059.6,284.5L1060.2,285.9L1060.9,287.3L1061.5,288.7L1062.1,290.1L1062.7,291.6L1063.3,293.0L1063.9,294.4L1064.5,295.8L1065.1,297.3L1065.7,298.7L1066.3,300.1L1067.0,301.5L1067.6,303.0L1068.2,304.4L1068.8,305.8L1069.4,307.2L1070.0,308.7L1070.6,310.1L1071.2,311.5L1071.8,313.0L1072.4,314.4L1073.0,315.8L1073.6,317.2L1074.2,318.7L1074.8,320.1L1075.4,321.5L1076.0,323.0L1076.6,324.4L1077.2,325.8L1077.8,327.2L1078.4,328.7L1079.0,330.1L1079.6,331.5L1080.2,333.0L1080.7,334.4L1081.3,335.8L1081.9,337.2L1082.5,338.7L1083.1,340.1L1083.7,341.5L1084.3,342.9L1084.9,344.4L1085.5,345.8L1086.1,347.2L1086.7,348.7L1087.3,350.1L1087.9,351.5L1088.5,352.9L1089.0,354.4L1089.6,355.8L1090.2,357.2L1090.8,358.7L1091.4,360.1L1092.0,361.5L1092.6,362.9L1093.2,364.4L1093.8,365.8L1094.3,367.2L1094.9,368.7L1095.5,370.1L1096.1,371.5L1096.7,373.0L1097.3,374.4L1097.9,375.8L1098.4,377.2L1099.0,378.7L1099.6,380.1L1100.2,381.5L1100.8,383.0L1101.4,384.4L1101.9,385.8L1102.5,387.2L1103.1,388.7L1103.7,390.1L1104.3,391.5L1104.8,393.0L1105.4,394.4L1106.0,395.8L1106.6,397.3L1107.2,398.7L1107.7,400.1L1108.3,401.5L1108.9,403.0L1109.5,404.4L1110.1,405.8L1110.6,407.3L1111.2,408.7L1111.8,410.1L1112.4,411.6L1113.0,413.0L1113.5,414.4L1114.1,415.8L1114.7,417.3L1115.3,418.7L1115.8,420.1L1116.4,421.6L1117.0,423.0L1117.6,424.4L1118.1,425.9L1118.7,427.3L1119.3,428.7L1119.9,430.2L1120.4,431.6L1121.0,433.0L1121.6,434.5L1122.2,435.9L1122.7,437.3L1123.3,438.8L1123.9,440.2L1124.4,441.6L1125.0,443.0L1125.6,444.5L1126.2,445.9L1126.7,447.3L1127.3,448.8L1127.9,450.2L1128.4,451.6L1129.0,453.1L1129.6,454.5L1130.2,455.9L1130.7,457.4L1131.3,458.8L1131.9,460.2L1132.4,461.7L1133.0,463.1L1133.6,464.5L1134.1,466.0L1134.7,467.4L1135.3,468.8L1135.8,470.3L1136.4,471.7L1137.0,473.2L1137.5,474.6L1138.1,476.0L1138.7,477.5L1139.2,478.9L1139.8,480.3L1140.4,481.8L1140.9,483.2L1141.5,484.6L1142.1,486.1L1142.6,487.5L1143.2,488.9L1143.8,490.4L1144.3,491.8L1144.9,493.3L1145.5,494.7L1146.0,496.1L1146.6,497.6L1147.2,499.0L1147.7,500.4L1148.3,501.9L1148.9,503.3L1149.4,504.7L1150.0,506.2L1150.6,507.6L1151.1,509.1L1151.7,510.5L1152.2,511.9L1152.8,513.4L1153.4,514.8L1153.9,516.3L1154.5,517.7L1155.1,519.1L1155.6,520.6L1156.2,522.0L1156.8,523.4L1157.3,524.9L1157.9,526.3L1158.5,527.8L1159.0,529.2L1159.6,530.6L1160.2,532.1L1160.7,533.5L1161.3,535.0L1161.8,536.4L1162.4,537.8L1163.0,539.3L1163.5,540.7L1164.1,542.2L1164.7,543.6L1165.2,545.0L1165.8,546.5L1166.4,547.9L1166.9,549.4L1167.5,550.8L1168.1,552.2L1168.7,553.7L1169.2,555.1L1169.8,556.5L1170.4,558.0L1170.9,559.4L1171.5,560.9L1172.1,562.3L1172.6,563.7L1173.2,565.2L1173.8,566.6L1174.4,568.1L1174.9,569.5L1175.5,570.9L1176.1,572.4L1176.7,573.8L1177.2,575.2L1177.8,576.7L1178.4,578.1L1179.0,579.5L1179.5,581.0L1180.1,582.4L1180.7,583.9L1181.3,585.3L1181.9,586.7L1182.4,588.2L1183.0,589.6L1183.6,591.0L1184.2,592.5L1184.8,593.9L1185.4,595.3L1186.0,596.8L1186.5,598.2L1187.1,599.6L1187.7,601.1L1188.3,602.5L1188.9,603.9L1189.5,605.4L1190.1,606.8L1190.7,608.2L1191.3,609.7L1191.9,611.1L1192.4,612.5L1193.0,613.9L1193.6,615.4L1194.2,616.8L1194.8,618.2L1195.4,619.7L1196.0,621.1L1196.6,622.5L1197.2,623.9L1197.8,625.4L1198.5,626.8L1199.1,628.2L1199.7,629.6L1200.3,631.1L1200.9,632.5L1201.5,633.9L1202.1,635.3L1202.7,636.8L1203.3,638.2L1203.9,639.6L1204.6,641.0L1205.2,642.5L1205.8,643.9L1206.4,645.3L1207.0,646.7L1207.7,648.1L1208.3,649.6L1208.9,651.0L1209.5,652.4L1210.2,653.8L1210.8,655.2L1211.4,656.6L1212.0,658.1L1212.7,659.5L1213.3,660.9L1213.9,662.3L1214.6,663.7L1215.2,665.1L1215.9,666.5L1216.5,667.9L1217.1,669.4L1217.8,670.8L1218.4,672.2L1219.1,673.6L1219.7,675.0L1220.4,676.4L1221.0,677.8L1221.7,679.2L1222.3,680.6L1223.0,682.0L1223.6,683.4L1224.3,684.8L1224.9,686.2L1225.6,687.6L1226.3,689.0L1226.9,690.4L1227.6,691.8L1228.3,693.2L1228.9,694.6L1229.6,696.0L1230.3,697.4L1231.0,698.8L1231.6,700.2L1232.3,701.6L1233.0,703.0L1233.7,704.4L1234.4,705.8L1235.0,707.2L1235.7,708.6L1236.4,710.0L1237.1,711.3L1237.8,712.7L1238.5,714.1L1239.2,715.5L1239.9,716.9L1240.6,718.3L1241.3,719.7L1242.0,721.0L1242.7,722.4L1243.4,723.8L1244.1,725.2L1244.8,726.6L1245.5,727.9L1246.2,729.3L1246.9,730.7L1247.7,732.1L1248.4,733.4L1249.1,734.8L1249.8,736.2L1250.5,737.6L1251.3,738.9L1252.0,740.3L1252.7,741.7L1253.4,743.0L1254.2,744.4L1254.9,745.8L1255.6,747.1L1256.4,748.5L1257.1,749.9L1257.9,751.2L1258.6,752.6L1259.3,754.0L1260.1,755.3L1260.8,756.7L1261.6,758.0L1262.3,759.4L1263.1,760.8L1263.8,762.1L1264.6,763.5L1265.3,764.8L1266.1,766.2L1266.9,767.5L1267.6,768.9L1268.4,770.2L1269.1,771.6L1269.9,772.9L1270.7,774.3L1271.4,775.6L1272.2,777.0L1273.0,778.3L1273.8,779.7L1274.5,781.0L1275.3,782.4L1276.1,783.7L1276.9,785.0L1277.7,786.4L1278.4,787.7L1279.2,789.1L1280.0,790.4L1280.8,791.7L1281.6,793.1L1282.4,794.4L1283.2,795.7L1284.0,797.1L1284.8,798.4L1285.6,799.7L1286.4,801.1L1287.2,802.4L1288.0,803.7L1288.8,805.0L1289.6,806.4L1290.4,807.7L1291.2,809.0L1292.0,810.3L1292.8,811.7L1293.6,813.0L1294.4,814.3L1295.2,815.6L1296.1,817.0L1296.9,818.3L1297.7,819.6L1298.5,820.9L1299.4,822.2L1300.2,823.5L1301.0,824.8L1301.8,826.2L1302.7,827.5L1303.5,828.8L1304.3,830.1L1305.2,831.4L1306.0,832.7L1306.8,834.0L1307.7,835.3L1308.5,836.6L1309.4,837.9L1310.2,839.2L1311.1,840.5L1311.9,841.8L1312.8,843.1L1313.6,844.4L1314.5,845.7L1315.3,847.0L1316.2,848.3L1317.0,849.6L1317.9,850.9L1318.7,852.2L1319.6,853.5L1320.5,854.8L1321.3,856.1L1322.2,857.4L1323.1,858.7L1323.9,860.0L1324.8,861.3L1325.7,862.6L1326.6,863.8L1327.5,865.1L1328.4,866.4L1329.3,867.7L1330.2,869.0L1331.1,870.3L1332.0,871.6L1333.0,872.8L1333.9,874.1L1334.9,875.4L1335.8,876.6L1336.8,877.9L1337.8,879.1L1338.8,880.4L1339.8,881.6L1340.9,882.8L1341.9,884.0L1343.0,885.1L1344.0,886.3L1345.1,887.4L1346.2,888.6L1347.3,889.7L1348.4,890.9L1349.4,892.0L1350.5,893.1L1351.6,894.2L1352.7,895.3L1353.8,896.4L1354.9,897.5L1356.0,898.6L1357.0,899.7L1358.1,900.8L1359.2,901.9L1360.2,903.0L1361.3,904.1L1362.3,905.2L1363.4,906.3L1364.4,907.4L1365.5,908.5L1366.5,909.6L1367.5,910.8L1368.6,911.9L1369.6,913.0L1370.6,914.2L1371.7,915.3L1372.7,916.5L1373.7,917.6L1374.8,918.8L1375.8,919.9L1376.9,921.1L1377.9,922.2L1379.0,923.4L1380.0,924.5L1381.1,925.7L1382.1,926.8L1383.2,928.0L1384.3,929.1L1385.4,930.3L1386.5,931.4L1387.6,932.5L1388.7,933.7L1389.8,934.8L1390.9,935.9L1392.0,937.0L1393.2,938.1L1394.3,939.2L1395.4,940.2L1396.6,941.3L1397.7,942.4L1398.9,943.5L1400.1,944.5L1401.2,945.6L1402.4,946.6L1403.6,947.7L1404.8,948.7L1406.0,949.7L1407.2,950.8L1408.4,951.8L1409.6,952.8L1410.8,953.8L1412.0,954.8L1413.2,955.8L1414.4,956.8L1415.7,957.8L1416.9,958.8L1418.1,959.7L1419.4,960.7L1420.6,961.7L1421.9,962.6L1423.1,963.6L1424.4,964.5L1425.6,965.5L1426.9,966.4L1428.2,967.3L1429.5,968.3L1430.7,969.2L1432.0,970.1L1433.3,971.0L1434.6,971.9L1435.9,972.8L1437.2,973.7L1438.5,974.6L1439.8,975.5L1441.1,976.3L1442.4,977.2L1443.7,978.1L1445.1,978.9L1446.4,979.8L1447.7,980.6L1449.0,981.5L1450.4,982.3L1451.7,983.1L1453.0,984.0L1454.4,984.8L1455.7,985.6L1457.1,986.4L1458.4,987.2L1459.8,988.0L1461.1,988.8L1462.5,989.6L1463.9,990.4L1465.2,991.2L1466.6,992.0L1468.0,992.7L1469.3,993.5L1470.7,994.3L1472.1,995.0L1473.5,995.8L1474.9,996.5L1476.2,997.3L1477.6,998.0L1479.0,998.7L1480.4,999.5L1481.8,1000.2L1483.2,1000.9L1484.6,1001.6L1486.0,1002.3L1487.4,1003.0L1488.8,1003.7L1490.2,1004.4L1491.6,1005.1L1493.0,1005.8L1494.4,1006.4L1495.8,1007.1L1497.3,1007.8L1498.7,1008.4L1500.1,1009.1L1501.5,1009.8L1502.9,1010.4L1504.4,1011.0L1505.8,1011.7L1507.2,1012.3L1508.6,1013.0L1510.1,1013.6L1511.5,1014.2L1512.9,1014.8L1514.4,1015.4L1515.8,1016.0L1517.2,1016.7L1518.7,1017.3L1520.1,1017.9L1521.6,1018.4L1523.0,1019.0L1524.5,1019.6L1525.9,1020.2L1527.4,1020.8L1528.8,1021.3L1530.3,1021.9L1531.7,1022.5L1533.2,1023.0L1534.6,1023.6L1536.1,1024.2L1537.6,1024.7L1539.0,1025.2L1540.5,1025.8L1542.0,1026.3L1543.4,1026.9L1544.9,1027.4L1546.4,1027.9L1547.8,1028.4L1549.3,1029.0L1550.8,1029.5L1552.2,1030.0L1553.7,1030.5L1555.2,1031.0L1556.7,1031.5L1558.1,1032.0L1559.6,1032.5L1561.1,1033.0L1562.6,1033.5L1564.1,1034.0L1565.5,1034.4L1567.0,1034.9L1568.5,1035.4L1570.0,1035.9L1571.5,1036.3L1573.0,1036.8L1574.5,1037.3L1575.9,1037.7L1577.4,1038.2L1578.9,1038.6L1580.4,1039.1L1581.9,1039.5L1583.4,1040.0L1584.9,1040.4L1586.4,1040.9L1587.9,1041.3L1589.4,1041.7L1590.9,1042.2L1592.4,1042.6L1593.9,1043.0L1595.4,1043.4L1596.9,1043.8L1598.4,1044.3L1599.9,1044.7L1601.4,1045.1L1602.9,1045.5L1604.4,1045.9L1605.9,1046.3L1607.4,1046.7L1608.9,1047.1L1610.4,1047.5L1611.9,1047.9L1613.4,1048.3L1614.9,1048.7L1616.4,1049.1L1617.9,1049.4L1619.4,1049.8L1620.9,1050.2L1622.5,1050.6L1624.0,1050.9L1625.5,1051.3L1627.0,1051.7L1628.5,1052.0L1630.0,1052.4L1631.5,1052.8L1633.0,1053.1L1634.6,1053.5L1636.1,1053.8L1637.6,1054.2L1639.1,1054.5L1640.6,1054.9L1642.1,1055.2L1643.6,1055.5L1645.2,1055.9L1646.7,1056.2L1648.2,1056.5L1649.7,1056.9L1651.2,1057.2L1652.8,1057.5L1654.3,1057.8L1655.8,1058.1L1657.3,1058.5L1658.8,1058.8L1660.4,1059.1L1661.9,1059.4L1663.4,1059.7L1664.9,1060.0L1666.5,1060.3L1668.0,1060.6L1669.5,1060.9L1671.0,1061.2L1672.6,1061.5L1674.1,1061.8L1675.6,1062.1L1677.1,1062.3L1678.7,1062.6L1680.2,1062.9L1681.7,1063.2L1683.3,1063.4L1684.8,1063.7L1686.3,1064.0L1687.8,1064.3L1689.4,1064.5L1690.9,1064.8L1692.4,1065.0L1694.0,1065.3L1695.5,1065.5L1697.0,1065.8L1698.6,1066.0L1700.1,1066.3L1701.6,1066.5L1703.2,1066.8L1704.7,1067.0L1706.2,1067.3L1707.8,1067.5L1709.3,1067.7L1710.8,1068.0L1712.4,1068.2L1713.9,1068.4L1715.4,1068.6L1717.0,1068.8L1718.5,1069.1L1720.0,1069.3L1721.6,1069.5L1723.1,1069.7L1724.7,1069.9L1726.2,1070.1L1727.7,1070.3L1729.3,1070.5L1730.8,1070.7L1732.3,1070.9L1733.9,1071.1L1735.4,1071.3L1737.0,1071.5L1738.5,1071.7L1740.0,1071.9L1741.6,1072.1L1743.1,1072.2L1744.7,1072.4L1746.2,1072.6L1747.7,1072.8L1749.3,1072.9L1750.8,1073.1L1752.4,1073.3L1753.9,1073.4L1755.4,1073.6L1757.0,1073.8L1758.5,1073.9L1760.1,1074.1L1761.6,1074.3L1763.2,1074.4L1764.7,1074.6L1766.2,1074.7L1767.8,1074.9L1769.3,1075.0L1770.9,1075.2L1772.4,1075.3L1774.0,1075.4L1775.5,1075.6L1777.0,1075.7L1778.6,1075.9L1780.1,1076.0L1781.7,1076.1L1783.2,1076.2L1784.8,1076.4L1786.3,1076.5L1787.8,1076.6L1789.4,1076.8L1790.9,1076.9L1792.5,1077.0L1794.0,1077.1L1795.6,1077.2L1797.1,1077.4L1798.7,1077.5L1800.2,1077.6L1801.8,1077.7L1803.3,1077.8L1804.8,1077.9L1806.4,1078.0L1807.9,1078.1L1809.5,1078.2L1811.0,1078.3L1812.6,1078.4L1814.1,1078.5L1815.7,1078.6L1817.2,1078.7L1818.8,1078.8L1820.3,1078.9L1821.9,1079.0L1823.4,1079.1L1825.0,1079.2L1826.5,1079.3L1828.0,1079.4L1829.6,1079.5L1831.1,1079.6L1832.7,1079.6L1834.2,1079.7L1835.8,1079.8L1837.3,1079.9L1838.9,1080.0L1840.4,1080.1L1842.0,1080.1L1843.5,1080.2L1845.1,1080.3L1846.6,1080.4L1848.2,1080.4L1849.7,1080.5L1851.3,1080.6L1852.8,1080.7L1854.4,1080.7L1855.9,1080.8L1857.5,1080.9L1859.0,1080.9L1860.5,1081.0L1862.1,1081.1L1863.6,1081.1L1865.2,1081.2L1866.7,1081.3L1868.3,1081.3L1869.8,1081.4L1871.4,1081.4L1872.9,1081.5L1874.5,1081.6L1876.0,1081.6L1877.6,1081.7L1879.1,1081.7L1880.7,1081.8L1882.2,1081.9L1883.8,1081.9L1885.3,1082.0L1886.9,1082.0L1888.4,1082.1L1890.0,1082.1L1891.5,1082.2L1893.1,1082.2L1894.6,1082.3L1896.2,1082.3L1897.7,1082.4L1899.3,1082.4L1900.8,1082.5L1902.3,1082.6L1903.9,1082.6L1905.4,1082.7L1907.0,1082.7L1908.5,1082.7L1910.1,1082.8L1911.6,1082.8L1913.2,1082.9L1914.7,1082.9L1916.3,1083.0L1917.8,1083.0L1919.4,1083.1L1920.9,1083.1L1922.5,1083.2L1924.0,1083.2L1925.6,1083.3L1927.1,1083.3L1928.7,1083.4L1930.2,1083.4L1931.7,1083.5L1933.3,1083.5L1934.8,1083.6L1936.4,1083.6L1937.9,1083.6L1939.5,1083.7L1941.0,1083.7L1942.6,1083.8L1944.1,1083.8L1945.7,1083.9L1947.2,1083.9L1948.8,1084.0L1950.3,1084.0L1951.8,1084.1L1953.4,1084.1L1954.9,1084.2L1956.5,1084.2L1958.0,1084.3L1959.6,1084.3L1961.1,1084.4L1962.7,1084.4L1964.2,1084.4L1965.8,1084.5L1967.3,1084.5L1968.8,1084.6L1970.4,1084.6L1971.9,1084.7L1973.5,1084.7L1975.0,1084.8L1976.6,1084.9L1978.1,1084.9L1979.6,1085.0L1981.2,1085.0L1982.7,1085.1L1984.3,1085.1L1985.8,1085.2L1987.4,1085.2L1988.9,1085.3L1990.4,1085.3L1992.0,1085.4L1993.5,1085.5L1995.1,1085.5L1996.6,1085.6L1998.1,1085.6L1999.7,1085.7L2001.2,1085.8L2002.8,1085.8L2004.3,1085.9L2005.8,1085.9L2007.4,1086.0L2008.9,1086.1L2010.5,1086.1L2012.0,1086.2L2013.5,1086.3L2015.1,1086.3L2016.6,1086.4L2018.2,1086.5L2019.7,1086.5L2021.2,1086.6L2022.8,1086.7L2024.3,1086.8L2025.9,1086.8L2027.4,1086.9L2028.9,1087.0L2030.5,1087.1L2032.0,1087.2L2033.5,1087.2L2035.1,1087.3L2036.6,1087.4L2038.1,1087.5L2039.7,1087.6L2041.2,1087.6L2042.8,1087.7L2044.3,1087.8L2045.8,1087.9L2047.4,1088.0L2048.9,1088.1L2050.5,1088.1L2052.1,1088.2L2053.6,1088.3L2055.2,1088.3L2056.7,1088.3L2058.3,1088.4L2059.9,1088.4L2061.5,1088.4L2063.1,1088.4L2064.6,1088.4L2066.2,1088.4L2067.8,1088.3L2069.4,1088.2L2071.0,1088.2L2072.6,1088.1L2074.3,1087.9L2075.9,1087.8L2077.5,1087.6L2076.5,1078.8L2075.0,1079.0L2073.5,1079.1L2072.0,1079.2L2070.5,1079.3L2069.0,1079.4L2067.5,1079.5L2066.0,1079.5L2064.5,1079.6L2063.0,1079.6L2061.5,1079.6L2060.0,1079.6L2058.5,1079.6L2057.0,1079.5L2055.4,1079.5L2053.9,1079.4L2052.4,1079.4L2050.9,1079.3L2049.4,1079.2L2047.8,1079.2L2046.3,1079.1L2044.8,1079.0L2043.2,1078.9L2041.7,1078.8L2040.2,1078.7L2038.6,1078.7L2037.1,1078.6L2035.5,1078.5L2034.0,1078.4L2032.5,1078.3L2030.9,1078.3L2029.4,1078.2L2027.8,1078.1L2026.3,1078.0L2024.7,1077.9L2023.2,1077.9L2021.7,1077.8L2020.1,1077.7L2018.6,1077.7L2017.0,1077.6L2015.5,1077.5L2013.9,1077.5L2012.4,1077.4L2010.8,1077.3L2009.3,1077.3L2007.8,1077.2L2006.2,1077.1L2004.7,1077.1L2003.1,1077.0L2001.6,1076.9L2000.0,1076.9L1998.5,1076.8L1996.9,1076.8L1995.4,1076.7L1993.9,1076.6L1992.3,1076.6L1990.8,1076.5L1989.2,1076.5L1987.7,1076.4L1986.1,1076.4L1984.6,1076.3L1983.0,1076.2L1981.5,1076.2L1979.9,1076.1L1978.4,1076.1L1976.9,1076.0L1975.3,1076.0L1973.8,1075.9L1972.2,1075.9L1970.7,1075.8L1969.1,1075.8L1967.6,1075.7L1966.0,1075.7L1964.5,1075.6L1962.9,1075.6L1961.4,1075.5L1959.8,1075.5L1958.3,1075.4L1956.8,1075.4L1955.2,1075.3L1953.7,1075.3L1952.1,1075.2L1950.6,1075.2L1949.0,1075.2L1947.5,1075.1L1945.9,1075.1L1944.4,1075.0L1942.8,1075.0L1941.3,1074.9L1939.7,1074.9L1938.2,1074.8L1936.7,1074.8L1935.1,1074.7L1933.6,1074.7L1932.0,1074.6L1930.5,1074.6L1928.9,1074.5L1927.4,1074.5L1925.8,1074.5L1924.3,1074.4L1922.7,1074.4L1921.2,1074.3L1919.6,1074.3L1918.1,1074.2L1916.5,1074.2L1915.0,1074.1L1913.5,1074.1L1911.9,1074.0L1910.4,1074.0L1908.8,1073.9L1907.3,1073.9L1905.7,1073.8L1904.2,1073.8L1902.6,1073.7L1901.1,1073.7L1899.5,1073.6L1898.0,1073.6L1896.5,1073.5L1894.9,1073.5L1893.4,1073.4L1891.8,1073.4L1890.3,1073.3L1888.7,1073.3L1887.2,1073.2L1885.6,1073.2L1884.1,1073.1L1882.5,1073.0L1881.0,1073.0L1879.5,1072.9L1877.9,1072.9L1876.4,1072.8L1874.8,1072.7L1873.3,1072.7L1871.7,1072.6L1870.2,1072.6L1868.6,1072.5L1867.1,1072.4L1865.6,1072.4L1864.0,1072.3L1862.5,1072.2L1860.9,1072.2L1859.4,1072.1L1857.8,1072.0L1856.3,1072.0L1854.8,1071.9L1853.2,1071.8L1851.7,1071.8L1850.1,1071.7L1848.6,1071.6L1847.0,1071.5L1845.5,1071.5L1844.0,1071.4L1842.4,1071.3L1840.9,1071.2L1839.3,1071.2L1837.8,1071.1L1836.3,1071.0L1834.7,1070.9L1833.2,1070.8L1831.6,1070.7L1830.1,1070.7L1828.5,1070.6L1827.0,1070.5L1825.5,1070.4L1823.9,1070.3L1822.4,1070.2L1820.8,1070.1L1819.3,1070.0L1817.8,1069.9L1816.2,1069.8L1814.7,1069.7L1813.2,1069.6L1811.6,1069.5L1810.1,1069.4L1808.5,1069.3L1807.0,1069.2L1805.5,1069.1L1803.9,1069.0L1802.4,1068.9L1800.9,1068.8L1799.3,1068.7L1797.8,1068.5L1796.2,1068.4L1794.7,1068.3L1793.2,1068.2L1791.6,1068.1L1790.1,1067.9L1788.6,1067.8L1787.0,1067.7L1785.5,1067.6L1784.0,1067.4L1782.4,1067.3L1780.9,1067.2L1779.4,1067.0L1777.8,1066.9L1776.3,1066.8L1774.8,1066.6L1773.2,1066.5L1771.7,1066.3L1770.2,1066.2L1768.6,1066.1L1767.1,1065.9L1765.6,1065.8L1764.0,1065.6L1762.5,1065.4L1761.0,1065.3L1759.4,1065.1L1757.9,1065.0L1756.4,1064.8L1754.9,1064.6L1753.3,1064.5L1751.8,1064.3L1750.3,1064.1L1748.7,1064.0L1747.2,1063.8L1745.7,1063.6L1744.2,1063.4L1742.6,1063.3L1741.1,1063.1L1739.6,1062.9L1738.0,1062.7L1736.5,1062.5L1735.0,1062.3L1733.5,1062.1L1731.9,1061.9L1730.4,1061.7L1728.9,1061.5L1727.4,1061.3L1725.8,1061.1L1724.3,1060.9L1722.8,1060.7L1721.3,1060.5L1719.8,1060.3L1718.2,1060.1L1716.7,1059.8L1715.2,1059.6L1713.7,1059.4L1712.1,1059.2L1710.6,1058.9L1709.1,1058.7L1707.6,1058.5L1706.1,1058.2L1704.5,1058.0L1703.0,1057.8L1701.5,1057.5L1700.0,1057.3L1698.5,1057.0L1696.9,1056.8L1695.4,1056.5L1693.9,1056.3L1692.4,1056.0L1690.9,1055.7L1689.4,1055.5L1687.9,1055.2L1686.3,1054.9L1684.8,1054.7L1683.3,1054.4L1681.8,1054.1L1680.3,1053.8L1678.8,1053.6L1677.3,1053.3L1675.7,1053.0L1674.2,1052.7L1672.7,1052.4L1671.2,1052.1L1669.7,1051.8L1668.2,1051.5L1666.7,1051.2L1665.2,1050.9L1663.7,1050.6L1662.2,1050.3L1660.6,1050.0L1659.1,1049.7L1657.6,1049.4L1656.1,1049.1L1654.6,1048.7L1653.1,1048.4L1651.6,1048.1L1650.1,1047.8L1648.6,1047.4L1647.1,1047.1L1645.6,1046.8L1644.1,1046.4L1642.6,1046.1L1641.1,1045.8L1639.6,1045.4L1638.1,1045.1L1636.6,1044.7L1635.1,1044.4L1633.6,1044.0L1632.1,1043.6L1630.6,1043.3L1629.1,1042.9L1627.6,1042.6L1626.1,1042.2L1624.6,1041.8L1623.1,1041.4L1621.6,1041.1L1620.2,1040.7L1618.7,1040.3L1617.2,1039.9L1615.7,1039.5L1614.2,1039.1L1612.7,1038.8L1611.2,1038.4L1609.7,1038.0L1608.2,1037.6L1606.7,1037.2L1605.3,1036.8L1603.8,1036.3L1602.3,1035.9L1600.8,1035.5L1599.3,1035.1L1597.8,1034.7L1596.4,1034.3L1594.9,1033.8L1593.4,1033.4L1591.9,1033.0L1590.4,1032.6L1589.0,1032.1L1587.5,1031.7L1586.0,1031.2L1584.5,1030.8L1583.1,1030.3L1581.6,1029.9L1580.1,1029.4L1578.7,1029.0L1577.2,1028.5L1575.7,1028.1L1574.2,1027.6L1572.8,1027.1L1571.3,1026.7L1569.9,1026.2L1568.4,1025.7L1566.9,1025.2L1565.5,1024.7L1564.0,1024.3L1562.6,1023.8L1561.1,1023.3L1559.6,1022.8L1558.2,1022.3L1556.7,1021.8L1555.3,1021.2L1553.8,1020.7L1552.4,1020.2L1551.0,1019.7L1549.5,1019.2L1548.1,1018.6L1546.6,1018.1L1545.2,1017.6L1543.7,1017.0L1542.3,1016.5L1540.9,1016.0L1539.4,1015.4L1538.0,1014.9L1536.6,1014.3L1535.1,1013.7L1533.7,1013.2L1532.3,1012.6L1530.9,1012.0L1529.5,1011.4L1528.0,1010.9L1526.6,1010.3L1525.2,1009.7L1523.8,1009.1L1522.4,1008.5L1521.0,1007.9L1519.6,1007.3L1518.1,1006.7L1516.7,1006.1L1515.3,1005.4L1513.9,1004.8L1512.5,1004.2L1511.1,1003.6L1509.8,1002.9L1508.4,1002.3L1507.0,1001.6L1505.6,1001.0L1504.2,1000.3L1502.8,999.7L1501.4,999.0L1500.1,998.3L1498.7,997.7L1497.3,997.0L1495.9,996.3L1494.6,995.6L1493.2,994.9L1491.8,994.2L1490.5,993.5L1489.1,992.8L1487.7,992.1L1486.4,991.4L1485.0,990.7L1483.7,989.9L1482.3,989.2L1481.0,988.5L1479.7,987.7L1478.3,987.0L1477.0,986.2L1475.6,985.5L1474.3,984.7L1473.0,983.9L1471.7,983.2L1470.3,982.4L1469.0,981.6L1467.7,980.8L1466.4,980.0L1465.1,979.2L1463.8,978.4L1462.4,977.6L1461.1,976.8L1459.8,976.0L1458.6,975.2L1457.3,974.4L1456.0,973.5L1454.7,972.7L1453.4,971.8L1452.1,971.0L1450.8,970.2L1449.6,969.3L1448.3,968.4L1447.0,967.6L1445.8,966.7L1444.5,965.8L1443.3,964.9L1442.0,964.1L1440.8,963.2L1439.5,962.3L1438.3,961.4L1437.1,960.5L1435.8,959.6L1434.6,958.6L1433.4,957.7L1432.2,956.8L1430.9,955.9L1429.7,954.9L1428.5,954.0L1427.3,953.1L1426.1,952.1L1424.9,951.2L1423.7,950.2L1422.6,949.2L1421.4,948.3L1420.2,947.3L1419.0,946.3L1417.9,945.3L1416.7,944.3L1415.5,943.4L1414.4,942.4L1413.2,941.4L1412.1,940.3L1411.0,939.3L1409.8,938.3L1408.7,937.3L1407.6,936.3L1406.5,935.2L1405.3,934.2L1404.2,933.2L1403.1,932.1L1402.0,931.1L1400.9,930.0L1399.8,929.0L1398.8,927.9L1397.7,926.8L1396.6,925.8L1395.5,924.7L1394.5,923.6L1393.4,922.5L1392.4,921.4L1391.3,920.3L1390.3,919.2L1389.2,918.1L1388.2,917.0L1387.1,915.9L1386.1,914.8L1385.1,913.6L1384.0,912.5L1383.0,911.4L1382.0,910.2L1380.9,909.1L1379.9,907.9L1378.9,906.8L1377.8,905.6L1376.8,904.5L1375.7,903.3L1374.7,902.1L1373.6,901.0L1372.6,899.8L1371.5,898.7L1370.5,897.5L1369.4,896.4L1368.3,895.2L1367.2,894.1L1366.1,893.0L1365.0,891.9L1363.9,890.8L1362.9,889.7L1361.8,888.5L1360.7,887.4L1359.6,886.3L1358.5,885.3L1357.5,884.2L1356.4,883.1L1355.3,882.0L1354.3,880.9L1353.2,879.8L1352.2,878.7L1351.1,877.6L1350.1,876.5L1349.1,875.4L1348.1,874.3L1347.1,873.2L1346.1,872.1L1345.1,871.0L1344.1,869.8L1343.2,868.7L1342.2,867.6L1341.2,866.4L1340.3,865.2L1339.4,864.1L1338.4,862.9L1337.5,861.7L1336.6,860.5L1335.7,859.3L1334.8,858.0L1333.9,856.8L1333.0,855.6L1332.1,854.3L1331.2,853.1L1330.4,851.8L1329.5,850.5L1328.6,849.3L1327.8,848.0L1326.9,846.7L1326.0,845.5L1325.2,844.2L1324.3,842.9L1323.5,841.6L1322.6,840.3L1321.7,839.1L1320.9,837.8L1320.0,836.5L1319.2,835.2L1318.3,833.9L1317.5,832.6L1316.6,831.3L1315.8,830.0L1315.0,828.8L1314.1,827.5L1313.3,826.2L1312.4,824.9L1311.6,823.6L1310.8,822.3L1309.9,821.0L1309.1,819.7L1308.3,818.4L1307.5,817.1L1306.6,815.8L1305.8,814.5L1305.0,813.2L1304.2,811.9L1303.3,810.6L1302.5,809.3L1301.7,808.0L1300.9,806.7L1300.1,805.4L1299.3,804.1L1298.5,802.7L1297.6,801.4L1296.8,800.1L1296.0,798.8L1295.2,797.5L1294.4,796.2L1293.6,794.9L1292.8,793.5L1292.0,792.2L1291.2,790.9L1290.4,789.6L1289.6,788.3L1288.9,786.9L1288.1,785.6L1287.3,784.3L1286.5,783.0L1285.7,781.6L1284.9,780.3L1284.1,779.0L1283.4,777.7L1282.6,776.3L1281.8,775.0L1281.0,773.7L1280.3,772.3L1279.5,771.0L1278.7,769.7L1278.0,768.3L1277.2,767.0L1276.4,765.7L1275.7,764.3L1274.9,763.0L1274.1,761.6L1273.4,760.3L1272.6,759.0L1271.9,757.6L1271.1,756.3L1270.4,754.9L1269.6,753.6L1268.9,752.2L1268.1,750.9L1267.4,749.5L1266.7,748.2L1265.9,746.8L1265.2,745.5L1264.4,744.1L1263.7,742.8L1263.0,741.4L1262.2,740.1L1261.5,738.7L1260.8,737.4L1260.0,736.0L1259.3,734.7L1258.6,733.3L1257.9,731.9L1257.2,730.6L1256.4,729.2L1255.7,727.9L1255.0,726.5L1254.3,725.1L1253.6,723.8L1252.9,722.4L1252.2,721.0L1251.5,719.7L1250.8,718.3L1250.1,716.9L1249.4,715.6L1248.7,714.2L1248.0,712.8L1247.3,711.4L1246.6,710.1L1245.9,708.7L1245.2,707.3L1244.5,705.9L1243.8,704.6L1243.1,703.2L1242.4,701.8L1241.8,700.4L1241.1,699.0L1240.4,697.7L1239.7,696.3L1239.0,694.9L1238.4,693.5L1237.7,692.1L1237.0,690.7L1236.4,689.3L1235.7,688.0L1235.0,686.6L1234.4,685.2L1233.7,683.8L1233.1,682.4L1232.4,681.0L1231.7,679.6L1231.1,678.2L1230.4,676.8L1229.8,675.4L1229.1,674.0L1228.5,672.6L1227.8,671.2L1227.2,669.8L1226.5,668.4L1225.9,667.0L1225.3,665.6L1224.6,664.2L1224.0,662.8L1223.3,661.4L1222.7,660.0L1222.1,658.6L1221.4,657.2L1220.8,655.8L1220.2,654.4L1219.5,653.0L1218.9,651.6L1218.3,650.2L1217.7,648.8L1217.0,647.4L1216.4,646.0L1215.8,644.6L1215.2,643.1L1214.6,641.7L1213.9,640.3L1213.3,638.9L1212.7,637.5L1212.1,636.1L1211.5,634.7L1210.9,633.2L1210.3,631.8L1209.7,630.4L1209.0,629.0L1208.4,627.6L1207.8,626.2L1207.2,624.7L1206.6,623.3L1206.0,621.9L1205.4,620.5L1204.8,619.1L1204.2,617.6L1203.6,616.2L1203.0,614.8L1202.4,613.4L1201.8,612.0L1201.2,610.5L1200.6,609.1L1200.0,607.7L1199.5,606.3L1198.9,604.8L1198.3,603.4L1197.7,602.0L1197.1,600.6L1196.5,599.1L1195.9,597.7L1195.3,596.3L1194.7,594.8L1194.2,593.4L1193.6,592.0L1193.0,590.6L1192.4,589.1L1191.8,587.7L1191.2,586.3L1190.7,584.8L1190.1,583.4L1189.5,582.0L1188.9,580.5L1188.3,579.1L1187.8,577.7L1187.2,576.2L1186.6,574.8L1186.0,573.4L1185.5,571.9L1184.9,570.5L1184.3,569.1L1183.7,567.6L1183.2,566.2L1182.6,564.8L1182.0,563.3L1181.4,561.9L1180.9,560.5L1180.3,559.0L1179.7,557.6L1179.2,556.2L1178.6,554.7L1178.0,553.3L1177.5,551.8L1176.9,550.4L1176.3,549.0L1175.8,547.5L1175.2,546.1L1174.6,544.7L1174.0,543.2L1173.5,541.8L1172.9,540.3L1172.3,538.9L1171.8,537.5L1171.2,536.0L1170.7,534.6L1170.1,533.2L1169.5,531.7L1169.0,530.3L1168.4,528.8L1167.8,527.4L1167.3,526.0L1166.7,524.5L1166.1,523.1L1165.6,521.7L1165.0,520.2L1164.4,518.8L1163.9,517.3L1163.3,515.9L1162.7,514.5L1162.2,513.0L1161.6,511.6L1161.1,510.1L1160.5,508.7L1159.9,507.3L1159.4,505.8L1158.8,504.4L1158.2,502.9L1157.7,501.5L1157.1,500.1L1156.5,498.6L1156.0,497.2L1155.4,495.8L1154.8,494.3L1154.3,492.9L1153.7,491.4L1153.1,490.0L1152.6,488.6L1152.0,487.1L1151.4,485.7L1150.9,484.3L1150.3,482.8L1149.7,481.4L1149.2,479.9L1148.6,478.5L1148.0,477.1L1147.5,475.6L1146.9,474.2L1146.3,472.8L1145.8,471.3L1145.2,469.9L1144.6,468.5L1144.1,467.0L1143.5,465.6L1142.9,464.2L1142.4,462.7L1141.8,461.3L1141.2,459.8L1140.7,458.4L1140.1,457.0L1139.5,455.5L1138.9,454.1L1138.4,452.7L1137.8,451.2L1137.2,449.8L1136.7,448.4L1136.1,446.9L1135.5,445.5L1135.0,444.1L1134.4,442.6L1133.8,441.2L1133.2,439.8L1132.7,438.3L1132.1,436.9L1131.5,435.5L1130.9,434.0L1130.4,432.6L1129.8,431.2L1129.2,429.7L1128.7,428.3L1128.1,426.9L1127.5,425.4L1126.9,424.0L1126.4,422.6L1125.8,421.1L1125.2,419.7L1124.6,418.3L1124.1,416.8L1123.5,415.4L1122.9,414.0L1122.3,412.5L1121.7,411.1L1121.2,409.7L1120.6,408.2L1120.0,406.8L1119.4,405.4L1118.9,403.9L1118.3,402.5L1117.7,401.1L1117.1,399.6L1116.5,398.2L1116.0,396.8L1115.4,395.4L1114.8,393.9L1114.2,392.5L1113.6,391.1L1113.1,389.6L1112.5,388.2L1111.9,386.8L1111.3,385.3L1110.7,383.9L1110.1,382.5L1109.6,381.0L1109.0,379.6L1108.4,378.2L1107.8,376.7L1107.2,375.3L1106.6,373.9L1106.1,372.5L1105.5,371.0L1104.9,369.6L1104.3,368.2L1103.7,366.7L1103.1,365.3L1102.5,363.9L1102.0,362.4L1101.4,361.0L1100.8,359.6L1100.2,358.1L1099.6,356.7L1099.0,355.3L1098.4,353.9L1097.8,352.4L1097.2,351.0L1096.7,349.6L1096.1,348.1L1095.5,346.7L1094.9,345.3L1094.3,343.8L1093.7,342.4L1093.1,341.0L1092.5,339.5L1091.9,338.1L1091.3,336.7L1090.7,335.3L1090.1,333.8L1089.5,332.4L1088.9,331.0L1088.3,329.5L1087.7,328.1L1087.2,326.7L1086.6,325.2L1086.0,323.8L1085.4,322.4L1084.8,321.0L1084.2,319.5L1083.6,318.1L1083.0,316.7L1082.4,315.2L1081.8,313.8L1081.2,312.4L1080.6,310.9L1080.0,309.5L1079.4,308.1L1078.8,306.7L1078.2,305.2L1077.5,303.8L1076.9,302.4L1076.3,300.9L1075.7,299.5L1075.1,298.1L1074.5,296.6L1073.9,295.2L1073.3,293.8L1072.7,292.3L1072.1,290.9L1071.5,289.5L1070.9,288.1L1070.3,286.6L1069.6,285.2L1069.0,283.8L1068.4,282.3L1067.8,280.9L1067.2,279.5L1066.5,278.0L1065.9,276.6L1065.3,275.2L1064.7,273.8L1064.0,272.3L1063.4,270.9L1062.8,269.5L1062.1,268.1L1061.5,266.7L1060.8,265.2L1060.2,263.8L1059.5,262.4L1058.9,261.0L1058.2,259.6L1057.6,258.2L1056.9,256.7L1056.3,255.3L1055.6,253.9L1054.9,252.5L1054.3,251.1L1053.6,249.7L1052.9,248.3L1052.2,246.9L1051.6,245.5L1050.9,244.1L1050.2,242.7L1049.5,241.3L1048.8,239.9L1048.1,238.5L1047.4,237.1L1046.7,235.7L1046.0,234.3L1045.3,233.0L1044.5,231.6L1043.8,230.2L1043.1,228.8L1042.4,227.5L1041.6,226.1L1040.9,224.7L1040.1,223.3L1039.4,222.0L1038.6,220.6L1037.9,219.2L1037.1,217.9L1036.3,216.5L1035.6,215.2L1034.8,213.8L1034.0,212.5L1033.2,211.1L1032.4,209.8L1031.6,208.5L1030.8,207.1L1030.0,205.8L1029.2,204.5L1028.4,203.1L1027.6,201.8L1026.7,200.5L1025.9,199.2L1025.1,197.8L1024.2,196.5L1023.4,195.2L1022.5,193.9L1021.6,192.6L1020.8,191.3L1019.9,190.0L1019.0,188.7L1018.1,187.4L1017.2,186.1L1016.3,184.8L1015.4,183.6L1014.4,182.3L1013.5,181.0L1012.5,179.8L1011.6,178.5L1010.6,177.3L1009.6,176.0L1008.6,174.8L1007.6,173.6L1006.6,172.4L1005.6,171.2L1004.6,170.0L1003.5,168.8L1002.5,167.6L1001.4,166.4L1000.3,165.3L999.2,164.1L998.1,163.0L996.9,161.8L995.8,160.7L994.6,159.6L993.4,158.5L992.3,157.5L991.1,156.4L989.8,155.3L988.6,154.3L987.4,153.3L986.1,152.3L984.8,151.2L983.5,150.3L982.2,149.3L980.9,148.3L979.6,147.4L978.2,146.4L976.9,145.5L975.5,144.6L974.1,143.7L972.8,142.9L971.3,142.0L969.9,141.2L968.5,140.3L967.1,139.5L965.6,138.7L964.1,138.0L962.7,137.2L961.2,136.5L959.6,135.8L958.1,135.1L956.6,134.5L955.0,133.9L953.5,133.3L951.9,132.7L950.3,132.2L948.7,131.8L947.1,131.3L945.5,130.9L943.9,130.6L942.3,130.3L940.6,130.1L939.0,129.9L937.3,129.7L935.6,129.7L934.0,129.6L932.3,129.7L930.6,129.8L929.0,129.9L927.3,130.1L925.7,130.4L924.1,130.7L922.5,131.1L920.8,131.5L919.2,131.9L917.7,132.4L916.1,132.9L914.5,133.5L913.0,134.1L911.4,134.7L909.9,135.4L908.4,136.1L906.9,136.8L905.5,137.6L904.0,138.4L902.6,139.2L901.2,140.1L899.8,141.0L898.4,141.9L897.0,142.8L895.7,143.8L894.4,144.8L893.1,145.8L891.8,146.9L890.5,147.9L889.3,149.0L888.1,150.1L886.9,151.2L885.7,152.3L884.5,153.5L883.4,154.6L882.2,155.8L881.1,156.9L880.0,158.1L878.9,159.3L877.9,160.5L876.8,161.7L875.8,162.9L874.7,164.2L873.7,165.4L872.7,166.6L871.7,167.9L870.8,169.1L869.8,170.4L868.9,171.7L867.9,172.9L867.0,174.2L866.1,175.5L865.2,176.8L864.2,178.1L863.4,179.4L862.5,180.7L861.6,182.0L860.7,183.3L859.9,184.6L859.0,185.9L858.2,187.2L857.4,188.6L856.5,189.9L855.7,191.2L854.9,192.6L854.1,193.9L853.3,195.3L852.5,196.6L851.7,198.0L850.9,199.3L850.2,200.7L849.4,202.0L848.6,203.4L847.9,204.7L847.1,206.1L846.4,207.5L845.6,208.9L844.9,210.2L844.2,211.6L843.4,213.0L842.7,214.4L842.0,215.7L841.3,217.1L840.6,218.5L839.9,219.9L839.2,221.3L838.5,222.7L837.8,224.1L837.1,225.5L836.4,226.9L835.7,228.3L835.0,229.7L834.3,231.1L833.6,232.5L833.0,233.9L832.3,235.3L831.6,236.7L831.0,238.1L830.3,239.5L829.6,240.9L829.0,242.3L828.3,243.7L827.6,245.1L827.0,246.5L826.3,247.9L825.6,249.3L825.0,250.7L824.3,252.1L823.7,253.5L823.0,254.9L822.3,256.3L821.7,257.7L821.0,259.1L820.4,260.5L819.7,261.9L819.0,263.3L818.4,264.7L817.7,266.1L817.1,267.5L816.4,268.9L815.8,270.3L815.1,271.7L814.4,273.1L813.8,274.5L813.1,275.9L812.5,277.3L811.8,278.7L811.2,280.1L810.5,281.5Z" fill="#0000ff" stroke="none"/>
<path d="M818.7,285.2L819.3,283.8L820.0,282.4L820.6,280.9L821.3,279.5L822.0,278.1L822.6,276.7L823.3,275.3L823.9,273.9L824.6,272.5L825.3,271.1L825.9,269.7L826.6,268.3L827.3,266.9L827.9,265.5L828.6,264.1L829.3,262.7L829.9,261.3L830.6,259.9L831.2,258.5L831.9,257.1L832.6,255.7L833.2,254.3L833.9,252.9L834.6,251.5L835.2,250.1L835.9,248.7L836.6,247.3L837.3,245.9L837.9,244.5L838.6,243.2L839.3,241.8L839.9,240.4L840.6,239.0L841.3,237.6L842.0,236.2L842.7,234.8L843.4,233.4L844.0,232.1L844.7,230.7L845.4,229.3L846.1,227.9L846.8,226.6L847.5,225.2L848.2,223.8L848.9,222.5L849.6,221.1L850.4,219.7L851.1,218.4L851.8,217.0L852.5,215.7L853.3,214.3L854.0,213.0L854.7,211.7L855.5,210.3L856.2,209.0L857.0,207.7L857.7,206.3L858.5,205.0L859.3,203.7L860.1,202.4L860.8,201.1L861.6,199.8L862.4,198.5L863.2,197.2L864.0,195.9L864.9,194.6L865.7,193.4L866.5,192.1L867.4,190.8L868.2,189.6L869.1,188.3L869.9,187.1L870.8,185.8L871.7,184.6L872.6,183.3L873.5,182.1L874.4,180.9L875.3,179.7L876.2,178.5L877.1,177.3L878.0,176.1L879.0,174.9L879.9,173.7L880.9,172.5L881.9,171.4L882.8,170.2L883.8,169.0L884.8,167.9L885.8,166.8L886.8,165.6L887.8,164.5L888.9,163.4L889.9,162.2L890.9,161.1L892.0,160.0L893.0,158.9L894.1,157.9L895.2,156.8L896.2,155.7L897.3,154.7L898.4,153.6L899.5,152.6L900.6,151.6L901.7,150.6L902.8,149.6L903.9,148.7L905.1,147.7L906.2,146.8L907.4,145.9L908.6,145.0L909.8,144.2L911.0,143.3L912.2,142.5L913.4,141.7L914.6,140.9L915.9,140.2L917.2,139.4L918.5,138.7L919.8,138.1L921.1,137.5L922.4,136.9L923.7,136.3L925.1,135.8L926.4,135.3L927.8,134.9L929.1,134.5L930.5,134.1L931.9,133.8L933.2,133.5L934.6,133.3L936.0,133.1L937.4,132.9L938.7,132.8L940.1,132.8L941.5,132.7L942.8,132.8L944.2,132.9L945.5,133.0L946.9,133.2L948.3,133.4L949.6,133.6L951.0,133.9L952.3,134.3L953.7,134.7L955.1,135.1L956.4,135.6L957.7,136.1L959.1,136.6L960.4,137.2L961.7,137.8L963.1,138.4L964.4,139.1L965.7,139.8L967.0,140.5L968.3,141.3L969.5,142.1L970.8,142.9L972.1,143.7L973.3,144.5L974.6,145.4L975.8,146.2L977.0,147.1L978.3,148.0L979.5,149.0L980.6,149.9L981.8,150.8L983.0,151.8L984.2,152.7L985.3,153.7L986.4,154.7L987.6,155.7L988.7,156.7L989.8,157.7L990.9,158.7L992.0,159.7L993.0,160.8L994.1,161.8L995.1,162.9L996.2,164.0L997.2,165.0L998.3,166.1L999.3,167.2L1000.3,168.3L1001.3,169.4L1002.4,170.5L1003.4,171.7L1004.3,172.8L1005.3,173.9L1006.3,175.1L1007.3,176.2L1008.2,177.4L1009.2,178.6L1010.1,179.8L1011.1,181.0L1012.0,182.2L1012.9,183.4L1013.9,184.6L1014.8,185.8L1015.7,187.0L1016.5,188.3L1017.4,189.5L1018.3,190.8L1019.2,192.1L1020.0,193.3L1020.9,194.6L1021.7,195.9L1022.6,197.2L1023.4,198.5L1024.2,199.8L1025.1,201.1L1025.9,202.4L1026.7,203.7L1027.5,205.0L1028.3,206.3L1029.1,207.6L1029.9,209.0L1030.7,210.3L1031.4,211.6L1032.2,212.9L1033.0,214.3L1033.8,215.6L1034.5,216.9L1035.3,218.3L1036.1,219.6L1036.8,221.0L1037.6,222.3L1038.3,223.7L1039.0,225.0L1039.8,226.4L1040.5,227.7L1041.2,229.1L1042.0,230.4L1042.7,231.8L1043.4,233.2L1044.1,234.5L1044.8,235.9L1045.6,237.3L1046.3,238.6L1047.0,240.0L1047.7,241.4L1048.4,242.7L1049.1,244.1L1049.7,245.5L1050.4,246.9L1051.1,248.3L1051.8,249.6L1052.5,251.0L1053.2,252.4L1053.8,253.8L1054.5,255.2L1055.2,256.6L1055.8,258.0L1056.5,259.3L1057.2,260.7L1057.8,262.1L1058.5,263.5L1059.1,264.9L1059.8,266.3L1060.4,267.7L1061.1,269.1L1061.7,270.5L1062.4,271.9L1063.0,273.3L1063.6,274.7L1064.3,276.1L1064.9,277.5L1065.6,278.9L1066.2,280.3L1066.8,281.8L1067.5,283.2L1068.1,284.6L1068.7,286.0L1069.3,287.4L1070.0,288.8L1070.6,290.2L1071.2,291.6L1071.8,293.0L1072.5,294.5L1073.1,295.9L1073.7,297.3L1074.3,298.7L1074.9,300.1L1075.5,301.6L1076.2,303.0L1076.8,304.4L1077.4,305.8L1078.0,307.2L1078.6,308.7L1079.2,310.1L1079.8,311.5L1080.5,312.9L1081.1,314.3L1081.7,315.8L1082.3,317.2L1082.9,318.6L1083.5,320.0L1084.1,321.4L1084.7,322.9L1085.3,324.3L1085.9,325.7L1086.5,327.1L1087.1,328.6L1087.7,330.0L1088.3,331.4L1089.0,332.8L1089.6,334.3L1090.2,335.7L1090.8,337.1L1091.4,338.5L1092.0,340.0L1092.6,341.4L1093.2,342.8L1093.8,344.3L1094.4,345.7L1095.0,347.1L1095.6,348.5L1096.2,350.0L1096.8,351.4L1097.3,352.8L1097.9,354.3L1098.5,355.7L1099.1,357.1L1099.7,358.5L1100.3,360.0L1100.9,361.4L1101.5,362.8L1102.1,364.3L1102.7,365.7L1103.3,367.1L1103.9,368.6L1104.5,370.0L1105.1,371.4L1105.7,372.9L1106.2,374.3L1106.8,375.7L1107.4,377.1L1108.0,378.6L1108.6,380.0L1109.2,381.4L1109.8,382.9L1110.4,384.3L1110.9,385.7L1111.5,387.2L1112.1,388.6L1112.7,390.1L1113.3,391.5L1113.9,392.9L1114.5,394.4L1115.0,395.8L1115.6,397.2L1116.2,398.7L1116.8,400.1L1117.4,401.5L1118.0,403.0L1118.5,404.4L1119.1,405.8L1119.7,407.3L1120.3,408.7L1120.9,410.2L1121.4,411.6L1122.0,413.0L1122.6,414.5L1123.2,415.9L1123.8,417.3L1124.3,418.8L1124.9,420.2L1125.5,421.7L1126.1,423.1L1126.6,424.5L1127.2,426.0L1127.8,427.4L1128.4,428.8L1128.9,430.3L1129.5,431.7L1130.1,433.2L1130.7,434.6L1131.2,436.0L1131.8,437.5L1132.4,438.9L1133.0,440.4L1133.5,441.8L1134.1,443.2L1134.7,444.7L1135.3,446.1L1135.8,447.6L1136.4,449.0L1137.0,450.4L1137.5,451.9L1138.1,453.3L1138.7,454.8L1139.3,456.2L1139.8,457.7L1140.4,459.1L1141.0,460.5L1141.5,462.0L1142.1,463.4L1142.7,464.9L1143.3,466.3L1143.8,467.7L1144.4,469.2L1145.0,470.6L1145.5,472.1L1146.1,473.5L1146.7,475.0L1147.2,476.4L1147.8,477.8L1148.4,479.3L1148.9,480.7L1149.5,482.2L1150.1,483.6L1150.6,485.1L1151.2,486.5L1151.8,488.0L1152.3,489.4L1152.9,490.8L1153.5,492.3L1154.0,493.7L1154.6,495.2L1155.2,496.6L1155.7,498.1L1156.3,499.5L1156.9,500.9L1157.4,502.4L1158.0,503.8L1158.6,505.3L1159.1,506.7L1159.7,508.2L1160.3,509.6L1160.8,511.1L1161.4,512.5L1162.0,514.0L1162.5,515.4L1163.1,516.8L1163.6,518.3L1164.2,519.7L1164.8,521.2L1165.3,522.6L1165.9,524.1L1166.5,525.5L1167.0,527.0L1167.6,528.4L1168.2,529.8L1168.7,531.3L1169.3,532.7L1169.9,534.2L1170.4,535.6L1171.0,537.1L1171.6,538.5L1172.1,540.0L1172.7,541.4L1173.3,542.9L1173.8,544.3L1174.4,545.7L1175.0,547.2L1175.5,548.6L1176.1,550.1L1176.7,551.5L1177.2,553.0L1177.8,554.4L1178.4,555.9L1179.0,557.3L1179.5,558.7L1180.1,560.2L1180.7,561.6L1181.2,563.1L1181.8,564.5L1182.4,566.0L1183.0,567.4L1183.5,568.8L1184.1,570.3L1184.7,571.7L1185.3,573.2L1185.8,574.6L1186.4,576.1L1187.0,577.5L1187.6,578.9L1188.1,580.4L1188.7,581.8L1189.3,583.3L1189.9,584.7L1190.5,586.1L1191.0,587.6L1191.6,589.0L1192.2,590.5L1192.8,591.9L1193.4,593.3L1194.0,594.8L1194.6,596.2L1195.1,597.6L1195.7,599.1L1196.3,600.5L1196.9,602.0L1197.5,603.4L1198.1,604.8L1198.7,606.3L1199.3,607.7L1199.9,609.1L1200.5,610.6L1201.1,612.0L1201.6,613.4L1202.2,614.9L1202.8,616.3L1203.4,617.7L1204.0,619.2L1204.6,620.6L1205.2,622.0L1205.8,623.5L1206.4,624.9L1207.1,626.3L1207.7,627.8L1208.3,629.2L1208.9,630.6L1209.5,632.0L1210.1,633.5L1210.7,634.9L1211.3,636.3L1211.9,637.8L1212.5,639.2L1213.2,640.6L1213.8,642.0L1214.4,643.5L1215.0,644.9L1215.6,646.3L1216.3,647.7L1216.9,649.2L1217.5,650.6L1218.1,652.0L1218.8,653.4L1219.4,654.8L1220.0,656.3L1220.6,657.7L1221.3,659.1L1221.9,660.5L1222.5,661.9L1223.2,663.4L1223.8,664.8L1224.5,666.2L1225.1,667.6L1225.7,669.0L1226.4,670.4L1227.0,671.9L1227.7,673.3L1228.3,674.7L1229.0,676.1L1229.6,677.5L1230.3,678.9L1230.9,680.3L1231.6,681.7L1232.2,683.2L1232.9,684.6L1233.6,686.0L1234.2,687.4L1234.9,688.8L1235.5,690.2L1236.2,691.6L1236.9,693.0L1237.5,694.4L1238.2,695.8L1238.9,697.2L1239.6,698.6L1240.2,700.0L1240.9,701.4L1241.6,702.8L1242.3,704.2L1243.0,705.6L1243.6,707.0L1244.3,708.4L1245.0,709.8L1245.7,711.2L1246.4,712.6L1247.1,714.0L1247.8,715.4L1248.5,716.8L1249.2,718.2L1249.9,719.6L1250.6,720.9L1251.3,722.3L1252.0,723.7L1252.7,725.1L1253.4,726.5L1254.1,727.9L1254.8,729.3L1255.6,730.7L1256.3,732.0L1257.0,733.4L1257.7,734.8L1258.4,736.2L1259.2,737.6L1259.9,738.9L1260.6,740.3L1261.3,741.7L1262.1,743.1L1262.8,744.4L1263.5,745.8L1264.3,747.2L1265.0,748.6L1265.8,749.9L1266.5,751.3L1267.2,752.7L1268.0,754.0L1268.7,755.4L1269.5,756.8L1270.2,758.1L1271.0,759.5L1271.8,760.9L1272.5,762.2L1273.3,763.6L1274.0,764.9L1274.8,766.3L1275.6,767.7L1276.3,769.0L1277.1,770.4L1277.9,771.7L1278.6,773.1L1279.4,774.4L1280.2,775.8L1281.0,777.1L1281.8,778.5L1282.5,779.8L1283.3,781.2L1284.1,782.5L1284.9,783.9L1285.7,785.2L1286.5,786.6L1287.3,787.9L1288.1,789.2L1288.9,790.6L1289.7,791.9L1290.5,793.2L1291.3,794.6L1292.1,795.9L1292.9,797.2L1293.7,798.6L1294.5,799.9L1295.3,801.2L1296.2,802.6L1297.0,803.9L1297.8,805.2L1298.6,806.5L1299.4,807.9L1300.3,809.2L1301.1,810.5L1301.9,811.8L1302.8,813.1L1303.6,814.5L1304.4,815.8L1305.3,817.1L1306.1,818.4L1307.0,819.7L1307.8,821.0L1308.6,822.3L1309.5,823.6L1310.4,824.9L1311.2,826.3L1312.1,827.6L1312.9,828.9L1313.8,830.2L1314.6,831.5L1315.5,832.8L1316.4,834.1L1317.2,835.3L1318.1,836.6L1319.0,837.9L1319.9,839.2L1320.7,840.5L1321.6,841.8L1322.5,843.1L1323.4,844.4L1324.3,845.7L1325.2,846.9L1326.1,848.2L1326.9,849.5L1327.8,850.8L1328.7,852.1L1329.6,853.3L1330.5,854.6L1331.4,855.9L1332.4,857.1L1333.3,858.4L1334.2,859.7L1335.1,861.0L1336.0,862.2L1336.9,863.5L1337.8,864.8L1338.8,866.0L1339.7,867.3L1340.6,868.5L1341.6,869.8L1342.5,871.0L1343.5,872.3L1344.4,873.5L1345.4,874.8L1346.3,876.0L1347.3,877.2L1348.3,878.5L1349.3,879.7L1350.2,880.9L1351.2,882.2L1352.2,883.4L1353.2,884.6L1354.2,885.8L1355.2,887.0L1356.3,888.2L1357.3,889.4L1358.3,890.5L1359.3,891.7L1360.4,892.9L1361.4,894.1L1362.4,895.2L1363.5,896.4L1364.5,897.6L1365.6,898.7L1366.6,899.9L1367.7,901.0L1368.7,902.2L1369.8,903.3L1370.9,904.5L1371.9,905.6L1373.0,906.7L1374.1,907.9L1375.1,909.0L1376.2,910.1L1377.3,911.3L1378.4,912.4L1379.5,913.5L1380.5,914.7L1381.6,915.8L1382.7,916.9L1383.8,918.0L1384.9,919.1L1386.0,920.3L1387.1,921.4L1388.2,922.5L1389.4,923.6L1390.5,924.7L1391.6,925.8L1392.7,926.9L1393.8,928.0L1395.0,929.1L1396.1,930.2L1397.2,931.3L1398.3,932.4L1399.5,933.4L1400.6,934.5L1401.8,935.6L1402.9,936.7L1404.1,937.8L1405.2,938.8L1406.4,939.9L1407.5,940.9L1408.7,942.0L1409.9,943.1L1411.0,944.1L1412.2,945.2L1413.4,946.2L1414.6,947.3L1415.8,948.3L1416.9,949.3L1418.1,950.4L1419.3,951.4L1420.5,952.4L1421.7,953.4L1422.9,954.4L1424.1,955.5L1425.3,956.5L1426.5,957.5L1427.8,958.5L1429.0,959.5L1430.2,960.5L1431.4,961.4L1432.7,962.4L1433.9,963.4L1435.1,964.4L1436.4,965.3L1437.6,966.3L1438.8,967.3L1440.1,968.2L1441.3,969.2L1442.6,970.1L1443.9,971.1L1445.1,972.0L1446.4,972.9L1447.7,973.9L1448.9,974.8L1450.2,975.7L1451.5,976.6L1452.8,977.5L1454.1,978.4L1455.4,979.3L1456.7,980.2L1458.0,981.1L1459.3,982.0L1460.6,982.8L1461.9,983.7L1463.2,984.6L1464.5,985.4L1465.8,986.3L1467.1,987.1L1468.5,988.0L1469.8,988.8L1471.1,989.6L1472.5,990.4L1473.8,991.3L1475.2,992.1L1476.5,992.9L1477.9,993.7L1479.2,994.5L1480.6,995.3L1482.0,996.0L1483.3,996.8L1484.7,997.6L1486.1,998.3L1487.4,999.1L1488.8,999.9L1490.2,1000.6L1491.6,1001.3L1493.0,1002.1L1494.4,1002.8L1495.7,1003.5L1497.1,1004.2L1498.5,1005.0L1499.9,1005.7L1501.3,1006.4L1502.8,1007.1L1504.2,1007.8L1505.6,1008.4L1507.0,1009.1L1508.4,1009.8L1509.8,1010.5L1511.3,1011.1L1512.7,1011.8L1514.1,1012.4L1515.5,1013.1L1517.0,1013.7L1518.4,1014.4L1519.8,1015.0L1521.3,1015.6L1522.7,1016.3L1524.2,1016.9L1525.6,1017.5L1527.0,1018.1L1528.5,1018.7L1530.0,1019.3L1531.4,1019.9L1532.9,1020.5L1534.3,1021.1L1535.8,1021.7L1537.2,1022.3L1538.7,1022.8L1540.2,1023.4L1541.6,1024.0L1543.1,1024.5L1544.6,1025.1L1546.0,1025.6L1547.5,1026.2L1549.0,1026.7L1550.5,1027.3L1551.9,1027.8L1553.4,1028.3L1554.9,1028.8L1556.4,1029.4L1557.9,1029.9L1559.4,1030.4L1560.8,1030.9L1562.3,1031.4L1563.8,1031.9L1565.3,1032.4L1566.8,1032.9L1568.3,1033.4L1569.8,1033.9L1571.3,1034.4L1572.8,1034.8L1574.3,1035.3L1575.8,1035.8L1577.3,1036.3L1578.8,1036.7L1580.3,1037.2L1581.8,1037.6L1583.3,1038.1L1584.8,1038.5L1586.3,1039.0L1587.8,1039.4L1589.3,1039.9L1590.8,1040.3L1592.3,1040.7L1593.8,1041.2L1595.3,1041.6L1596.9,1042.0L1598.4,1042.4L1599.9,1042.8L1601.4,1043.3L1602.9,1043.7L1604.4,1044.1L1605.9,1044.5L1607.4,1044.9L1609.0,1045.3L1610.5,1045.7L1612.0,1046.1L1613.5,1046.4L1615.0,1046.8L1616.5,1047.2L1618.0,1047.6L1619.6,1048.0L1621.1,1048.3L1622.6,1048.7L1624.1,1049.1L1625.6,1049.4L1627.2,1049.8L1628.7,1050.2L1630.2,1050.5L1631.7,1050.9L1633.2,1051.2L1634.8,1051.6L1636.3,1051.9L1637.8,1052.3L1639.3,1052.6L1640.9,1052.9L1642.4,1053.3L1643.9,1053.6L1645.4,1053.9L1647.0,1054.3L1648.5,1054.6L1650.0,1054.9L1651.5,1055.2L1653.1,1055.5L1654.6,1055.8L1656.1,1056.2L1657.6,1056.5L1659.2,1056.8L1660.7,1057.1L1662.2,1057.4L1663.8,1057.7L1665.3,1058.0L1666.8,1058.3L1668.4,1058.5L1669.9,1058.8L1671.4,1059.1L1672.9,1059.4L1674.5,1059.7L1676.0,1060.0L1677.5,1060.2L1679.1,1060.5L1680.6,1060.8L1682.1,1061.1L1683.7,1061.3L1685.2,1061.6L1686.7,1061.9L1688.3,1062.1L1689.8,1062.4L1691.4,1062.6L1692.9,1062.9L1694.4,1063.2L1696.0,1063.4L1697.5,1063.7L1699.0,1063.9L1700.6,1064.1L1702.1,1064.4L1703.6,1064.6L1705.2,1064.9L1706.7,1065.1L1708.3,1065.3L1709.8,1065.6L1711.3,1065.8L1712.9,1066.0L1714.4,1066.3L1715.9,1066.5L1717.5,1066.7L1719.0,1066.9L1720.6,1067.2L1722.1,1067.4L1723.6,1067.6L1725.2,1067.8L1726.7,1068.0L1728.3,1068.3L1729.8,1068.5L1731.3,1068.7L1732.9,1068.9L1734.4,1069.1L1736.0,1069.3L1737.5,1069.5L1739.0,1069.7L1740.6,1069.9L1742.1,1070.1L1743.7,1070.3L1745.2,1070.5L1746.8,1070.7L1748.3,1070.9L1749.8,1071.1L1751.4,1071.3L1752.9,1071.4L1754.5,1071.6L1756.0,1071.8L1757.6,1072.0L1759.1,1072.2L1760.6,1072.4L1762.2,1072.5L1763.7,1072.7L1765.3,1072.9L1766.8,1073.1L1768.4,1073.2L1769.9,1073.4L1771.5,1073.6L1773.0,1073.8L1774.5,1073.9L1776.1,1074.1L1777.6,1074.3L1779.2,1074.4L1780.7,1074.6L1782.3,1074.7L1783.8,1074.9L1785.4,1075.1L1786.9,1075.2L1788.5,1075.4L1790.0,1075.5L1791.6,1075.7L1793.1,1075.8L1794.6,1076.0L1796.2,1076.1L1797.7,1076.3L1799.3,1076.4L1800.8,1076.6L1802.4,1076.7L1803.9,1076.8L1805.5,1077.0L1807.0,1077.1L1808.6,1077.3L1810.1,1077.4L1811.7,1077.5L1813.2,1077.7L1814.8,1077.8L1816.3,1077.9L1817.9,1078.1L1819.4,1078.2L1821.0,1078.3L1822.5,1078.4L1824.1,1078.6L1825.6,1078.7L1827.2,1078.8L1828.7,1078.9L1830.3,1079.1L1831.8,1079.2L1833.4,1079.3L1834.9,1079.4L1836.5,1079.5L1838.0,1079.7L1839.6,1079.8L1841.1,1079.9L1842.7,1080.0L1844.2,1080.1L1845.8,1080.2L1847.3,1080.3L1848.9,1080.4L1850.4,1080.5L1852.0,1080.6L1853.5,1080.7L1855.1,1080.8L1856.6,1081.0L1858.2,1081.1L1859.7,1081.2L1861.3,1081.3L1862.8,1081.3L1864.4,1081.4L1865.9,1081.5L1867.5,1081.6L1869.0,1081.7L1870.6,1081.8L1872.1,1081.9L1873.7,1082.0L1875.2,1082.1L1876.8,1082.2L1878.3,1082.3L1879.9,1082.4L1881.4,1082.5L1883.0,1082.5L1884.5,1082.6L1886.1,1082.7L1887.6,1082.8L1889.2,1082.9L1890.8,1083.0L1892.3,1083.0L1893.9,1083.1L1895.4,1083.2L1897.0,1083.3L1898.5,1083.3L1900.1,1083.4L1901.6,1083.5L1903.2,1083.6L1904.7,1083.6L1906.3,1083.7L1907.8,1083.8L1909.4,1083.9L1910.9,1083.9L1912.5,1084.0L1914.0,1084.1L1915.6,1084.1L1917.1,1084.2L1918.7,1084.3L1920.3,1084.3L1921.8,1084.4L1923.4,1084.5L1924.9,1084.5L1926.5,1084.6L1928.0,1084.7L1929.6,1084.7L1931.1,1084.8L1932.7,1084.8L1934.2,1084.9L1935.8,1085.0L1937.3,1085.0L1938.9,1085.1L1940.4,1085.1L1942.0,1085.2L1943.5,1085.2L1945.1,1085.3L1946.6,1085.4L1948.2,1085.4L1949.8,1085.5L1951.3,1085.5L1952.9,1085.6L1954.4,1085.6L1956.0,1085.7L1957.5,1085.7L1959.1,1085.8L1960.6,1085.8L1962.2,1085.9L1963.7,1085.9L1965.3,1086.0L1966.8,1086.0L1968.4,1086.1L1969.9,1086.1L1971.5,1086.2L1973.0,1086.2L1974.6,1086.2L1976.1,1086.3L1977.7,1086.3L1979.2,1086.4L1980.8,1086.4L1982.4,1086.5L1983.9,1086.5L1985.5,1086.5L1987.0,1086.6L1988.6,1086.6L1990.1,1086.7L1991.7,1086.7L1993.2,1086.7L1994.8,1086.8L1996.3,1086.8L1997.9,1086.9L1999.4,1086.9L2001.0,1086.9L2002.5,1087.0L2004.1,1087.0L2005.6,1087.0L2007.2,1087.1L2008.7,1087.1L2010.3,1087.2L2011.8,1087.2L2013.4,1087.2L2014.9,1087.3L2016.5,1087.3L2018.0,1087.3L2019.6,1087.4L2021.1,1087.4L2022.7,1087.4L2024.2,1087.5L2025.8,1087.5L2027.3,1087.5L2028.9,1087.6L2030.4,1087.6L2032.0,1087.6L2033.5,1087.7L2035.1,1087.7L2036.6,1087.7L2038.2,1087.8L2039.7,1087.8L2041.3,1087.8L2042.8,1087.8L2044.4,1087.9L2045.9,1087.9L2047.5,1087.9L2049.0,1088.0L2050.6,1088.0L2052.1,1088.0L2053.7,1088.1L2055.2,1088.1L2056.8,1088.1L2058.3,1088.1L2059.9,1088.2L2061.4,1088.2L2063.0,1088.2L2064.5,1088.3L2066.1,1088.3L2067.6,1088.3L2069.2,1088.3L2070.7,1088.4L2072.3,1088.4L2073.8,1088.4L2075.4,1088.5L2076.9,1088.5L2077.1,1079.7L2075.5,1079.6L2074.0,1079.6L2072.4,1079.6L2070.9,1079.6L2069.3,1079.5L2067.8,1079.5L2066.2,1079.5L2064.7,1079.4L2063.1,1079.4L2061.6,1079.4L2060.0,1079.4L2058.5,1079.3L2056.9,1079.3L2055.4,1079.3L2053.9,1079.2L2052.3,1079.2L2050.8,1079.2L2049.2,1079.1L2047.7,1079.1L2046.1,1079.1L2044.6,1079.1L2043.0,1079.0L2041.5,1079.0L2039.9,1079.0L2038.4,1078.9L2036.8,1078.9L2035.3,1078.9L2033.7,1078.8L2032.2,1078.8L2030.6,1078.8L2029.1,1078.7L2027.5,1078.7L2026.0,1078.7L2024.4,1078.6L2022.9,1078.6L2021.3,1078.6L2019.8,1078.5L2018.2,1078.5L2016.7,1078.5L2015.1,1078.4L2013.6,1078.4L2012.0,1078.4L2010.5,1078.3L2008.9,1078.3L2007.4,1078.3L2005.8,1078.2L2004.3,1078.2L2002.7,1078.2L2001.2,1078.1L1999.6,1078.1L1998.1,1078.0L1996.5,1078.0L1995.0,1078.0L1993.4,1077.9L1991.9,1077.9L1990.3,1077.8L1988.8,1077.8L1987.2,1077.8L1985.7,1077.7L1984.1,1077.7L1982.6,1077.6L1981.0,1077.6L1979.5,1077.6L1977.9,1077.5L1976.4,1077.5L1974.8,1077.4L1973.3,1077.4L1971.7,1077.3L1970.2,1077.3L1968.6,1077.2L1967.1,1077.2L1965.5,1077.1L1964.0,1077.1L1962.4,1077.0L1960.9,1077.0L1959.4,1077.0L1957.8,1076.9L1956.3,1076.9L1954.7,1076.8L1953.2,1076.7L1951.6,1076.7L1950.1,1076.6L1948.5,1076.6L1947.0,1076.5L1945.4,1076.5L1943.9,1076.4L1942.3,1076.4L1940.8,1076.3L1939.2,1076.3L1937.7,1076.2L1936.1,1076.1L1934.6,1076.1L1933.0,1076.0L1931.5,1076.0L1929.9,1075.9L1928.4,1075.8L1926.8,1075.8L1925.3,1075.7L1923.7,1075.7L1922.2,1075.6L1920.6,1075.5L1919.1,1075.5L1917.5,1075.4L1916.0,1075.3L1914.4,1075.3L1912.9,1075.2L1911.3,1075.1L1909.8,1075.0L1908.2,1075.0L1906.7,1074.9L1905.1,1074.8L1903.6,1074.8L1902.0,1074.7L1900.5,1074.6L1898.9,1074.5L1897.4,1074.5L1895.9,1074.4L1894.3,1074.3L1892.8,1074.2L1891.2,1074.1L1889.7,1074.1L1888.1,1074.0L1886.6,1073.9L1885.0,1073.8L1883.5,1073.7L1881.9,1073.6L1880.4,1073.5L1878.8,1073.5L1877.3,1073.4L1875.7,1073.3L1874.2,1073.2L1872.7,1073.1L1871.1,1073.0L1869.6,1072.9L1868.0,1072.8L1866.5,1072.7L1864.9,1072.6L1863.4,1072.5L1861.8,1072.4L1860.3,1072.3L1858.7,1072.2L1857.2,1072.1L1855.7,1072.0L1854.1,1071.9L1852.6,1071.8L1851.0,1071.7L1849.5,1071.6L1847.9,1071.5L1846.4,1071.4L1844.8,1071.3L1843.3,1071.2L1841.8,1071.1L1840.2,1071.0L1838.7,1070.8L1837.1,1070.7L1835.6,1070.6L1834.0,1070.5L1832.5,1070.4L1830.9,1070.3L1829.4,1070.1L1827.9,1070.0L1826.3,1069.9L1824.8,1069.8L1823.2,1069.6L1821.7,1069.5L1820.1,1069.4L1818.6,1069.3L1817.1,1069.1L1815.5,1069.0L1814.0,1068.9L1812.4,1068.7L1810.9,1068.6L1809.4,1068.5L1807.8,1068.3L1806.3,1068.2L1804.7,1068.0L1803.2,1067.9L1801.7,1067.8L1800.1,1067.6L1798.6,1067.5L1797.0,1067.3L1795.5,1067.2L1794.0,1067.0L1792.4,1066.9L1790.9,1066.7L1789.3,1066.6L1787.8,1066.4L1786.3,1066.3L1784.7,1066.1L1783.2,1065.9L1781.7,1065.8L1780.1,1065.6L1778.6,1065.5L1777.0,1065.3L1775.5,1065.1L1774.0,1065.0L1772.4,1064.8L1770.9,1064.6L1769.4,1064.4L1767.8,1064.3L1766.3,1064.1L1764.7,1063.9L1763.2,1063.7L1761.7,1063.6L1760.1,1063.4L1758.6,1063.2L1757.1,1063.0L1755.5,1062.8L1754.0,1062.7L1752.5,1062.5L1750.9,1062.3L1749.4,1062.1L1747.9,1061.9L1746.3,1061.7L1744.8,1061.5L1743.3,1061.3L1741.7,1061.1L1740.2,1060.9L1738.7,1060.7L1737.1,1060.5L1735.6,1060.3L1734.1,1060.1L1732.5,1059.9L1731.0,1059.7L1729.5,1059.5L1727.9,1059.2L1726.4,1059.0L1724.9,1058.8L1723.4,1058.6L1721.8,1058.4L1720.3,1058.2L1718.8,1057.9L1717.2,1057.7L1715.7,1057.5L1714.2,1057.3L1712.7,1057.0L1711.1,1056.8L1709.6,1056.6L1708.1,1056.3L1706.5,1056.1L1705.0,1055.8L1703.5,1055.6L1702.0,1055.4L1700.4,1055.1L1698.9,1054.9L1697.4,1054.6L1695.9,1054.4L1694.3,1054.1L1692.8,1053.9L1691.3,1053.6L1689.8,1053.3L1688.3,1053.1L1686.7,1052.8L1685.2,1052.6L1683.7,1052.3L1682.2,1052.0L1680.6,1051.7L1679.1,1051.5L1677.6,1051.2L1676.1,1050.9L1674.6,1050.6L1673.1,1050.3L1671.5,1050.1L1670.0,1049.8L1668.5,1049.5L1667.0,1049.2L1665.5,1048.9L1664.0,1048.6L1662.4,1048.3L1660.9,1048.0L1659.4,1047.7L1657.9,1047.4L1656.4,1047.1L1654.9,1046.8L1653.4,1046.4L1651.8,1046.1L1650.3,1045.8L1648.8,1045.5L1647.3,1045.2L1645.8,1044.8L1644.3,1044.5L1642.8,1044.2L1641.3,1043.8L1639.8,1043.5L1638.3,1043.2L1636.8,1042.8L1635.3,1042.5L1633.8,1042.1L1632.2,1041.8L1630.7,1041.4L1629.2,1041.1L1627.7,1040.7L1626.2,1040.3L1624.7,1040.0L1623.2,1039.6L1621.7,1039.2L1620.2,1038.8L1618.7,1038.5L1617.2,1038.1L1615.7,1037.7L1614.2,1037.3L1612.7,1036.9L1611.2,1036.5L1609.8,1036.1L1608.3,1035.7L1606.8,1035.3L1605.3,1034.9L1603.8,1034.5L1602.3,1034.1L1600.8,1033.7L1599.3,1033.3L1597.8,1032.8L1596.3,1032.4L1594.8,1032.0L1593.4,1031.6L1591.9,1031.1L1590.4,1030.7L1588.9,1030.2L1587.4,1029.8L1585.9,1029.4L1584.4,1028.9L1583.0,1028.4L1581.5,1028.0L1580.0,1027.5L1578.5,1027.1L1577.1,1026.6L1575.6,1026.1L1574.1,1025.6L1572.6,1025.1L1571.2,1024.7L1569.7,1024.2L1568.2,1023.7L1566.8,1023.2L1565.3,1022.7L1563.9,1022.2L1562.4,1021.7L1560.9,1021.1L1559.5,1020.6L1558.0,1020.1L1556.6,1019.6L1555.1,1019.0L1553.7,1018.5L1552.2,1018.0L1550.8,1017.4L1549.3,1016.9L1547.9,1016.3L1546.5,1015.8L1545.0,1015.2L1543.6,1014.6L1542.2,1014.1L1540.7,1013.5L1539.3,1012.9L1537.9,1012.3L1536.4,1011.8L1535.0,1011.2L1533.6,1010.6L1532.2,1010.0L1530.8,1009.4L1529.4,1008.7L1528.0,1008.1L1526.6,1007.5L1525.1,1006.9L1523.7,1006.2L1522.3,1005.6L1521.0,1005.0L1519.6,1004.3L1518.2,1003.7L1516.8,1003.0L1515.4,1002.4L1514.0,1001.7L1512.6,1001.0L1511.3,1000.3L1509.9,999.7L1508.5,999.0L1507.2,998.3L1505.8,997.6L1504.4,996.9L1503.1,996.2L1501.7,995.4L1500.4,994.7L1499.0,994.0L1497.7,993.3L1496.3,992.5L1495.0,991.8L1493.7,991.1L1492.3,990.3L1491.0,989.5L1489.7,988.8L1488.4,988.0L1487.1,987.2L1485.8,986.5L1484.4,985.7L1483.1,984.9L1481.8,984.1L1480.5,983.3L1479.3,982.5L1478.0,981.6L1476.7,980.8L1475.4,980.0L1474.1,979.2L1472.8,978.3L1471.6,977.5L1470.3,976.6L1469.0,975.8L1467.8,974.9L1466.5,974.1L1465.2,973.2L1464.0,972.3L1462.7,971.4L1461.5,970.6L1460.2,969.7L1459.0,968.8L1457.8,967.9L1456.5,967.0L1455.3,966.1L1454.1,965.2L1452.8,964.2L1451.6,963.3L1450.4,962.4L1449.2,961.5L1448.0,960.5L1446.7,959.6L1445.5,958.6L1444.3,957.7L1443.1,956.7L1441.9,955.8L1440.7,954.8L1439.5,953.9L1438.3,952.9L1437.1,951.9L1436.0,950.9L1434.8,950.0L1433.6,949.0L1432.4,948.0L1431.2,947.0L1430.1,946.0L1428.9,945.0L1427.7,944.0L1426.6,943.0L1425.4,942.0L1424.3,941.0L1423.1,939.9L1421.9,938.9L1420.8,937.9L1419.6,936.9L1418.5,935.8L1417.4,934.8L1416.2,933.8L1415.1,932.7L1413.9,931.7L1412.8,930.6L1411.7,929.6L1410.6,928.5L1409.4,927.5L1408.3,926.4L1407.2,925.3L1406.1,924.3L1405.0,923.2L1403.9,922.1L1402.8,921.1L1401.6,920.0L1400.5,918.9L1399.4,917.8L1398.3,916.7L1397.2,915.6L1396.2,914.6L1395.1,913.5L1394.0,912.4L1392.9,911.3L1391.8,910.2L1390.7,909.1L1389.6,908.0L1388.6,906.9L1387.5,905.8L1386.4,904.7L1385.4,903.5L1384.3,902.4L1383.2,901.3L1382.2,900.2L1381.1,899.1L1380.0,898.0L1379.0,896.8L1377.9,895.7L1376.9,894.6L1375.8,893.5L1374.8,892.3L1373.7,891.2L1372.7,890.1L1371.7,889.0L1370.6,887.8L1369.6,886.7L1368.6,885.6L1367.6,884.4L1366.5,883.3L1365.5,882.1L1364.5,881.0L1363.5,879.9L1362.5,878.7L1361.5,877.6L1360.5,876.4L1359.5,875.2L1358.5,874.1L1357.6,872.9L1356.6,871.7L1355.6,870.6L1354.6,869.4L1353.7,868.2L1352.7,867.0L1351.8,865.8L1350.8,864.6L1349.9,863.4L1348.9,862.2L1348.0,861.0L1347.0,859.8L1346.1,858.6L1345.2,857.4L1344.2,856.1L1343.3,854.9L1342.4,853.7L1341.5,852.4L1340.6,851.2L1339.7,849.9L1338.8,848.7L1337.8,847.5L1336.9,846.2L1336.0,845.0L1335.1,843.7L1334.2,842.4L1333.4,841.2L1332.5,839.9L1331.6,838.7L1330.7,837.4L1329.8,836.1L1328.9,834.9L1328.0,833.6L1327.2,832.3L1326.3,831.1L1325.4,829.8L1324.5,828.5L1323.7,827.3L1322.8,826.0L1321.9,824.7L1321.1,823.4L1320.2,822.1L1319.3,820.9L1318.5,819.6L1317.6,818.3L1316.8,817.0L1315.9,815.7L1315.1,814.4L1314.2,813.1L1313.4,811.8L1312.5,810.6L1311.7,809.3L1310.9,808.0L1310.0,806.7L1309.2,805.4L1308.4,804.1L1307.5,802.8L1306.7,801.5L1305.9,800.2L1305.1,798.8L1304.2,797.5L1303.4,796.2L1302.6,794.9L1301.8,793.6L1301.0,792.3L1300.2,791.0L1299.4,789.7L1298.6,788.3L1297.7,787.0L1296.9,785.7L1296.1,784.4L1295.3,783.1L1294.6,781.7L1293.8,780.4L1293.0,779.1L1292.2,777.8L1291.4,776.4L1290.6,775.1L1289.8,773.8L1289.0,772.4L1288.3,771.1L1287.5,769.8L1286.7,768.4L1285.9,767.1L1285.2,765.8L1284.4,764.4L1283.6,763.1L1282.9,761.7L1282.1,760.4L1281.3,759.1L1280.6,757.7L1279.8,756.4L1279.1,755.0L1278.3,753.7L1277.5,752.3L1276.8,751.0L1276.0,749.6L1275.3,748.3L1274.6,746.9L1273.8,745.5L1273.1,744.2L1272.3,742.8L1271.6,741.5L1270.9,740.1L1270.1,738.8L1269.4,737.4L1268.7,736.0L1267.9,734.7L1267.2,733.3L1266.5,731.9L1265.8,730.6L1265.1,729.2L1264.3,727.8L1263.6,726.5L1262.9,725.1L1262.2,723.7L1261.5,722.3L1260.8,721.0L1260.1,719.6L1259.4,718.2L1258.7,716.8L1258.0,715.5L1257.3,714.1L1256.6,712.7L1255.9,711.3L1255.2,710.0L1254.5,708.6L1253.8,707.2L1253.1,705.8L1252.4,704.4L1251.7,703.0L1251.0,701.6L1250.4,700.3L1249.7,698.9L1249.0,697.5L1248.3,696.1L1247.7,694.7L1247.0,693.3L1246.3,691.9L1245.6,690.5L1245.0,689.1L1244.3,687.7L1243.6,686.4L1243.0,685.0L1242.3,683.6L1241.7,682.2L1241.0,680.8L1240.3,679.4L1239.7,678.0L1239.0,676.6L1238.4,675.2L1237.7,673.8L1237.1,672.4L1236.4,671.0L1235.8,669.6L1235.1,668.1L1234.5,666.7L1233.9,665.3L1233.2,663.9L1232.6,662.5L1232.0,661.1L1231.3,659.7L1230.7,658.3L1230.0,656.9L1229.4,655.5L1228.8,654.1L1228.2,652.7L1227.5,651.2L1226.9,649.8L1226.3,648.4L1225.7,647.0L1225.0,645.6L1224.4,644.2L1223.8,642.8L1223.2,641.3L1222.6,639.9L1221.9,638.5L1221.3,637.1L1220.7,635.7L1220.1,634.2L1219.5,632.8L1218.9,631.4L1218.3,630.0L1217.7,628.6L1217.0,627.1L1216.4,625.7L1215.8,624.3L1215.2,622.9L1214.6,621.4L1214.0,620.0L1213.4,618.6L1212.8,617.2L1212.2,615.7L1211.6,614.3L1211.0,612.9L1210.4,611.5L1209.8,610.0L1209.2,608.6L1208.7,607.2L1208.1,605.7L1207.5,604.3L1206.9,602.9L1206.3,601.5L1205.7,600.0L1205.1,598.6L1204.5,597.2L1203.9,595.7L1203.3,594.3L1202.8,592.9L1202.2,591.4L1201.6,590.0L1201.0,588.6L1200.4,587.1L1199.8,585.7L1199.3,584.3L1198.7,582.8L1198.1,581.4L1197.5,579.9L1196.9,578.5L1196.4,577.1L1195.8,575.6L1195.2,574.2L1194.6,572.8L1194.1,571.3L1193.5,569.9L1192.9,568.4L1192.3,567.0L1191.8,565.6L1191.2,564.1L1190.6,562.7L1190.0,561.2L1189.5,559.8L1188.9,558.4L1188.3,556.9L1187.8,555.5L1187.2,554.0L1186.6,552.6L1186.0,551.2L1185.5,549.7L1184.9,548.3L1184.3,546.8L1183.8,545.4L1183.2,543.9L1182.6,542.5L1182.1,541.1L1181.5,539.6L1180.9,538.2L1180.4,536.7L1179.8,535.3L1179.2,533.8L1178.7,532.4L1178.1,531.0L1177.5,529.5L1177.0,528.1L1176.4,526.6L1175.8,525.2L1175.3,523.7L1174.7,522.3L1174.1,520.8L1173.6,519.4L1173.0,518.0L1172.5,516.5L1171.9,515.1L1171.3,513.6L1170.8,512.2L1170.2,510.7L1169.6,509.3L1169.1,507.8L1168.5,506.4L1167.9,504.9L1167.4,503.5L1166.8,502.1L1166.2,500.6L1165.7,499.2L1165.1,497.7L1164.5,496.3L1164.0,494.8L1163.4,493.4L1162.8,491.9L1162.3,490.5L1161.7,489.1L1161.1,487.6L1160.6,486.2L1160.0,484.7L1159.4,483.3L1158.9,481.8L1158.3,480.4L1157.7,478.9L1157.2,477.5L1156.6,476.1L1156.0,474.6L1155.5,473.2L1154.9,471.7L1154.3,470.3L1153.8,468.8L1153.2,467.4L1152.6,465.9L1152.1,464.5L1151.5,463.1L1150.9,461.6L1150.3,460.2L1149.8,458.7L1149.2,457.3L1148.6,455.8L1148.1,454.4L1147.5,453.0L1146.9,451.5L1146.4,450.1L1145.8,448.6L1145.2,447.2L1144.6,445.7L1144.1,444.3L1143.5,442.9L1142.9,441.4L1142.3,440.0L1141.8,438.5L1141.2,437.1L1140.6,435.6L1140.0,434.2L1139.5,432.8L1138.9,431.3L1138.3,429.9L1137.7,428.4L1137.2,427.0L1136.6,425.6L1136.0,424.1L1135.4,422.7L1134.9,421.2L1134.3,419.8L1133.7,418.4L1133.1,416.9L1132.6,415.5L1132.0,414.0L1131.4,412.6L1130.8,411.2L1130.2,409.7L1129.7,408.3L1129.1,406.8L1128.5,405.4L1127.9,404.0L1127.3,402.5L1126.7,401.1L1126.2,399.6L1125.6,398.2L1125.0,396.8L1124.4,395.3L1123.8,393.9L1123.2,392.5L1122.7,391.0L1122.1,389.6L1121.5,388.1L1120.9,386.7L1120.3,385.3L1119.7,383.8L1119.2,382.4L1118.6,381.0L1118.0,379.5L1117.4,378.1L1116.8,376.6L1116.2,375.2L1115.6,373.8L1115.0,372.3L1114.4,370.9L1113.9,369.5L1113.3,368.0L1112.7,366.6L1112.1,365.2L1111.5,363.7L1110.9,362.3L1110.3,360.9L1109.7,359.4L1109.1,358.0L1108.5,356.6L1107.9,355.1L1107.3,353.7L1106.7,352.3L1106.1,350.8L1105.5,349.4L1104.9,348.0L1104.3,346.5L1103.7,345.1L1103.1,343.7L1102.5,342.3L1101.9,340.8L1101.3,339.4L1100.7,338.0L1100.1,336.5L1099.5,335.1L1098.9,333.7L1098.3,332.2L1097.7,330.8L1097.1,329.4L1096.5,328.0L1095.9,326.5L1095.3,325.1L1094.7,323.7L1094.1,322.2L1093.5,320.8L1092.9,319.4L1092.3,318.0L1091.7,316.5L1091.1,315.1L1090.5,313.7L1089.8,312.3L1089.2,310.8L1088.6,309.4L1088.0,308.0L1087.4,306.6L1086.8,305.1L1086.2,303.7L1085.6,302.3L1084.9,300.9L1084.3,299.4L1083.7,298.0L1083.1,296.6L1082.5,295.2L1081.9,293.7L1081.2,292.3L1080.6,290.9L1080.0,289.5L1079.4,288.1L1078.7,286.6L1078.1,285.2L1077.5,283.8L1076.9,282.4L1076.2,280.9L1075.6,279.5L1075.0,278.1L1074.3,276.7L1073.7,275.3L1073.1,273.9L1072.4,272.4L1071.8,271.0L1071.1,269.6L1070.5,268.2L1069.8,266.8L1069.2,265.4L1068.5,264.0L1067.9,262.5L1067.2,261.1L1066.6,259.7L1065.9,258.3L1065.3,256.9L1064.6,255.5L1063.9,254.1L1063.3,252.7L1062.6,251.3L1061.9,249.9L1061.2,248.5L1060.6,247.1L1059.9,245.7L1059.2,244.3L1058.5,242.9L1057.8,241.5L1057.1,240.1L1056.4,238.7L1055.7,237.3L1055.0,235.9L1054.3,234.5L1053.6,233.1L1052.9,231.7L1052.2,230.3L1051.5,228.9L1050.8,227.6L1050.0,226.2L1049.3,224.8L1048.6,223.4L1047.8,222.0L1047.1,220.7L1046.4,219.3L1045.6,217.9L1044.9,216.5L1044.1,215.2L1043.3,213.8L1042.6,212.4L1041.8,211.0L1041.1,209.7L1040.3,208.3L1039.5,206.9L1038.7,205.6L1037.9,204.2L1037.2,202.9L1036.4,201.5L1035.6,200.1L1034.8,198.8L1034.0,197.4L1033.1,196.1L1032.3,194.7L1031.5,193.4L1030.7,192.0L1029.8,190.7L1029.0,189.4L1028.2,188.0L1027.3,186.7L1026.4,185.3L1025.6,184.0L1024.7,182.7L1023.8,181.4L1023.0,180.1L1022.1,178.7L1021.2,177.4L1020.2,176.1L1019.3,174.8L1018.4,173.5L1017.5,172.2L1016.5,171.0L1015.6,169.7L1014.6,168.4L1013.6,167.1L1012.6,165.9L1011.6,164.6L1010.6,163.4L1009.6,162.2L1008.6,161.0L1007.5,159.8L1006.4,158.6L1005.3,157.4L1004.2,156.2L1003.1,155.0L1002.0,153.9L1000.8,152.8L999.7,151.6L998.5,150.5L997.3,149.5L996.1,148.4L994.9,147.3L993.6,146.3L992.4,145.2L991.1,144.2L989.8,143.2L988.5,142.2L987.2,141.2L985.9,140.3L984.5,139.3L983.1,138.4L981.7,137.5L980.3,136.6L978.9,135.7L977.5,134.9L976.0,134.1L974.6,133.3L973.1,132.5L971.6,131.7L970.1,131.0L968.6,130.3L967.1,129.7L965.5,129.0L964.0,128.4L962.4,127.9L960.9,127.3L959.3,126.8L957.7,126.4L956.1,125.9L954.5,125.5L952.9,125.2L951.3,124.9L949.7,124.6L948.1,124.4L946.5,124.2L944.8,124.0L943.2,124.0L941.5,123.9L939.9,123.9L938.2,124.0L936.6,124.1L935.0,124.3L933.3,124.5L931.7,124.7L930.1,125.0L928.5,125.3L926.9,125.7L925.3,126.1L923.7,126.6L922.1,127.1L920.5,127.6L918.9,128.1L917.4,128.7L915.8,129.3L914.3,130.0L912.8,130.6L911.3,131.4L909.8,132.1L908.3,132.9L906.8,133.7L905.4,134.5L903.9,135.4L902.5,136.3L901.1,137.2L899.8,138.1L898.4,139.1L897.1,140.1L895.8,141.1L894.5,142.2L893.2,143.3L892.0,144.4L890.8,145.5L889.6,146.6L888.4,147.7L887.2,148.9L886.1,150.0L885.0,151.2L883.9,152.4L882.8,153.6L881.7,154.8L880.6,156.0L879.6,157.3L878.6,158.5L877.5,159.7L876.5,161.0L875.5,162.2L874.5,163.5L873.6,164.8L872.6,166.0L871.7,167.3L870.7,168.6L869.8,169.9L868.9,171.1L867.9,172.4L867.0,173.7L866.1,175.0L865.3,176.3L864.4,177.6L863.5,179.0L862.6,180.3L861.8,181.6L860.9,182.9L860.1,184.2L859.2,185.6L858.4,186.9L857.6,188.2L856.8,189.6L856.0,190.9L855.2,192.3L854.4,193.6L853.6,195.0L852.8,196.3L852.0,197.7L851.2,199.0L850.5,200.4L849.7,201.8L848.9,203.1L848.2,204.5L847.4,205.9L846.7,207.2L845.9,208.6L845.2,210.0L844.5,211.4L843.7,212.8L843.0,214.1L842.3,215.5L841.6,216.9L840.9,218.3L840.2,219.7L839.4,221.1L838.7,222.5L838.0,223.9L837.3,225.3L836.7,226.7L836.0,228.1L835.3,229.4L834.6,230.8L833.9,232.2L833.2,233.6L832.5,235.0L831.9,236.5L831.2,237.9L830.5,239.3L829.8,240.7L829.2,242.1L828.5,243.5L827.8,244.9L827.2,246.3L826.5,247.7L825.8,249.1L825.1,250.5L824.5,251.9L823.8,253.3L823.1,254.7L822.5,256.1L821.8,257.5L821.1,258.9L820.5,260.3L819.8,261.7L819.2,263.1L818.5,264.5L817.8,265.9L817.2,267.3L816.5,268.7L815.8,270.1L815.2,271.5L814.5,272.9L813.9,274.3L813.2,275.7L812.5,277.1L811.9,278.5L811.2,280.0L810.6,281.4Z" fill="#00ffff" stroke="none"/>
<path d="M272.9,1497.8L274.0,1495.4L275.1,1493.0L276.2,1490.5L277.3,1488.1L278.4,1485.7L279.5,1483.3L280.6,1480.8L281.7,1478.4L282.8,1476.0L283.8,1473.5L284.9,1471.1L286.0,1468.7L287.1,1466.3L288.2,1463.8L289.3,1461.4L290.4,1459.0L291.5,1456.5L292.6,1454.1L293.7,1451.7L294.8,1449.2L295.9,1446.8L297.0,1444.4L298.1,1442.0L299.2,1439.5L300.3,1437.1L301.4,1434.7L302.5,1432.2L303.6,1429.8L304.7,1427.4L305.8,1424.9L306.9,1422.5L308.0,1420.1L309.1,1417.6L310.2,1415.2L311.3,1412.8L312.4,1410.4L313.5,1407.9L314.6,1405.5L315.7,1403.1L316.8,1400.6L317.9,1398.2L319.0,1395.8L320.0,1393.3L321.1,1390.9L322.2,1388.5L323.3,1386.1L324.4,1383.6L325.5,1381.2L326.6,1378.8L327.7,1376.3L328.8,1373.9L329.9,1371.5L331.0,1369.0L332.1,1366.6L333.2,1364.2L334.3,1361.7L335.4,1359.3L336.5,1356.9L337.6,1354.4L338.7,1352.0L339.8,1349.6L340.9,1347.2L342.0,1344.7L343.0,1342.3L344.1,1339.9L345.2,1337.4L346.3,1335.0L347.4,1332.6L348.5,1330.1L349.6,1327.7L350.7,1325.3L351.8,1322.8L352.9,1320.4L354.0,1318.0L355.1,1315.5L356.2,1313.1L357.3,1310.7L358.4,1308.3L359.5,1305.8L360.6,1303.4L361.7,1301.0L362.7,1298.5L363.8,1296.1L364.9,1293.7L366.0,1291.2L367.1,1288.8L368.2,1286.4L369.3,1283.9L370.4,1281.5L371.5,1279.1L372.6,1276.6L373.7,1274.2L374.8,1271.8L375.9,1269.4L377.0,1266.9L378.1,1264.5L379.2,1262.1L380.2,1259.6L381.3,1257.2L382.4,1254.8L383.5,1252.3L384.6,1249.9L385.7,1247.5L386.8,1245.0L387.9,1242.6L389.0,1240.2L390.1,1237.7L391.2,1235.3L392.3,1232.9L393.4,1230.4L394.5,1228.0L395.5,1225.6L396.6,1223.1L397.7,1220.7L398.8,1218.3L399.9,1215.8L401.0,1213.4L402.1,1211.0L403.2,1208.6L404.3,1206.1L405.4,1203.7L406.5,1201.3L407.6,1198.8L408.7,1196.4L409.8,1194.0L410.8,1191.5L411.9,1189.1L413.0,1186.7L414.1,1184.2L415.2,1181.8L416.3,1179.4L417.4,1176.9L418.5,1174.5L419.6,1172.1L420.7,1169.6L421.8,1167.2L422.9,1164.8L424.0,1162.3L425.0,1159.9L426.1,1157.5L427.2,1155.0L428.3,1152.6L429.4,1150.2L430.5,1147.7L431.6,1145.3L432.7,1142.9L433.8,1140.4L434.9,1138.0L436.0,1135.6L437.1,1133.2L438.1,1130.7L439.2,1128.3L440.3,1125.9L441.4,1123.4L442.5,1121.0L443.6,1118.6L444.7,1116.1L445.8,1113.7L446.9,1111.3L448.0,1108.8L449.1,1106.4L450.2,1104.0L451.2,1101.5L452.3,1099.1L453.4,1096.7L454.5,1094.2L455.6,1091.8L456.7,1089.4L457.8,1086.9L458.9,1084.5L460.0,1082.1L461.1,1079.6L462.2,1077.2L463.2,1074.8L464.3,1072.3L465.4,1069.9L466.5,1067.5L467.6,1065.0L468.7,1062.6L469.8,1060.2L470.9,1057.7L472.0,1055.3L473.1,1052.9L474.2,1050.4L475.2,1048.0L476.3,1045.6L477.4,1043.1L478.5,1040.7L479.6,1038.3L480.7,1035.8L481.8,1033.4L482.9,1031.0L484.0,1028.5L485.1,1026.1L486.2,1023.7L487.2,1021.2L488.3,1018.8L489.4,1016.4L490.5,1013.9L491.6,1011.5L492.7,1009.1L493.8,1006.7L494.9,1004.2L496.0,1001.8L497.1,999.4L498.2,996.9L499.2,994.5L500.3,992.1L501.4,989.6L502.5,987.2L503.6,984.8L504.7,982.3L505.8,979.9L506.9,977.5L508.0,975.0L509.1,972.6L510.2,970.2L511.2,967.7L512.3,965.3L513.4,962.9L514.5,960.4L515.6,958.0L516.7,955.6L517.8,953.1L518.9,950.7L520.0,948.3L521.1,945.8L522.2,943.4L523.2,941.0L524.3,938.5L525.4,936.1L526.5,933.7L527.6,931.2L528.7,928.8L529.8,926.4L530.9,923.9L532.0,921.5L533.1,919.1L534.2,916.6L535.2,914.2L536.3,911.8L537.4,909.3L538.5,906.9L539.6,904.5L540.7,902.0L541.8,899.6L542.9,897.2L544.0,894.7L545.1,892.3L546.2,889.9L547.2,887.4L548.3,885.0L549.4,882.6L550.5,880.1L551.6,877.7L552.7,875.3L553.8,872.8L554.9,870.4L556.0,868.0L557.1,865.5L558.2,863.1L559.2,860.7L560.3,858.2L561.4,855.8L562.5,853.4L563.6,850.9L564.7,848.5L565.8,846.1L566.9,843.7L568.0,841.2L569.1,838.8L570.2,836.4L571.2,833.9L572.3,831.5L573.4,829.1L574.5,826.6L575.6,824.2L576.7,821.8L577.8,819.3L578.9,816.9L580.0,814.5L581.1,812.0L582.2,809.6L583.2,807.2L584.3,804.7L585.4,802.3L586.5,799.9L587.6,797.4L588.7,795.0L589.8,792.6L590.9,790.1L592.0,787.7L593.1,785.3L594.2,782.8L595.2,780.4L596.3,778.0L597.4,775.5L598.5,773.1L599.6,770.7L600.7,768.2L601.8,765.8L602.9,763.4L604.0,760.9L605.1,758.5L606.2,756.1L607.3,753.6L608.3,751.2L609.4,748.8L610.5,746.3L611.6,743.9L612.7,741.5L613.8,739.1L614.9,736.6L616.0,734.2L617.1,731.8L618.2,729.3L619.3,726.9L620.4,724.5L621.4,722.0L622.5,719.6L623.6,717.2L624.7,714.7L625.8,712.3L626.9,709.9L628.0,707.4L629.1,705.0L630.2,702.6L631.3,700.1L632.4,697.7L633.5,695.3L634.6,692.8L635.6,690.4L636.7,688.0L637.8,685.5L638.9,683.1L640.0,680.7L641.1,678.2L642.2,675.8L643.3,673.4L644.4,671.0L645.5,668.5L646.6,666.1L647.7,663.7L648.8,661.2L649.8,658.8L650.9,656.4L652.0,653.9L653.1,651.5L654.2,649.1L655.3,646.6L656.4,644.2L657.5,641.8L658.6,639.3L659.7,636.9L660.8,634.5L661.9,632.0L663.0,629.6L664.1,627.2L665.1,624.7L666.2,622.3L667.3,619.9L668.4,617.5L669.5,615.0L670.6,612.6L671.7,610.2L672.8,607.7L673.9,605.3L675.0,602.9L676.1,600.4L677.2,598.0L678.3,595.6L679.4,593.1L680.5,590.7L681.5,588.3L682.6,585.8L683.7,583.4L684.8,581.0L685.9,578.5L687.0,576.1L688.1,573.7L689.2,571.3L690.3,568.8L691.4,566.4L692.5,564.0L693.6,561.5L694.7,559.1L695.8,556.7L696.9,554.2L698.0,551.8L699.1,549.4L700.1,546.9L701.2,544.5L702.3,542.1L703.4,539.6L704.5,537.2L705.6,534.8L706.7,532.4L707.8,529.9L708.9,527.5L710.0,525.1L711.1,522.6L712.2,520.2L713.3,517.8L714.4,515.3L715.5,512.9L716.6,510.5L717.7,508.0L718.8,505.6L719.9,503.2L721.0,500.8L722.1,498.3L723.1,495.9L724.2,493.5L725.3,491.0L726.4,488.6L727.5,486.2L728.6,483.7L729.7,481.3L730.8,478.9L731.9,476.5L733.0,474.0L734.1,471.6L735.2,469.2L736.3,466.7L737.4,464.3L738.5,461.9L739.6,459.4L740.7,457.0L741.8,454.6L742.9,452.1L744.0,449.7L745.1,447.3L746.2,444.9L747.3,442.4L748.4,440.0L749.5,437.6L750.6,435.1L751.7,432.7L752.8,430.3L753.8,427.8L754.9,425.4L756.0,423.0L757.1,420.6L758.2,418.1L759.3,415.7L760.4,413.3L761.5,410.8L762.6,408.4L763.7,406.0L764.8,403.6L765.9,401.1L767.0,398.7L768.1,396.3L769.2,393.8L770.3,391.4L771.4,389.0L772.5,386.5L773.6,384.1L774.7,381.7L775.8,379.3L776.9,376.8L778.0,374.4L779.1,372.0L780.2,369.5L781.3,367.1L782.4,364.7L783.5,362.3L784.6,359.8L785.7,357.4L786.8,355.0L787.9,352.5L789.0,350.1L790.1,347.7L791.2,345.3L792.3,342.8L793.4,340.4L794.5,338.0L795.6,335.5L796.7,333.1L797.8,330.7L798.9,328.3L800.0,325.8L801.1,323.4L802.2,321.0L803.3,318.5L804.4,316.1L805.5,313.7L806.6,311.3L807.7,308.8L808.8,306.4L809.9,304.0L811.0,301.5L812.1,299.1L813.2,296.7L814.3,294.3L815.4,291.8L816.5,289.4L817.6,287.0L818.7,284.6L819.8,282.1L820.9,279.7L822.0,277.3L823.2,274.9L824.3,272.5L825.4,270.1L826.5,267.6L827.6,265.2L828.8,262.8L829.9,260.4L831.0,258.0L832.2,255.6L833.3,253.2L834.5,250.8L835.6,248.4L836.8,246.0L838.0,243.7L839.1,241.3L840.3,238.9L841.5,236.5L842.7,234.1L843.9,231.8L845.1,229.4L846.3,227.0L847.5,224.7L848.7,222.3L849.9,220.0L851.2,217.6L852.4,215.3L853.7,212.9L854.9,210.6L856.2,208.3L857.5,206.0L858.8,203.6L860.1,201.3L861.4,199.0L862.7,196.7L864.1,194.5L865.4,192.2L866.8,189.9L868.2,187.7L869.6,185.5L871.0,183.3L872.5,181.1L873.9,179.0L875.4,176.9L877.0,174.8L878.5,172.7L880.1,170.6L881.7,168.6L883.4,166.7L885.0,164.7L886.7,162.8L888.5,160.9L890.2,159.0L892.0,157.2L893.8,155.3L895.6,153.5L897.4,151.8L899.3,150.0L901.2,148.4L903.1,146.7L905.1,145.1L907.1,143.5L909.1,142.0L911.2,140.6L913.3,139.2L915.4,137.9L917.6,136.6L919.8,135.4L922.1,134.4L924.4,133.4L926.8,132.5L929.1,131.7L931.6,131.0L934.0,130.4L936.5,129.9L939.0,129.5L941.5,129.2L943.9,129.0L946.4,128.9L948.9,128.9L951.4,129.1L953.8,129.3L956.2,129.6L958.6,130.1L961.0,130.6L963.3,131.3L965.5,132.1L967.8,133.0L969.9,134.1L972.1,135.2L974.2,136.5L976.3,137.8L978.4,139.2L980.4,140.6L982.5,142.2L984.5,143.8L986.4,145.4L988.4,147.1L990.3,148.8L992.2,150.6L994.1,152.4L996.0,154.2L997.8,156.1L999.7,158.0L1001.4,159.9L1003.2,161.8L1005.0,163.7L1006.7,165.7L1008.4,167.7L1010.1,169.7L1011.7,171.7L1013.3,173.7L1014.9,175.8L1016.5,177.9L1018.1,180.0L1019.6,182.1L1021.1,184.2L1022.6,186.4L1024.1,188.6L1025.5,190.8L1026.9,193.0L1028.4,195.2L1029.8,197.4L1031.2,199.7L1032.5,201.9L1033.9,204.2L1035.3,206.5L1036.6,208.8L1037.9,211.0L1039.3,213.3L1040.6,215.6L1041.9,217.9L1043.2,220.2L1044.5,222.5L1045.8,224.8L1047.1,227.2L1048.4,229.5L1049.7,231.8L1050.9,234.1L1052.2,236.4L1053.5,238.8L1054.7,241.1L1055.9,243.4L1057.2,245.8L1058.4,248.1L1059.6,250.5L1060.9,252.8L1062.1,255.2L1063.3,257.5L1064.5,259.9L1065.7,262.3L1066.8,264.6L1068.0,267.0L1069.2,269.4L1070.4,271.8L1071.5,274.2L1072.7,276.5L1073.8,278.9L1075.0,281.3L1076.1,283.7L1077.3,286.1L1078.4,288.5L1079.5,290.9L1080.7,293.3L1081.8,295.7L1082.9,298.1L1084.0,300.5L1085.1,302.9L1086.2,305.4L1087.3,307.8L1088.4,310.2L1089.5,312.6L1090.5,315.0L1091.6,317.5L1092.7,319.9L1093.8,322.3L1094.8,324.8L1095.9,327.2L1096.9,329.6L1098.0,332.1L1099.0,334.5L1100.1,337.0L1101.1,339.4L1102.2,341.9L1103.2,344.3L1104.2,346.8L1105.3,349.2L1106.3,351.7L1107.3,354.1L1108.3,356.6L1109.3,359.1L1110.3,361.5L1111.4,364.0L1112.4,366.5L1113.4,368.9L1114.4,371.4L1115.4,373.9L1116.4,376.3L1117.4,378.8L1118.3,381.3L1119.3,383.8L1120.3,386.2L1121.3,388.7L1122.3,391.2L1123.3,393.7L1124.3,396.2L1125.2,398.6L1126.2,401.1L1127.2,403.6L1128.2,406.1L1129.1,408.6L1130.1,411.1L1131.1,413.5L1132.0,416.0L1133.0,418.5L1134.0,421.0L1134.9,423.5L1135.9,426.0L1136.8,428.5L1137.8,431.0L1138.8,433.5L1139.7,436.0L1140.7,438.5L1141.6,440.9L1142.6,443.4L1143.5,445.9L1144.5,448.4L1145.4,450.9L1146.4,453.4L1147.4,455.9L1148.3,458.4L1149.3,460.9L1150.2,463.4L1151.2,465.9L1152.1,468.4L1153.1,470.9L1154.0,473.4L1155.0,475.9L1155.9,478.4L1156.9,480.9L1157.9,483.3L1158.8,485.8L1159.8,488.3L1160.7,490.8L1161.7,493.3L1162.7,495.8L1163.6,498.3L1164.6,500.8L1165.5,503.3L1166.5,505.8L1167.5,508.3L1168.4,510.7L1169.4,513.2L1170.4,515.7L1171.4,518.2L1172.3,520.7L1173.3,523.2L1174.3,525.7L1175.3,528.1L1176.2,530.6L1177.2,533.1L1178.2,535.6L1179.2,538.1L1180.2,540.5L1181.1,543.0L1182.1,545.5L1183.1,548.0L1184.1,550.5L1185.1,552.9L1186.1,555.4L1187.1,557.9L1188.1,560.4L1189.1,562.8L1190.1,565.3L1191.1,567.8L1192.1,570.2L1193.1,572.7L1194.1,575.2L1195.1,577.6L1196.1,580.1L1197.2,582.6L1198.2,585.0L1199.2,587.5L1200.2,590.0L1201.2,592.4L1202.3,594.9L1203.3,597.3L1204.3,599.8L1205.4,602.3L1206.4,604.7L1207.4,607.2L1208.5,609.6L1209.5,612.1L1210.6,614.5L1211.6,617.0L1212.7,619.4L1213.7,621.9L1214.8,624.3L1215.8,626.8L1216.9,629.2L1217.9,631.7L1219.0,634.1L1220.1,636.6L1221.1,639.0L1222.2,641.5L1223.3,643.9L1224.4,646.3L1225.5,648.8L1226.5,651.2L1227.6,653.7L1228.7,656.1L1229.8,658.5L1230.9,661.0L1232.0,663.4L1233.1,665.8L1234.2,668.3L1235.3,670.7L1236.4,673.1L1237.5,675.5L1238.7,678.0L1239.8,680.4L1240.9,682.8L1242.0,685.2L1243.2,687.7L1244.3,690.1L1245.4,692.5L1246.6,694.9L1247.7,697.3L1248.9,699.8L1250.0,702.2L1251.2,704.6L1252.3,707.0L1253.5,709.4L1254.7,711.8L1255.8,714.2L1257.0,716.6L1258.2,719.1L1259.4,721.5L1260.5,723.9L1261.7,726.3L1262.9,728.7L1264.1,731.1L1265.3,733.5L1266.5,735.9L1267.7,738.2L1268.9,740.6L1270.2,743.0L1271.4,745.4L1272.6,747.8L1273.9,750.2L1275.1,752.6L1276.3,754.9L1277.6,757.3L1278.8,759.7L1280.1,762.0L1281.4,764.4L1282.6,766.8L1283.9,769.1L1285.2,771.5L1286.5,773.8L1287.8,776.2L1289.1,778.5L1290.4,780.9L1291.7,783.2L1293.0,785.6L1294.3,787.9L1295.7,790.2L1297.0,792.5L1298.3,794.9L1299.7,797.2L1301.0,799.5L1302.4,801.8L1303.8,804.1L1305.2,806.4L1306.5,808.7L1307.9,811.0L1309.3,813.3L1310.7,815.6L1312.1,817.8L1313.5,820.1L1315.0,822.4L1316.4,824.7L1317.8,826.9L1319.3,829.2L1320.7,831.4L1322.2,833.7L1323.7,835.9L1325.1,838.1L1326.6,840.4L1328.1,842.6L1329.6,844.8L1331.1,847.0L1332.6,849.3L1334.2,851.5L1335.7,853.7L1337.2,855.8L1338.8,858.0L1340.4,860.2L1341.9,862.4L1343.5,864.6L1345.1,866.7L1346.7,868.9L1348.3,871.0L1349.9,873.2L1351.5,875.3L1353.2,877.4L1354.8,879.6L1356.5,881.7L1358.1,883.8L1359.8,885.9L1361.5,888.0L1363.2,890.1L1364.9,892.1L1366.6,894.2L1368.3,896.3L1370.1,898.3L1371.8,900.4L1373.6,902.4L1375.3,904.4L1377.1,906.5L1378.9,908.5L1380.7,910.5L1382.5,912.5L1384.4,914.5L1386.2,916.4L1388.1,918.4L1389.9,920.4L1391.8,922.3L1393.7,924.2L1395.6,926.2L1397.5,928.1L1399.4,930.0L1401.4,931.9L1403.3,933.8L1405.3,935.6L1407.2,937.5L1409.2,939.3L1411.2,941.2L1413.2,943.0L1415.2,944.8L1417.2,946.6L1419.3,948.3L1421.3,950.1L1423.4,951.9L1425.5,953.6L1427.5,955.3L1429.6,957.0L1431.8,958.7L1433.9,960.4L1436.0,962.1L1438.1,963.7L1440.3,965.4L1442.5,967.0L1444.6,968.6L1446.8,970.2L1449.0,971.8L1451.2,973.3L1453.4,974.9L1455.7,976.4L1457.9,977.9L1460.1,979.4L1462.4,980.9L1464.7,982.4L1466.9,983.8L1469.2,985.3L1471.5,986.7L1473.8,988.1L1476.1,989.5L1478.4,990.9L1480.7,992.3L1483.1,993.6L1485.4,995.0L1487.8,996.3L1490.1,997.6L1492.5,998.9L1494.8,1000.2L1497.2,1001.5L1499.6,1002.8L1502.0,1004.0L1504.4,1005.3L1506.8,1006.5L1509.2,1007.7L1511.6,1008.9L1514.1,1010.1L1516.5,1011.3L1518.9,1012.4L1521.4,1013.6L1523.8,1014.7L1526.3,1015.8L1528.7,1017.0L1531.2,1018.1L1533.7,1019.1L1536.1,1020.2L1538.6,1021.3L1541.1,1022.3L1543.6,1023.4L1546.1,1024.4L1548.6,1025.4L1551.1,1026.4L1553.6,1027.4L1556.1,1028.4L1558.6,1029.4L1561.2,1030.3L1563.7,1031.3L1566.2,1032.2L1568.8,1033.1L1571.3,1034.0L1573.8,1034.9L1576.4,1035.8L1578.9,1036.7L1581.5,1037.6L1584.0,1038.4L1586.6,1039.3L1589.2,1040.1L1591.7,1040.9L1594.3,1041.8L1596.9,1042.6L1599.4,1043.3L1602.0,1044.1L1604.6,1044.9L1607.2,1045.7L1609.7,1046.4L1612.3,1047.1L1614.9,1047.9L1617.5,1048.6L1620.1,1049.3L1622.7,1050.0L1625.3,1050.7L1627.9,1051.4L1630.4,1052.0L1633.0,1052.7L1635.6,1053.3L1638.2,1054.0L1640.9,1054.6L1643.5,1055.2L1646.1,1055.8L1648.7,1056.4L1651.3,1057.0L1653.9,1057.6L1656.5,1058.2L1659.1,1058.8L1661.7,1059.3L1664.4,1059.9L1667.0,1060.4L1669.6,1060.9L1672.2,1061.5L1674.9,1062.0L1677.5,1062.5L1680.1,1063.0L1682.7,1063.5L1685.4,1064.0L1688.0,1064.4L1690.6,1064.9L1693.3,1065.4L1695.9,1065.8L1698.6,1066.3L1701.2,1066.7L1703.8,1067.1L1706.5,1067.6L1709.1,1068.0L1711.8,1068.4L1714.4,1068.8L1717.1,1069.2L1719.7,1069.6L1722.4,1070.0L1725.0,1070.3L1727.7,1070.7L1730.3,1071.1L1733.0,1071.4L1735.6,1071.8L1738.3,1072.1L1740.9,1072.5L1743.6,1072.8L1746.3,1073.1L1748.9,1073.5L1751.6,1073.8L1754.2,1074.1L1756.9,1074.4L1759.6,1074.7L1762.2,1075.0L1764.9,1075.3L1767.6,1075.6L1770.2,1075.8L1772.9,1076.1L1775.5,1076.4L1778.2,1076.6L1780.9,1076.9L1783.5,1077.2L1786.2,1077.4L1788.9,1077.7L1791.6,1077.9L1794.2,1078.1L1796.9,1078.4L1799.6,1078.6L1802.2,1078.8L1804.9,1079.0L1807.6,1079.3L1810.2,1079.5L1812.9,1079.7L1815.6,1079.9L1818.3,1080.1L1820.9,1080.3L1823.6,1080.5L1826.3,1080.7L1828.9,1080.9L1831.6,1081.1L1834.3,1081.3L1837.0,1081.4L1839.6,1081.6L1842.3,1081.8L1845.0,1082.0L1847.7,1082.1L1850.3,1082.3L1853.0,1082.5L1855.7,1082.6L1858.3,1082.8L1861.0,1083.0L1863.7,1083.1L1866.3,1083.3L1869.0,1083.4L1871.7,1083.6L1874.4,1083.7L1877.0,1083.9L1879.7,1084.0L1882.4,1084.2L1885.0,1084.3L1887.7,1084.5L1890.4,1084.6L1893.0,1084.8L1895.7,1084.9L1898.4,1085.1L1901.0,1085.2L1903.7,1085.4L1906.3,1085.5L1909.0,1085.6L1911.7,1085.8L1914.3,1085.9L1917.0,1086.0L1919.7,1086.2L1922.3,1086.3L1925.0,1086.5L1927.6,1086.6L1930.3,1086.7L1933.0,1086.9L1935.6,1087.0L1938.3,1087.1L1940.9,1087.3L1943.6,1087.4L1946.2,1087.5L1948.9,1087.6L1951.6,1087.8L1954.2,1087.9L1956.9,1088.0L1959.5,1088.1L1962.2,1088.2L1964.9,1088.3L1967.5,1088.5L1970.2,1088.6L1972.8,1088.7L1975.5,1088.8L1978.2,1088.9L1980.8,1089.0L1983.5,1089.1L1986.2,1089.2L1988.8,1089.3L1991.5,1089.4L1994.1,1089.5L1996.8,1089.6L1999.5,1089.7L2002.1,1089.7L2004.8,1089.8L2007.5,1089.9L2010.1,1090.0L2012.8,1090.0L2015.5,1090.1L2018.1,1090.2L2020.8,1090.3L2023.5,1090.3L2026.1,1090.4L2028.8,1090.4L2031.5,1090.5L2034.2,1090.5L2036.8,1090.6L2039.5,1090.6L2042.2,1090.7L2044.9,1090.7L2047.5,1090.7L2050.2,1090.8L2052.9,1090.8L2055.6,1090.8L2058.3,1090.8L2060.9,1090.8L2063.6,1090.9L2066.3,1090.9L2069.0,1090.9L2071.7,1090.9L2074.4,1090.9L2077.1,1090.8L2077.0,1082.0L2074.4,1082.0L2071.7,1082.0L2069.0,1082.0L2066.3,1082.0L2063.7,1082.0L2061.0,1082.0L2058.3,1082.0L2055.6,1082.0L2053.0,1082.0L2050.3,1081.9L2047.6,1081.9L2045.0,1081.9L2042.3,1081.8L2039.6,1081.8L2037.0,1081.8L2034.3,1081.7L2031.7,1081.7L2029.0,1081.6L2026.3,1081.6L2023.7,1081.5L2021.0,1081.4L2018.4,1081.4L2015.7,1081.3L2013.0,1081.2L2010.4,1081.2L2007.7,1081.1L2005.1,1081.0L2002.4,1080.9L1999.8,1080.8L1997.1,1080.7L1994.4,1080.7L1991.8,1080.6L1989.1,1080.5L1986.5,1080.4L1983.8,1080.3L1981.2,1080.2L1978.5,1080.1L1975.9,1080.0L1973.2,1079.9L1970.6,1079.7L1967.9,1079.6L1965.2,1079.5L1962.6,1079.4L1959.9,1079.3L1957.3,1079.2L1954.6,1079.1L1952.0,1078.9L1949.3,1078.8L1946.7,1078.7L1944.0,1078.6L1941.4,1078.4L1938.7,1078.3L1936.0,1078.2L1933.4,1078.0L1930.7,1077.9L1928.1,1077.8L1925.4,1077.6L1922.8,1077.5L1920.1,1077.4L1917.4,1077.2L1914.8,1077.1L1912.1,1077.0L1909.5,1076.8L1906.8,1076.7L1904.1,1076.5L1901.5,1076.4L1898.8,1076.2L1896.2,1076.1L1893.5,1076.0L1890.8,1075.8L1888.2,1075.7L1885.5,1075.5L1882.8,1075.4L1880.2,1075.2L1877.5,1075.1L1874.9,1074.9L1872.2,1074.8L1869.5,1074.6L1866.9,1074.5L1864.2,1074.3L1861.5,1074.2L1858.9,1074.0L1856.2,1073.8L1853.5,1073.7L1850.9,1073.5L1848.2,1073.3L1845.6,1073.2L1842.9,1073.0L1840.2,1072.8L1837.6,1072.6L1834.9,1072.4L1832.2,1072.3L1829.6,1072.1L1826.9,1071.9L1824.2,1071.7L1821.6,1071.5L1818.9,1071.3L1816.3,1071.1L1813.6,1070.9L1810.9,1070.7L1808.3,1070.5L1805.6,1070.2L1803.0,1070.0L1800.3,1069.8L1797.7,1069.6L1795.0,1069.3L1792.3,1069.1L1789.7,1068.8L1787.0,1068.6L1784.4,1068.3L1781.7,1068.1L1779.1,1067.8L1776.4,1067.6L1773.8,1067.3L1771.1,1067.0L1768.5,1066.8L1765.8,1066.5L1763.2,1066.2L1760.5,1065.9L1757.9,1065.6L1755.3,1065.3L1752.6,1065.0L1750.0,1064.7L1747.3,1064.3L1744.7,1064.0L1742.1,1063.7L1739.4,1063.3L1736.8,1063.0L1734.2,1062.6L1731.5,1062.3L1728.9,1061.9L1726.3,1061.6L1723.6,1061.2L1721.0,1060.8L1718.4,1060.4L1715.8,1060.0L1713.1,1059.6L1710.5,1059.2L1707.9,1058.8L1705.3,1058.4L1702.7,1057.9L1700.0,1057.5L1697.4,1057.0L1694.8,1056.6L1692.2,1056.1L1689.6,1055.7L1687.0,1055.2L1684.4,1054.7L1681.8,1054.2L1679.2,1053.7L1676.6,1053.2L1674.0,1052.7L1671.4,1052.2L1668.8,1051.6L1666.2,1051.1L1663.6,1050.6L1661.0,1050.0L1658.4,1049.4L1655.9,1048.9L1653.3,1048.3L1650.7,1047.7L1648.1,1047.1L1645.5,1046.5L1643.0,1045.9L1640.4,1045.2L1637.8,1044.6L1635.3,1043.9L1632.7,1043.3L1630.1,1042.6L1627.6,1041.9L1625.0,1041.2L1622.5,1040.6L1619.9,1039.8L1617.4,1039.1L1614.8,1038.4L1612.3,1037.7L1609.7,1036.9L1607.2,1036.2L1604.7,1035.4L1602.1,1034.6L1599.6,1033.8L1597.1,1033.0L1594.5,1032.2L1592.0,1031.4L1589.5,1030.5L1587.0,1029.7L1584.5,1028.8L1582.0,1028.0L1579.4,1027.1L1576.9,1026.2L1574.4,1025.3L1572.0,1024.4L1569.5,1023.5L1567.0,1022.5L1564.5,1021.6L1562.0,1020.6L1559.6,1019.7L1557.1,1018.7L1554.6,1017.7L1552.2,1016.7L1549.7,1015.7L1547.3,1014.6L1544.8,1013.6L1542.4,1012.5L1540.0,1011.5L1537.5,1010.4L1535.1,1009.3L1532.7,1008.2L1530.3,1007.1L1527.9,1005.9L1525.5,1004.8L1523.1,1003.6L1520.8,1002.5L1518.4,1001.3L1516.0,1000.1L1513.7,998.9L1511.3,997.7L1509.0,996.5L1506.6,995.2L1504.3,994.0L1502.0,992.7L1499.7,991.4L1497.4,990.1L1495.1,988.8L1492.8,987.5L1490.5,986.2L1488.3,984.8L1486.0,983.5L1483.7,982.1L1481.5,980.7L1479.3,979.3L1477.0,977.9L1474.8,976.5L1472.6,975.0L1470.4,973.6L1468.2,972.1L1466.0,970.6L1463.9,969.1L1461.7,967.6L1459.6,966.1L1457.4,964.6L1455.3,963.0L1453.2,961.5L1451.1,959.9L1449.0,958.3L1446.9,956.7L1444.8,955.1L1442.7,953.5L1440.7,951.8L1438.6,950.2L1436.6,948.5L1434.6,946.8L1432.6,945.1L1430.6,943.4L1428.6,941.7L1426.6,940.0L1424.6,938.2L1422.6,936.5L1420.7,934.7L1418.7,932.9L1416.8,931.1L1414.9,929.3L1413.0,927.5L1411.1,925.7L1409.2,923.8L1407.3,922.0L1405.4,920.1L1403.5,918.3L1401.7,916.4L1399.8,914.5L1398.0,912.6L1396.1,910.7L1394.3,908.8L1392.5,906.9L1390.7,904.9L1388.9,903.0L1387.1,901.1L1385.3,899.1L1383.6,897.1L1381.8,895.2L1380.1,893.2L1378.3,891.2L1376.6,889.2L1374.9,887.2L1373.2,885.2L1371.5,883.2L1369.8,881.2L1368.1,879.1L1366.4,877.1L1364.7,875.1L1363.1,873.0L1361.4,870.9L1359.8,868.9L1358.2,866.8L1356.6,864.7L1354.9,862.6L1353.3,860.5L1351.7,858.4L1350.2,856.3L1348.6,854.2L1347.0,852.1L1345.5,850.0L1343.9,847.8L1342.4,845.7L1340.8,843.5L1339.3,841.4L1337.8,839.2L1336.3,837.0L1334.8,834.9L1333.3,832.7L1331.8,830.5L1330.3,828.3L1328.9,826.1L1327.4,823.9L1326.0,821.7L1324.5,819.5L1323.1,817.2L1321.6,815.0L1320.2,812.8L1318.8,810.5L1317.4,808.3L1316.0,806.0L1314.6,803.8L1313.2,801.5L1311.8,799.3L1310.5,797.0L1309.1,794.7L1307.8,792.4L1306.4,790.1L1305.1,787.9L1303.7,785.6L1302.4,783.3L1301.1,781.0L1299.8,778.7L1298.4,776.3L1297.1,774.0L1295.8,771.7L1294.5,769.4L1293.3,767.1L1292.0,764.7L1290.7,762.4L1289.4,760.1L1288.2,757.7L1286.9,755.4L1285.6,753.0L1284.4,750.7L1283.2,748.3L1281.9,746.0L1280.7,743.6L1279.5,741.2L1278.2,738.9L1277.0,736.5L1275.8,734.1L1274.6,731.8L1273.4,729.4L1272.2,727.0L1271.0,724.6L1269.8,722.3L1268.6,719.9L1267.4,717.5L1266.3,715.1L1265.1,712.7L1263.9,710.3L1262.7,707.9L1261.6,705.5L1260.4,703.1L1259.3,700.7L1258.1,698.3L1257.0,695.9L1255.8,693.5L1254.7,691.1L1253.5,688.7L1252.4,686.3L1251.3,683.9L1250.1,681.5L1249.0,679.1L1247.9,676.6L1246.8,674.2L1245.7,671.8L1244.6,669.4L1243.4,667.0L1242.3,664.6L1241.2,662.1L1240.1,659.7L1239.0,657.3L1237.9,654.9L1236.9,652.4L1235.8,650.0L1234.7,647.6L1233.6,645.2L1232.5,642.7L1231.4,640.3L1230.4,637.9L1229.3,635.4L1228.2,633.0L1227.2,630.6L1226.1,628.1L1225.0,625.7L1224.0,623.3L1222.9,620.8L1221.9,618.4L1220.8,615.9L1219.8,613.5L1218.7,611.0L1217.7,608.6L1216.7,606.2L1215.6,603.7L1214.6,601.3L1213.5,598.8L1212.5,596.4L1211.5,593.9L1210.5,591.5L1209.4,589.0L1208.4,586.6L1207.4,584.1L1206.4,581.6L1205.4,579.2L1204.3,576.7L1203.3,574.3L1202.3,571.8L1201.3,569.3L1200.3,566.9L1199.3,564.4L1198.3,562.0L1197.3,559.5L1196.3,557.0L1195.3,554.6L1194.3,552.1L1193.3,549.6L1192.3,547.2L1191.3,544.7L1190.4,542.2L1189.4,539.7L1188.4,537.3L1187.4,534.8L1186.4,532.3L1185.4,529.9L1184.5,527.4L1183.5,524.9L1182.5,522.4L1181.5,519.9L1180.6,517.5L1179.6,515.0L1178.6,512.5L1177.7,510.0L1176.7,507.5L1175.7,505.1L1174.8,502.6L1173.8,500.1L1172.8,497.6L1171.9,495.1L1170.9,492.6L1169.9,490.1L1169.0,487.6L1168.0,485.2L1167.1,482.7L1166.1,480.2L1165.2,477.7L1164.2,475.2L1163.3,472.7L1162.3,470.2L1161.3,467.7L1160.4,465.2L1159.4,462.7L1158.5,460.2L1157.5,457.7L1156.6,455.2L1155.6,452.7L1154.7,450.3L1153.7,447.8L1152.8,445.3L1151.8,442.8L1150.8,440.3L1149.9,437.8L1148.9,435.3L1148.0,432.8L1147.0,430.3L1146.1,427.8L1145.1,425.3L1144.1,422.8L1143.2,420.3L1142.2,417.8L1141.2,415.3L1140.3,412.8L1139.3,410.3L1138.3,407.8L1137.4,405.4L1136.4,402.9L1135.4,400.4L1134.4,397.9L1133.5,395.4L1132.5,392.9L1131.5,390.4L1130.5,387.9L1129.5,385.4L1128.6,383.0L1127.6,380.5L1126.6,378.0L1125.6,375.5L1124.6,373.0L1123.6,370.5L1122.6,368.1L1121.6,365.6L1120.6,363.1L1119.6,360.6L1118.5,358.2L1117.5,355.7L1116.5,353.2L1115.5,350.7L1114.5,348.3L1113.4,345.8L1112.4,343.3L1111.4,340.9L1110.3,338.4L1109.3,336.0L1108.3,333.5L1107.2,331.0L1106.2,328.6L1105.1,326.1L1104.0,323.7L1103.0,321.2L1101.9,318.8L1100.8,316.3L1099.8,313.9L1098.7,311.4L1097.6,309.0L1096.5,306.6L1095.4,304.1L1094.3,301.7L1093.2,299.2L1092.1,296.8L1091.0,294.4L1089.9,292.0L1088.8,289.5L1087.6,287.1L1086.5,284.7L1085.4,282.3L1084.2,279.9L1083.1,277.4L1081.9,275.0L1080.8,272.6L1079.6,270.2L1078.5,267.8L1077.3,265.4L1076.1,263.0L1074.9,260.6L1073.7,258.2L1072.5,255.8L1071.3,253.5L1070.1,251.1L1068.9,248.7L1067.7,246.3L1066.5,243.9L1065.2,241.6L1064.0,239.2L1062.8,236.8L1061.5,234.5L1060.3,232.1L1059.0,229.8L1057.7,227.4L1056.5,225.1L1055.2,222.7L1053.9,220.4L1052.6,218.0L1051.3,215.7L1050.0,213.4L1048.7,211.0L1047.3,208.7L1046.0,206.4L1044.7,204.1L1043.3,201.7L1042.0,199.4L1040.6,197.1L1039.2,194.8L1037.8,192.5L1036.4,190.2L1035.0,187.9L1033.6,185.6L1032.2,183.3L1030.7,181.0L1029.3,178.8L1027.8,176.5L1026.3,174.2L1024.7,172.0L1023.2,169.8L1021.6,167.5L1020.0,165.3L1018.3,163.1L1016.7,160.9L1015.0,158.8L1013.2,156.6L1011.5,154.5L1009.6,152.4L1007.8,150.4L1005.9,148.3L1003.9,146.3L1001.9,144.4L999.9,142.4L997.8,140.5L995.6,138.7L993.4,136.9L991.1,135.1L988.8,133.5L986.5,131.9L984.0,130.4L981.6,129.0L979.1,127.7L976.5,126.4L973.9,125.3L971.3,124.3L968.6,123.4L965.9,122.6L963.1,121.9L960.4,121.3L957.6,120.8L954.8,120.5L951.9,120.2L949.1,120.1L946.3,120.1L943.5,120.2L940.6,120.4L937.8,120.7L935.0,121.1L932.2,121.6L929.4,122.3L926.6,123.0L923.9,123.8L921.2,124.6L918.5,125.6L915.8,126.7L913.2,127.8L910.6,129.0L908.1,130.4L905.6,131.8L903.2,133.3L900.8,134.8L898.5,136.4L896.2,138.1L894.0,139.9L891.9,141.7L889.8,143.6L887.8,145.5L885.8,147.5L883.9,149.5L882.0,151.5L880.2,153.6L878.5,155.7L876.7,157.9L875.1,160.1L873.5,162.3L871.9,164.5L870.3,166.7L868.8,169.0L867.3,171.2L865.8,173.5L864.3,175.8L862.9,178.1L861.5,180.4L860.1,182.8L858.7,185.1L857.3,187.4L856.0,189.8L854.7,192.1L853.3,194.5L852.0,196.8L850.7,199.2L849.4,201.5L848.2,203.9L846.9,206.3L845.6,208.6L844.4,211.0L843.1,213.4L841.9,215.8L840.6,218.1L839.4,220.5L838.2,222.9L837.0,225.3L835.8,227.7L834.6,230.1L833.4,232.5L832.2,234.9L831.0,237.3L829.9,239.7L828.7,242.1L827.5,244.5L826.4,246.9L825.2,249.4L824.1,251.8L822.9,254.2L821.8,256.6L820.7,259.0L819.5,261.4L818.4,263.9L817.3,266.3L816.2,268.7L815.0,271.1L813.9,273.6L812.8,276.0L811.7,278.4L810.6,280.9L809.5,283.3L808.4,285.7L807.3,288.1L806.2,290.6L805.1,293.0L804.0,295.4L802.9,297.9L801.8,300.3L800.7,302.7L799.6,305.1L798.5,307.6L797.4,310.0L796.3,312.4L795.2,314.9L794.1,317.3L793.0,319.7L791.9,322.1L790.8,324.6L789.7,327.0L788.6,329.4L787.5,331.9L786.4,334.3L785.3,336.7L784.2,339.1L783.1,341.6L782.0,344.0L780.9,346.4L779.8,348.9L778.7,351.3L777.6,353.7L776.5,356.1L775.4,358.6L774.3,361.0L773.2,363.4L772.1,365.9L771.0,368.3L769.9,370.7L768.8,373.2L767.7,375.6L766.6,378.0L765.5,380.4L764.4,382.9L763.3,385.3L762.2,387.7L761.1,390.2L760.0,392.6L758.9,395.0L757.8,397.4L756.7,399.9L755.6,402.3L754.5,404.7L753.4,407.2L752.3,409.6L751.2,412.0L750.1,414.5L749.0,416.9L747.9,419.3L746.8,421.7L745.7,424.2L744.6,426.6L743.5,429.0L742.4,431.5L741.3,433.9L740.2,436.3L739.1,438.8L738.0,441.2L736.9,443.6L735.8,446.0L734.7,448.5L733.6,450.9L732.6,453.3L731.5,455.8L730.4,458.2L729.3,460.6L728.2,463.1L727.1,465.5L726.0,467.9L724.9,470.4L723.8,472.8L722.7,475.2L721.6,477.6L720.5,480.1L719.4,482.5L718.3,484.9L717.2,487.4L716.1,489.8L715.0,492.2L713.9,494.7L712.8,497.1L711.7,499.5L710.6,502.0L709.5,504.4L708.4,506.8L707.3,509.2L706.3,511.7L705.2,514.1L704.1,516.5L703.0,519.0L701.9,521.4L700.8,523.8L699.7,526.3L698.6,528.7L697.5,531.1L696.4,533.6L695.3,536.0L694.2,538.4L693.1,540.8L692.0,543.3L690.9,545.7L689.8,548.1L688.7,550.6L687.6,553.0L686.5,555.4L685.4,557.9L684.4,560.3L683.3,562.7L682.2,565.2L681.1,567.6L680.0,570.0L678.9,572.5L677.8,574.9L676.7,577.3L675.6,579.7L674.5,582.2L673.4,584.6L672.3,587.0L671.2,589.5L670.1,591.9L669.0,594.3L667.9,596.8L666.9,599.2L665.8,601.6L664.7,604.1L663.6,606.5L662.5,608.9L661.4,611.4L660.3,613.8L659.2,616.2L658.1,618.7L657.0,621.1L655.9,623.5L654.8,626.0L653.7,628.4L652.6,630.8L651.5,633.2L650.5,635.7L649.4,638.1L648.3,640.5L647.2,643.0L646.1,645.4L645.0,647.8L643.9,650.3L642.8,652.7L641.7,655.1L640.6,657.6L639.5,660.0L638.4,662.4L637.3,664.9L636.2,667.3L635.2,669.7L634.1,672.2L633.0,674.6L631.9,677.0L630.8,679.5L629.7,681.9L628.6,684.3L627.5,686.8L626.4,689.2L625.3,691.6L624.2,694.0L623.1,696.5L622.0,698.9L621.0,701.3L619.9,703.8L618.8,706.2L617.7,708.6L616.6,711.1L615.5,713.5L614.4,715.9L613.3,718.4L612.2,720.8L611.1,723.2L610.0,725.7L608.9,728.1L607.9,730.5L606.8,733.0L605.7,735.4L604.6,737.8L603.5,740.3L602.4,742.7L601.3,745.1L600.2,747.6L599.1,750.0L598.0,752.4L596.9,754.9L595.8,757.3L594.8,759.7L593.7,762.2L592.6,764.6L591.5,767.0L590.4,769.5L589.3,771.9L588.2,774.3L587.1,776.8L586.0,779.2L584.9,781.6L583.8,784.1L582.7,786.5L581.7,788.9L580.6,791.3L579.5,793.8L578.4,796.2L577.3,798.6L576.2,801.1L575.1,803.5L574.0,805.9L572.9,808.4L571.8,810.8L570.7,813.2L569.7,815.7L568.6,818.1L567.5,820.5L566.4,823.0L565.3,825.4L564.2,827.8L563.1,830.3L562.0,832.7L560.9,835.1L559.8,837.6L558.7,840.0L557.6,842.4L556.6,844.9L555.5,847.3L554.4,849.7L553.3,852.2L552.2,854.6L551.1,857.0L550.0,859.5L548.9,861.9L547.8,864.3L546.7,866.8L545.7,869.2L544.6,871.6L543.5,874.1L542.4,876.5L541.3,878.9L540.2,881.4L539.1,883.8L538.0,886.2L536.9,888.7L535.8,891.1L534.7,893.5L533.7,896.0L532.6,898.4L531.5,900.8L530.4,903.3L529.3,905.7L528.2,908.1L527.1,910.6L526.0,913.0L524.9,915.4L523.8,917.9L522.7,920.3L521.7,922.7L520.6,925.2L519.5,927.6L518.4,930.0L517.3,932.5L516.2,934.9L515.1,937.3L514.0,939.7L512.9,942.2L511.8,944.6L510.7,947.0L509.7,949.5L508.6,951.9L507.5,954.3L506.4,956.8L505.3,959.2L504.2,961.6L503.1,964.1L502.0,966.5L500.9,968.9L499.8,971.4L498.7,973.8L497.7,976.2L496.6,978.7L495.5,981.1L494.4,983.5L493.3,986.0L492.2,988.4L491.1,990.8L490.0,993.3L488.9,995.7L487.8,998.1L486.7,1000.6L485.7,1003.0L484.6,1005.4L483.5,1007.9L482.4,1010.3L481.3,1012.7L480.2,1015.2L479.1,1017.6L478.0,1020.0L476.9,1022.5L475.8,1024.9L474.7,1027.3L473.7,1029.8L472.6,1032.2L471.5,1034.6L470.4,1037.1L469.3,1039.5L468.2,1041.9L467.1,1044.4L466.0,1046.8L464.9,1049.2L463.8,1051.7L462.7,1054.1L461.7,1056.5L460.6,1059.0L459.5,1061.4L458.4,1063.8L457.3,1066.3L456.2,1068.7L455.1,1071.1L454.0,1073.6L452.9,1076.0L451.8,1078.4L450.7,1080.8L449.7,1083.3L448.6,1085.7L447.5,1088.1L446.4,1090.6L445.3,1093.0L444.2,1095.4L443.1,1097.9L442.0,1100.3L440.9,1102.7L439.8,1105.2L438.7,1107.6L437.6,1110.0L436.6,1112.5L435.5,1114.9L434.4,1117.3L433.3,1119.8L432.2,1122.2L431.1,1124.6L430.0,1127.1L428.9,1129.5L427.8,1131.9L426.7,1134.4L425.6,1136.8L424.5,1139.2L423.5,1141.7L422.4,1144.1L421.3,1146.5L420.2,1149.0L419.1,1151.4L418.0,1153.8L416.9,1156.3L415.8,1158.7L414.7,1161.1L413.6,1163.6L412.5,1166.0L411.4,1168.4L410.4,1170.8L409.3,1173.3L408.2,1175.7L407.1,1178.1L406.0,1180.6L404.9,1183.0L403.8,1185.4L402.7,1187.9L401.6,1190.3L400.5,1192.7L399.4,1195.2L398.3,1197.6L397.2,1200.0L396.2,1202.5L395.1,1204.9L394.0,1207.3L392.9,1209.8L391.8,1212.2L390.7,1214.6L389.6,1217.1L388.5,1219.5L387.4,1221.9L386.3,1224.4L385.2,1226.8L384.1,1229.2L383.0,1231.6L381.9,1234.1L380.9,1236.5L379.8,1238.9L378.7,1241.4L377.6,1243.8L376.5,1246.2L375.4,1248.7L374.3,1251.1L373.2,1253.5L372.1,1256.0L371.0,1258.4L369.9,1260.8L368.8,1263.3L367.7,1265.7L366.6,1268.1L365.6,1270.6L364.5,1273.0L363.4,1275.4L362.3,1277.8L361.2,1280.3L360.1,1282.7L359.0,1285.1L357.9,1287.6L356.8,1290.0L355.7,1292.4L354.6,1294.9L353.5,1297.3L352.4,1299.7L351.3,1302.2L350.2,1304.6L349.1,1307.0L348.0,1309.5L347.0,1311.9L345.9,1314.3L344.8,1316.8L343.7,1319.2L342.6,1321.6L341.5,1324.0L340.4,1326.5L339.3,1328.9L338.2,1331.3L337.1,1333.8L336.0,1336.2L334.9,1338.6L333.8,1341.1L332.7,1343.5L331.6,1345.9L330.5,1348.4L329.4,1350.8L328.3,1353.2L327.3,1355.6L326.2,1358.1L325.1,1360.5L324.0,1362.9L322.9,1365.4L321.8,1367.8L320.7,1370.2L319.6,1372.7L318.5,1375.1L317.4,1377.5L316.3,1380.0L315.2,1382.4L314.1,1384.8L313.0,1387.2L311.9,1389.7L310.8,1392.1L309.7,1394.5L308.6,1397.0L307.5,1399.4L306.4,1401.8L305.3,1404.3L304.2,1406.7L303.1,1409.1L302.0,1411.5L301.0,1414.0L299.9,1416.4L298.8,1418.8L297.7,1421.3L296.6,1423.7L295.5,1426.1L294.4,1428.6L293.3,1431.0L292.2,1433.4L291.1,1435.8L290.0,1438.3L288.9,1440.7L287.8,1443.1L286.7,1445.6L285.6,1448.0L284.5,1450.4L283.4,1452.9L282.3,1455.3L281.2,1457.7L280.1,1460.1L279.0,1462.6L277.9,1465.0L276.8,1467.4L275.7,1469.9L274.6,1472.3L273.5,1474.7L272.4,1477.2L271.3,1479.6L270.2,1482.0L269.1,1484.4L268.0,1486.9L266.9,1489.3L265.8,1491.7L264.7,1494.2Z" fill="#ff00ff" stroke="none"/>
</g>
<g fill="#000" shape-rendering="crispEdges">
<rect x="259" y="31" width="8" height="1469"/>
<rect x="259" y="31" width="1821" height="8"/>
<rect x="2072" y="31" width="8" height="1469"/>
<rect x="259" y="1491" width="1821" height="9"/>
<rect x="863.00" y="1467" width="9" height="26"/>
<rect x="1467.50" y="1467" width="9" height="26"/>
<rect x="560.75" y="1481" width="9" height="12"/>
<rect x="1165.25" y="1481" width="9" height="12"/>
<rect x="1769.75" y="1481" width="9" height="12"/>
<rect x="265" y="1073.71" width="27" height="9"/>
<rect x="265" y="656.43" width="27" height="9"/>
<rect x="265" y="239.14" width="27" height="9"/>
<rect x="265" y="1282.36" width="13" height="9"/>
<rect x="265" y="865.07" width="13" height="9"/>
<rect x="265" y="447.79" width="13" height="9"/>
</g>
<defs><filter id="crisp" x="0" y="0" width="100%" height="100%" filterUnits="userSpaceOnUse" color-interpolation-filters="sRGB"><feComponentTransfer><feFuncA type="discrete" tableValues="0 1"/></feComponentTransfer></filter></defs>
<g filter="url(#crisp)">
<g class="b" font-size="76.5">
<text transform="translate(263.00,1586.7) scale(1,1.02)" text-anchor="middle">0</text>
<text transform="translate(867.50,1586.7) scale(1,1.02)" text-anchor="middle">100</text>
<text transform="translate(1472.00,1586.7) scale(1,1.02)" text-anchor="middle">200</text>
<text transform="translate(2076.50,1586.7) scale(1,1.02)" text-anchor="middle">300</text>
<text transform="translate(232,1519.80) scale(1,1.02)" text-anchor="end">0.0</text>
<text transform="translate(232,1102.51) scale(1,1.02)" text-anchor="end">0.2</text>
<text transform="translate(232,685.23) scale(1,1.02)" text-anchor="end">0.4</text>
<text transform="translate(232,267.94) scale(1,1.02)" text-anchor="end">0.6</text>
</g>
<text class="b" font-size="83.0" transform="translate(1009,1681) scale(1,1.015)">Time (s)</text>
<text class="b" font-size="83.0" transform="translate(90,1306) rotate(-90) scale(1,1.015)">The mass fraction of soot (g/L)</text>
<g shape-rendering="crispEdges">
<rect x="1603" y="274" width="109" height="9" fill="#000000"/>
<rect x="1603" y="368" width="109" height="8" fill="#ff0000"/>
<rect x="1603" y="462" width="109" height="8" fill="#00ff00"/>
<rect x="1603" y="556" width="109" height="8" fill="#0000ff"/>
<rect x="1603" y="649" width="109" height="9" fill="#00ffff"/>
<rect x="1603" y="743" width="109" height="8" fill="#ff00ff"/>
</g>
<g class="r" font-size="76.0">
<text transform="translate(1731.5,295.30) scale(1,1.02)">100</text>
<text transform="translate(1731.5,389.30) scale(1,1.02)">150</text>
<text transform="translate(1731.5,483.30) scale(1,1.02)">200</text>
<text transform="translate(1731.5,577.30) scale(1,1.02)">250</text>
<text transform="translate(1731.5,670.30) scale(1,1.02)">300</text>
<text transform="translate(1731.5,764.30) scale(1,1.02)">350</text>
</g>
</g>
</svg>
</body></html>
